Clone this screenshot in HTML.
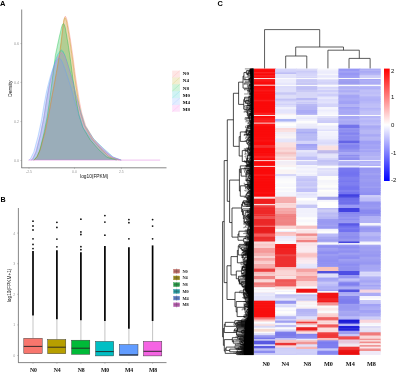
<!DOCTYPE html><html><head><meta charset="utf-8"><style>html,body{margin:0;padding:0;background:#fff;}svg{display:block;filter:blur(0.3px);}</style></head><body><svg width="401" height="382" viewBox="0 0 401 382"><rect x="0" y="0" width="401" height="382" fill="#fff"/>
<text x="-0.1" y="6.0" font-family='"Liberation Sans", sans-serif' font-weight="bold" font-size="7.5" fill="#000">A</text>
<polygon points="28.5,160.10 34.30,160.10 35.55,158.90 36.80,157.70 37.59,156.50 38.08,155.30 38.56,154.10 39.05,152.91 39.54,151.71 40.02,150.51 40.51,149.31 40.93,148.11 41.26,146.91 41.58,145.71 41.91,144.51 42.24,143.31 42.56,142.11 42.89,140.91 43.22,139.71 43.54,138.51 43.87,137.32 44.19,136.12 44.52,134.92 44.85,133.72 45.17,132.52 45.50,131.32 45.74,130.12 45.99,128.92 46.23,127.72 46.47,126.52 46.72,125.32 46.96,124.12 47.21,122.93 47.45,121.73 47.69,120.53 47.94,119.33 48.18,118.13 48.42,116.93 48.67,115.73 48.91,114.53 49.15,113.33 49.38,112.13 49.60,110.93 49.81,109.73 50.02,108.54 50.23,107.34 50.45,106.14 50.66,104.94 50.87,103.74 51.08,102.54 51.29,101.34 51.51,100.14 51.72,98.94 51.93,97.74 52.15,96.54 52.37,95.34 52.60,94.15 52.83,92.95 53.05,91.75 53.28,90.55 53.51,89.35 53.74,88.15 53.96,86.95 54.19,85.75 54.42,84.55 54.65,83.35 54.87,82.15 55.10,80.95 55.32,79.76 55.53,78.56 55.75,77.36 55.97,76.16 56.18,74.96 56.40,73.76 56.62,72.56 56.83,71.36 57.05,70.16 57.27,68.96 57.48,67.76 57.70,66.56 57.89,65.37 58.08,64.17 58.27,62.97 58.47,61.77 58.66,60.57 58.85,59.37 59.04,58.17 59.23,56.97 59.42,55.77 59.62,54.57 59.81,53.37 60.00,52.17 60.16,50.98 60.31,49.78 60.47,48.58 60.62,47.38 60.78,46.18 60.94,44.98 61.09,43.78 61.25,42.58 61.41,41.38 61.55,40.18 61.68,38.98 61.81,37.78 61.95,36.59 62.08,35.39 62.21,34.19 62.34,32.99 62.47,31.79 62.60,30.59 62.75,29.39 62.90,28.19 63.05,26.99 63.20,25.79 63.35,24.59 63.50,23.39 63.69,22.20 63.88,21.00 64.07,19.80 64.26,18.60 64.74,17.40 65.30,16.20 66.13,17.40 66.57,18.60 66.90,19.80 67.23,21.00 67.47,22.20 67.67,23.39 67.88,24.59 68.08,25.79 68.29,26.99 68.50,28.19 68.70,29.39 68.91,30.59 69.12,31.79 69.32,32.99 69.53,34.19 69.74,35.39 69.94,36.59 70.15,37.78 70.33,38.98 70.51,40.18 70.68,41.38 70.86,42.58 71.03,43.78 71.21,44.98 71.38,46.18 71.55,47.38 71.73,48.58 71.90,49.78 72.08,50.98 72.25,52.17 72.43,53.37 72.60,54.57 72.78,55.77 72.95,56.97 73.13,58.17 73.30,59.37 73.45,60.57 73.60,61.77 73.75,62.97 73.90,64.17 74.05,65.37 74.20,66.56 74.35,67.76 74.50,68.96 74.65,70.16 74.80,71.36 74.95,72.56 75.10,73.76 75.28,74.96 75.46,76.16 75.65,77.36 75.83,78.56 76.01,79.76 76.19,80.95 76.37,82.15 76.56,83.35 76.74,84.55 76.92,85.75 77.11,86.95 77.29,88.15 77.48,89.35 77.67,90.55 77.86,91.75 78.05,92.95 78.23,94.15 78.42,95.34 78.61,96.54 78.80,97.74 78.99,98.94 79.19,100.14 79.42,101.34 79.66,102.54 79.89,103.74 80.12,104.94 80.35,106.14 80.58,107.34 80.81,108.54 81.04,109.73 81.28,110.93 81.51,112.13 81.82,113.33 82.19,114.53 82.56,115.73 82.93,116.93 83.30,118.13 83.67,119.33 84.04,120.53 84.41,121.73 84.79,122.93 85.16,124.12 85.53,125.32 86.17,126.52 86.87,127.72 87.58,128.92 88.28,130.12 88.99,131.32 89.70,132.52 90.40,133.72 91.11,134.92 91.82,136.12 92.52,137.32 93.23,138.51 94.20,139.71 95.25,140.91 96.30,142.11 97.35,143.31 98.40,144.51 99.45,145.71 100.50,146.91 101.55,148.11 102.60,149.31 103.92,150.51 105.24,151.71 106.55,152.91 107.87,154.10 109.19,155.30 110.51,156.50 112.97,157.70 117.13,158.90 121.30,160.10 160,160.10" fill="#F8766D" fill-opacity="0.20" stroke="none"/>
<polygon points="28.5,160.10 33.90,160.10 35.15,158.91 36.40,157.72 37.19,156.54 37.68,155.35 38.16,154.16 38.65,152.97 39.14,151.79 39.62,150.60 40.11,149.41 40.53,148.22 40.86,147.04 41.18,145.85 41.51,144.66 41.84,143.47 42.16,142.29 42.49,141.10 42.82,139.91 43.14,138.72 43.47,137.54 43.79,136.35 44.12,135.16 44.45,133.97 44.77,132.79 45.10,131.60 45.34,130.41 45.59,129.22 45.83,128.04 46.07,126.85 46.32,125.66 46.56,124.47 46.81,123.29 47.05,122.10 47.29,120.91 47.54,119.72 47.78,118.54 48.02,117.35 48.27,116.16 48.51,114.97 48.75,113.79 48.98,112.60 49.20,111.41 49.41,110.22 49.62,109.04 49.83,107.85 50.05,106.66 50.26,105.47 50.47,104.29 50.68,103.10 50.89,101.91 51.11,100.72 51.32,99.54 51.53,98.35 51.75,97.16 51.97,95.97 52.20,94.79 52.43,93.60 52.65,92.41 52.88,91.22 53.11,90.04 53.34,88.85 53.56,87.66 53.79,86.48 54.02,85.29 54.25,84.10 54.47,82.91 54.70,81.72 54.92,80.54 55.13,79.35 55.35,78.16 55.57,76.97 55.78,75.79 56.00,74.60 56.22,73.41 56.43,72.22 56.65,71.04 56.87,69.85 57.08,68.66 57.30,67.47 57.49,66.29 57.68,65.10 57.88,63.91 58.07,62.72 58.26,61.54 58.45,60.35 58.64,59.16 58.83,57.97 59.03,56.79 59.22,55.60 59.41,54.41 59.60,53.22 59.76,52.04 59.91,50.85 60.07,49.66 60.23,48.47 60.38,47.29 60.54,46.10 60.69,44.91 60.85,43.72 61.01,42.54 61.15,41.35 61.28,40.16 61.41,38.97 61.55,37.79 61.68,36.60 61.81,35.41 61.94,34.22 62.07,33.04 62.20,31.85 62.35,30.66 62.50,29.47 62.65,28.29 62.80,27.10 62.95,25.91 63.10,24.72 63.29,23.54 63.48,22.35 63.67,21.16 63.86,19.97 64.34,18.79 64.90,17.60 65.71,18.79 66.13,19.97 66.45,21.16 66.78,22.35 67.00,23.54 67.20,24.72 67.40,25.91 67.60,27.10 67.80,28.29 68.00,29.47 68.20,30.66 68.40,31.85 68.60,33.04 68.80,34.22 69.00,35.41 69.20,36.60 69.40,37.79 69.60,38.97 69.78,40.16 69.95,41.35 70.12,42.54 70.29,43.72 70.46,44.91 70.63,46.10 70.80,47.29 70.97,48.47 71.14,49.66 71.31,50.85 71.47,52.04 71.64,53.22 71.81,54.41 71.98,55.60 72.15,56.79 72.32,57.97 72.49,59.16 72.66,60.35 72.81,61.54 72.95,62.72 73.10,63.91 73.24,65.10 73.39,66.29 73.53,67.47 73.68,68.66 73.82,69.85 73.97,71.04 74.12,72.22 74.26,73.41 74.41,74.60 74.58,75.79 74.76,76.97 74.94,78.16 75.11,79.35 75.29,80.54 75.47,81.72 75.64,82.91 75.82,84.10 75.99,85.29 76.17,86.48 76.35,87.66 76.53,88.85 76.72,90.04 76.90,91.22 77.08,92.41 77.26,93.60 77.45,94.79 77.63,95.97 77.81,97.16 77.99,98.35 78.18,99.54 78.38,100.72 78.60,101.91 78.82,103.10 79.05,104.29 79.27,105.47 79.50,106.66 79.72,107.85 79.95,109.04 80.17,110.22 80.40,111.41 80.62,112.60 80.93,113.79 81.29,114.97 81.65,116.16 82.00,117.35 82.36,118.54 82.72,119.72 83.08,120.91 83.44,122.10 83.80,123.29 84.16,124.47 84.52,125.66 85.14,126.85 85.82,128.04 86.51,129.22 87.20,130.41 87.88,131.60 88.57,132.79 89.25,133.97 89.94,135.16 90.62,136.35 91.31,137.54 91.99,138.72 92.93,139.91 93.95,141.10 94.97,142.29 95.99,143.47 97.01,144.66 98.02,145.85 99.04,147.04 100.06,148.22 101.08,149.41 102.36,150.60 103.64,151.79 104.92,152.97 106.20,154.16 107.47,155.35 108.75,156.54 111.14,157.72 115.18,158.91 119.22,160.10 160,160.10" fill="#B79F00" fill-opacity="0.20" stroke="none"/>
<polygon points="28.5,160.10 33.50,160.10 34.75,158.96 36.00,157.82 36.83,156.69 37.39,155.55 37.94,154.41 38.50,153.28 39.06,152.14 39.56,151.00 39.84,149.86 40.12,148.72 40.40,147.59 40.69,146.45 40.97,145.31 41.25,144.17 41.53,143.04 41.81,141.90 42.10,140.76 42.38,139.62 42.66,138.49 42.94,137.35 43.23,136.21 43.51,135.07 43.77,133.94 44.00,132.80 44.23,131.66 44.45,130.53 44.68,129.39 44.91,128.25 45.13,127.11 45.36,125.97 45.59,124.84 45.81,123.70 46.04,122.56 46.27,121.42 46.49,120.29 46.72,119.15 46.95,118.01 47.16,116.88 47.33,115.74 47.51,114.60 47.68,113.46 47.85,112.32 48.03,111.19 48.20,110.05 48.38,108.91 48.55,107.78 48.73,106.64 48.90,105.50 49.08,104.36 49.25,103.22 49.43,102.09 49.60,100.95 49.76,99.81 49.91,98.67 50.05,97.54 50.20,96.40 50.34,95.26 50.48,94.12 50.63,92.99 50.77,91.85 50.92,90.71 51.06,89.58 51.20,88.44 51.35,87.30 51.49,86.16 51.64,85.02 51.78,83.89 51.92,82.75 52.07,81.61 52.21,80.47 52.36,79.34 52.50,78.20 52.64,77.06 52.79,75.92 52.93,74.79 53.08,73.65 53.22,72.51 53.36,71.37 53.51,70.24 53.65,69.10 53.79,67.96 53.94,66.82 54.08,65.69 54.23,64.55 54.37,63.41 54.51,62.27 54.66,61.14 54.80,60.00 54.95,58.86 55.09,57.72 55.23,56.59 55.38,55.45 55.60,54.31 55.84,53.17 56.08,52.04 56.32,50.90 56.56,49.76 56.80,48.62 57.04,47.49 57.28,46.35 57.52,45.21 57.76,44.08 58.00,42.94 58.24,41.80 58.48,40.66 58.72,39.52 58.96,38.39 59.23,37.25 59.50,36.11 59.78,34.97 60.05,33.84 60.32,32.70 60.59,31.56 60.87,30.43 61.12,29.29 61.37,28.15 61.68,27.01 62.06,25.88 62.44,24.74 63.50,23.60 64.29,24.74 64.70,25.88 65.02,27.01 65.34,28.15 65.56,29.29 65.75,30.43 65.95,31.56 66.15,32.70 66.34,33.84 66.54,34.97 66.73,36.11 66.93,37.25 67.13,38.39 67.32,39.52 67.52,40.66 67.72,41.80 67.91,42.94 68.11,44.08 68.28,45.21 68.45,46.35 68.61,47.49 68.78,48.62 68.94,49.76 69.11,50.90 69.28,52.04 69.44,53.17 69.61,54.31 69.77,55.45 69.94,56.59 70.11,57.72 70.27,58.86 70.44,60.00 70.60,61.14 70.77,62.27 70.93,63.41 71.10,64.55 71.24,65.69 71.39,66.82 71.53,67.96 71.67,69.10 71.81,70.24 71.95,71.37 72.10,72.51 72.24,73.65 72.38,74.79 72.53,75.92 72.67,77.06 72.81,78.20 72.98,79.34 73.16,80.47 73.33,81.61 73.50,82.75 73.67,83.89 73.85,85.02 74.02,86.16 74.19,87.30 74.37,88.44 74.54,89.58 74.72,90.71 74.89,91.85 75.07,92.99 75.25,94.12 75.43,95.26 75.61,96.40 75.79,97.54 75.97,98.67 76.15,99.81 76.32,100.95 76.50,102.09 76.70,103.22 76.92,104.36 77.14,105.50 77.36,106.64 77.58,107.78 77.80,108.91 78.02,110.05 78.24,111.19 78.46,112.32 78.68,113.46 78.90,114.60 79.20,115.74 79.55,116.88 79.90,118.01 80.25,119.15 80.60,120.29 80.96,121.42 81.31,122.56 81.66,123.70 82.01,124.84 82.36,125.97 82.71,127.11 83.32,128.25 83.99,129.39 84.66,130.53 85.34,131.66 86.01,132.80 86.68,133.94 87.35,135.07 88.02,136.21 88.69,137.35 89.36,138.49 90.03,139.62 90.95,140.76 91.95,141.90 92.95,143.04 93.95,144.17 94.94,145.31 95.94,146.45 96.94,147.59 97.94,148.72 98.94,149.86 100.19,151.00 101.44,152.14 102.69,153.28 103.94,154.41 105.20,155.55 106.45,156.69 108.78,157.82 112.74,158.96 116.70,160.10 160,160.10" fill="#00BA38" fill-opacity="0.26" stroke="none"/>
<polygon points="28.5,160.10 31.54,160.10 32.47,159.18 33.30,158.26 33.71,157.35 34.12,156.43 34.53,155.51 34.94,154.59 35.35,153.68 35.77,152.76 36.18,151.84 36.49,150.92 36.72,150.01 36.95,149.09 37.18,148.17 37.40,147.25 37.63,146.34 37.86,145.42 38.08,144.50 38.31,143.59 38.54,142.67 38.76,141.75 38.99,140.83 39.22,139.91 39.45,139.00 39.67,138.08 39.90,137.16 40.13,136.25 40.35,135.33 40.58,134.41 40.78,133.49 40.95,132.57 41.13,131.66 41.31,130.74 41.49,129.82 41.67,128.91 41.85,127.99 42.03,127.07 42.21,126.15 42.39,125.23 42.56,124.32 42.74,123.40 42.92,122.48 43.10,121.56 43.28,120.65 43.46,119.73 43.64,118.81 43.82,117.90 43.99,116.98 44.13,116.06 44.27,115.14 44.41,114.22 44.55,113.31 44.69,112.39 44.83,111.47 44.96,110.55 45.10,109.64 45.24,108.72 45.38,107.80 45.52,106.88 45.66,105.97 45.79,105.05 45.93,104.13 46.07,103.22 46.21,102.30 46.35,101.38 46.48,100.46 46.63,99.54 46.79,98.63 46.95,97.71 47.11,96.79 47.28,95.88 47.44,94.96 47.60,94.04 47.77,93.12 47.93,92.20 48.09,91.29 48.25,90.37 48.42,89.45 48.58,88.53 48.74,87.62 48.90,86.70 49.10,85.78 49.30,84.86 49.50,83.95 49.70,83.03 49.89,82.11 50.09,81.19 50.29,80.28 50.49,79.36 50.69,78.44 50.91,77.53 51.13,76.61 51.35,75.69 51.57,74.77 51.80,73.86 52.02,72.94 52.24,72.02 52.46,71.10 52.70,70.19 52.96,69.27 53.21,68.35 53.47,67.43 53.72,66.52 53.97,65.60 54.23,64.68 54.48,63.76 54.74,62.84 55.05,61.93 55.37,61.01 55.69,60.09 56.02,59.17 56.34,58.26 56.66,57.34 56.99,56.42 57.31,55.51 57.68,54.59 58.32,53.67 58.95,52.75 59.58,51.84 60.29,50.92 61.30,50.00 62.55,50.92 63.18,51.84 63.65,52.75 64.12,53.67 64.56,54.59 64.88,55.51 65.20,56.42 65.52,57.34 65.84,58.26 66.16,59.17 66.48,60.09 66.80,61.01 67.08,61.93 67.35,62.84 67.62,63.76 67.90,64.68 68.17,65.60 68.45,66.52 68.72,67.43 69.00,68.35 69.28,69.27 69.55,70.19 69.83,71.10 70.10,72.02 70.37,72.94 70.63,73.86 70.90,74.77 71.17,75.69 71.43,76.61 71.70,77.53 71.97,78.44 72.23,79.36 72.50,80.28 72.77,81.19 73.03,82.11 73.30,83.03 73.51,83.95 73.72,84.86 73.92,85.78 74.13,86.70 74.34,87.62 74.55,88.53 74.76,89.45 74.97,90.37 75.17,91.29 75.38,92.20 75.59,93.12 75.80,94.04 76.05,94.96 76.30,95.88 76.55,96.79 76.80,97.71 77.05,98.63 77.30,99.54 77.55,100.46 77.80,101.38 78.05,102.30 78.30,103.22 78.55,104.13 78.80,105.05 79.06,105.97 79.32,106.88 79.58,107.80 79.84,108.72 80.10,109.64 80.36,110.55 80.62,111.47 80.89,112.39 81.17,113.31 81.44,114.22 81.72,115.14 82.00,116.06 82.28,116.98 82.56,117.90 82.83,118.81 83.11,119.73 83.39,120.65 83.67,121.56 83.94,122.48 84.22,123.40 84.50,124.32 84.78,125.23 85.34,126.15 85.93,127.07 86.52,127.99 87.11,128.91 87.70,129.82 88.29,130.74 88.88,131.66 89.47,132.57 90.07,133.49 90.66,134.41 91.25,135.33 91.84,136.25 92.43,137.16 93.02,138.08 93.79,139.00 94.74,139.91 95.68,140.83 96.63,141.75 97.57,142.67 98.52,143.59 99.46,144.50 100.41,145.42 101.35,146.34 102.30,147.25 103.24,148.17 104.19,149.09 105.22,150.01 106.26,150.92 107.30,151.84 108.34,152.76 109.38,153.68 110.42,154.59 111.47,155.51 112.51,156.43 113.89,157.35 116.36,158.26 118.83,159.18 121.30,160.10 160,160.10" fill="#00BFC4" fill-opacity="0.20" stroke="none"/>
<polygon points="28.5,160.10 28.92,160.10 29.86,159.25 30.70,158.40 31.11,157.55 31.53,156.70 31.94,155.85 32.36,155.00 32.78,154.14 33.19,153.29 33.61,152.44 33.93,151.59 34.16,150.74 34.39,149.89 34.62,149.04 34.85,148.19 35.07,147.34 35.30,146.49 35.53,145.64 35.76,144.78 35.99,143.93 36.22,143.08 36.45,142.23 36.68,141.38 36.91,140.53 37.14,139.68 37.37,138.83 37.60,137.98 37.83,137.13 38.06,136.28 38.25,135.43 38.44,134.57 38.62,133.72 38.80,132.87 38.98,132.02 39.16,131.17 39.34,130.32 39.52,129.47 39.70,128.62 39.88,127.77 40.06,126.92 40.24,126.07 40.42,125.22 40.60,124.37 40.79,123.51 40.97,122.66 41.15,121.81 41.33,120.96 41.51,120.11 41.65,119.26 41.79,118.41 41.93,117.56 42.07,116.71 42.21,115.86 42.35,115.01 42.49,114.16 42.63,113.30 42.77,112.45 42.91,111.60 43.05,110.75 43.19,109.90 43.33,109.05 43.47,108.20 43.61,107.35 43.75,106.50 43.89,105.65 44.03,104.80 44.17,103.94 44.33,103.09 44.50,102.24 44.66,101.39 44.83,100.54 44.99,99.69 45.16,98.84 45.32,97.99 45.48,97.14 45.65,96.29 45.81,95.44 45.98,94.59 46.14,93.73 46.31,92.88 46.47,92.03 46.67,91.18 46.87,90.33 47.07,89.48 47.27,88.63 47.47,87.78 47.67,86.93 47.87,86.08 48.07,85.23 48.28,84.38 48.50,83.53 48.72,82.67 48.95,81.82 49.17,80.97 49.39,80.12 49.62,79.27 49.84,78.42 50.07,77.57 50.31,76.72 50.57,75.87 50.82,75.02 51.08,74.17 51.34,73.31 51.60,72.46 51.85,71.61 52.11,70.76 52.37,69.91 52.68,69.06 53.01,68.21 53.33,67.36 53.66,66.51 53.99,65.66 54.31,64.81 54.64,63.96 54.97,63.11 55.34,62.25 55.98,61.40 56.62,60.55 57.27,59.70 57.98,58.85 59.00,58.00 60.29,58.85 60.93,59.70 61.42,60.55 61.91,61.40 62.36,62.25 62.69,63.11 63.02,63.96 63.35,64.81 63.68,65.66 64.01,66.51 64.34,67.36 64.67,68.21 64.95,69.06 65.23,69.91 65.51,70.76 65.80,71.61 66.08,72.46 66.36,73.31 66.65,74.17 66.93,75.02 67.21,75.87 67.50,76.72 67.78,77.57 68.06,78.42 68.34,79.27 68.61,80.12 68.89,80.97 69.16,81.82 69.44,82.67 69.71,83.53 69.99,84.38 70.26,85.23 70.54,86.08 70.81,86.93 71.09,87.78 71.36,88.63 71.57,89.48 71.79,90.33 72.00,91.18 72.22,92.03 72.43,92.88 72.65,93.73 72.86,94.59 73.08,95.44 73.29,96.29 73.51,97.14 73.72,97.99 73.94,98.84 74.19,99.69 74.45,100.54 74.71,101.39 74.97,102.24 75.22,103.09 75.48,103.94 75.74,104.80 76.00,105.65 76.25,106.50 76.51,107.35 76.77,108.20 77.03,109.05 77.29,109.90 77.56,110.75 77.83,111.60 78.10,112.45 78.37,113.30 78.63,114.16 78.90,115.01 79.18,115.86 79.46,116.71 79.75,117.56 80.03,118.41 80.32,119.26 80.61,120.11 80.89,120.96 81.18,121.81 81.47,122.66 81.75,123.51 82.04,124.37 82.32,125.22 82.61,126.07 82.90,126.92 83.18,127.77 83.76,128.62 84.37,129.47 84.98,130.32 85.59,131.17 86.20,132.02 86.80,132.87 87.41,133.72 88.02,134.57 88.63,135.43 89.24,136.28 89.84,137.13 90.45,137.98 91.06,138.83 91.67,139.68 92.47,140.53 93.44,141.38 94.41,142.23 95.39,143.08 96.36,143.93 97.33,144.78 98.31,145.64 99.28,146.49 100.25,147.34 101.23,148.19 102.20,149.04 103.17,149.89 104.23,150.74 105.31,151.59 106.38,152.44 107.45,153.29 108.53,154.14 109.60,155.00 110.67,155.85 111.74,156.70 113.17,157.55 115.71,158.40 118.26,159.25 120.80,160.10 160,160.10" fill="#619CFF" fill-opacity="0.20" stroke="none"/>
<polygon points="28.5,160.10 30.88,160.10 31.84,159.20 32.69,158.31 33.12,157.41 33.54,156.51 33.97,155.62 34.39,154.72 34.82,153.82 35.24,152.93 35.67,152.03 35.99,151.13 36.23,150.24 36.46,149.34 36.70,148.44 36.93,147.55 37.17,146.65 37.40,145.75 37.63,144.86 37.87,143.96 38.10,143.06 38.34,142.17 38.57,141.27 38.81,140.37 39.04,139.48 39.28,138.58 39.51,137.68 39.74,136.79 39.98,135.89 40.21,134.99 40.41,134.10 40.60,133.20 40.78,132.30 40.97,131.41 41.15,130.51 41.34,129.61 41.52,128.72 41.71,127.82 41.89,126.92 42.08,126.03 42.26,125.13 42.44,124.23 42.63,123.34 42.81,122.44 43.00,121.54 43.18,120.65 43.37,119.75 43.55,118.85 43.74,117.96 43.88,117.06 44.02,116.16 44.17,115.27 44.31,114.37 44.45,113.47 44.59,112.58 44.74,111.68 44.88,110.78 45.02,109.89 45.17,108.99 45.31,108.09 45.45,107.20 45.59,106.30 45.74,105.40 45.88,104.51 46.02,103.61 46.16,102.71 46.31,101.82 46.45,100.92 46.62,100.02 46.79,99.13 46.96,98.23 47.12,97.33 47.29,96.44 47.46,95.54 47.63,94.64 47.80,93.75 47.96,92.85 48.13,91.95 48.30,91.06 48.47,90.16 48.64,89.26 48.81,88.37 49.00,87.47 49.21,86.57 49.42,85.68 49.62,84.78 49.83,83.88 50.03,82.99 50.24,82.09 50.44,81.19 50.65,80.30 50.88,79.40 51.10,78.50 51.33,77.61 51.56,76.71 51.79,75.81 52.02,74.92 52.25,74.02 52.48,73.12 52.72,72.23 52.99,71.33 53.25,70.43 53.51,69.54 53.78,68.64 54.04,67.74 54.30,66.85 54.56,65.95 54.83,65.05 55.15,64.16 55.48,63.26 55.81,62.36 56.15,61.47 56.48,60.57 56.81,59.67 57.15,58.78 57.48,57.88 57.86,56.98 58.52,56.09 59.17,55.19 59.83,54.29 60.56,53.40 61.60,52.50 62.82,53.40 63.44,54.29 63.90,55.19 64.37,56.09 64.80,56.98 65.11,57.88 65.42,58.78 65.74,59.67 66.05,60.57 66.36,61.47 66.68,62.36 66.99,63.26 67.26,64.16 67.53,65.05 67.80,65.95 68.07,66.85 68.34,67.74 68.61,68.64 68.88,69.54 69.15,70.43 69.42,71.33 69.69,72.23 69.95,73.12 70.22,74.02 70.49,74.92 70.75,75.81 71.01,76.71 71.27,77.61 71.53,78.50 71.79,79.40 72.05,80.30 72.31,81.19 72.58,82.09 72.84,82.99 73.10,83.88 73.36,84.78 73.56,85.68 73.77,86.57 73.97,87.47 74.18,88.37 74.38,89.26 74.58,90.16 74.79,91.06 74.99,91.95 75.20,92.85 75.40,93.75 75.61,94.64 75.81,95.54 76.06,96.44 76.30,97.33 76.55,98.23 76.79,99.13 77.03,100.02 77.28,100.92 77.53,101.82 77.77,102.71 78.02,103.61 78.26,104.51 78.50,105.40 78.75,106.30 79.01,107.20 79.26,108.09 79.52,108.99 79.77,109.89 80.03,110.78 80.28,111.68 80.54,112.58 80.80,113.47 81.07,114.37 81.34,115.27 81.61,116.16 81.89,117.06 82.16,117.96 82.43,118.85 82.70,119.75 82.97,120.65 83.25,121.54 83.52,122.44 83.79,123.34 84.06,124.23 84.34,125.13 84.61,126.03 85.16,126.92 85.74,127.82 86.32,128.72 86.90,129.61 87.48,130.51 88.05,131.41 88.63,132.30 89.21,133.20 89.79,134.10 90.37,134.99 90.95,135.89 91.53,136.79 92.10,137.68 92.68,138.58 93.44,139.48 94.37,140.37 95.29,141.27 96.22,142.17 97.15,143.06 98.07,143.96 99.00,144.86 99.92,145.75 100.85,146.65 101.78,147.55 102.70,148.44 103.63,149.34 104.64,150.24 105.66,151.13 106.68,152.03 107.70,152.93 108.72,153.82 109.74,154.72 110.76,155.62 111.78,156.51 113.14,157.41 115.56,158.31 117.98,159.20 120.40,160.10 160,160.10" fill="#F564E3" fill-opacity="0.20" stroke="none"/>
<polyline points="34.30,160.10 35.55,158.90 36.80,157.70 37.59,156.50 38.08,155.30 38.56,154.10 39.05,152.91 39.54,151.71 40.02,150.51 40.51,149.31 40.93,148.11 41.26,146.91 41.58,145.71 41.91,144.51 42.24,143.31 42.56,142.11 42.89,140.91 43.22,139.71 43.54,138.51 43.87,137.32 44.19,136.12 44.52,134.92 44.85,133.72 45.17,132.52 45.50,131.32 45.74,130.12 45.99,128.92 46.23,127.72 46.47,126.52 46.72,125.32 46.96,124.12 47.21,122.93 47.45,121.73 47.69,120.53 47.94,119.33 48.18,118.13 48.42,116.93 48.67,115.73 48.91,114.53 49.15,113.33 49.38,112.13 49.60,110.93 49.81,109.73 50.02,108.54 50.23,107.34 50.45,106.14 50.66,104.94 50.87,103.74 51.08,102.54 51.29,101.34 51.51,100.14 51.72,98.94 51.93,97.74 52.15,96.54 52.37,95.34 52.60,94.15 52.83,92.95 53.05,91.75 53.28,90.55 53.51,89.35 53.74,88.15 53.96,86.95 54.19,85.75 54.42,84.55 54.65,83.35 54.87,82.15 55.10,80.95 55.32,79.76 55.53,78.56 55.75,77.36 55.97,76.16 56.18,74.96 56.40,73.76 56.62,72.56 56.83,71.36 57.05,70.16 57.27,68.96 57.48,67.76 57.70,66.56 57.89,65.37 58.08,64.17 58.27,62.97 58.47,61.77 58.66,60.57 58.85,59.37 59.04,58.17 59.23,56.97 59.42,55.77 59.62,54.57 59.81,53.37 60.00,52.17 60.16,50.98 60.31,49.78 60.47,48.58 60.62,47.38 60.78,46.18 60.94,44.98 61.09,43.78 61.25,42.58 61.41,41.38 61.55,40.18 61.68,38.98 61.81,37.78 61.95,36.59 62.08,35.39 62.21,34.19 62.34,32.99 62.47,31.79 62.60,30.59 62.75,29.39 62.90,28.19 63.05,26.99 63.20,25.79 63.35,24.59 63.50,23.39 63.69,22.20 63.88,21.00 64.07,19.80 64.26,18.60 64.74,17.40 65.30,16.20 66.13,17.40 66.57,18.60 66.90,19.80 67.23,21.00 67.47,22.20 67.67,23.39 67.88,24.59 68.08,25.79 68.29,26.99 68.50,28.19 68.70,29.39 68.91,30.59 69.12,31.79 69.32,32.99 69.53,34.19 69.74,35.39 69.94,36.59 70.15,37.78 70.33,38.98 70.51,40.18 70.68,41.38 70.86,42.58 71.03,43.78 71.21,44.98 71.38,46.18 71.55,47.38 71.73,48.58 71.90,49.78 72.08,50.98 72.25,52.17 72.43,53.37 72.60,54.57 72.78,55.77 72.95,56.97 73.13,58.17 73.30,59.37 73.45,60.57 73.60,61.77 73.75,62.97 73.90,64.17 74.05,65.37 74.20,66.56 74.35,67.76 74.50,68.96 74.65,70.16 74.80,71.36 74.95,72.56 75.10,73.76 75.28,74.96 75.46,76.16 75.65,77.36 75.83,78.56 76.01,79.76 76.19,80.95 76.37,82.15 76.56,83.35 76.74,84.55 76.92,85.75 77.11,86.95 77.29,88.15 77.48,89.35 77.67,90.55 77.86,91.75 78.05,92.95 78.23,94.15 78.42,95.34 78.61,96.54 78.80,97.74 78.99,98.94 79.19,100.14 79.42,101.34 79.66,102.54 79.89,103.74 80.12,104.94 80.35,106.14 80.58,107.34 80.81,108.54 81.04,109.73 81.28,110.93 81.51,112.13 81.82,113.33 82.19,114.53 82.56,115.73 82.93,116.93 83.30,118.13 83.67,119.33 84.04,120.53 84.41,121.73 84.79,122.93 85.16,124.12 85.53,125.32 86.17,126.52 86.87,127.72 87.58,128.92 88.28,130.12 88.99,131.32 89.70,132.52 90.40,133.72 91.11,134.92 91.82,136.12 92.52,137.32 93.23,138.51 94.20,139.71 95.25,140.91 96.30,142.11 97.35,143.31 98.40,144.51 99.45,145.71 100.50,146.91 101.55,148.11 102.60,149.31 103.92,150.51 105.24,151.71 106.55,152.91 107.87,154.10 109.19,155.30 110.51,156.50 112.97,157.70 117.13,158.90 121.30,160.10" fill="none" stroke="#F8766D" stroke-width="0.55" stroke-opacity="0.7"/>
<polyline points="33.90,160.10 35.15,158.91 36.40,157.72 37.19,156.54 37.68,155.35 38.16,154.16 38.65,152.97 39.14,151.79 39.62,150.60 40.11,149.41 40.53,148.22 40.86,147.04 41.18,145.85 41.51,144.66 41.84,143.47 42.16,142.29 42.49,141.10 42.82,139.91 43.14,138.72 43.47,137.54 43.79,136.35 44.12,135.16 44.45,133.97 44.77,132.79 45.10,131.60 45.34,130.41 45.59,129.22 45.83,128.04 46.07,126.85 46.32,125.66 46.56,124.47 46.81,123.29 47.05,122.10 47.29,120.91 47.54,119.72 47.78,118.54 48.02,117.35 48.27,116.16 48.51,114.97 48.75,113.79 48.98,112.60 49.20,111.41 49.41,110.22 49.62,109.04 49.83,107.85 50.05,106.66 50.26,105.47 50.47,104.29 50.68,103.10 50.89,101.91 51.11,100.72 51.32,99.54 51.53,98.35 51.75,97.16 51.97,95.97 52.20,94.79 52.43,93.60 52.65,92.41 52.88,91.22 53.11,90.04 53.34,88.85 53.56,87.66 53.79,86.48 54.02,85.29 54.25,84.10 54.47,82.91 54.70,81.72 54.92,80.54 55.13,79.35 55.35,78.16 55.57,76.97 55.78,75.79 56.00,74.60 56.22,73.41 56.43,72.22 56.65,71.04 56.87,69.85 57.08,68.66 57.30,67.47 57.49,66.29 57.68,65.10 57.88,63.91 58.07,62.72 58.26,61.54 58.45,60.35 58.64,59.16 58.83,57.97 59.03,56.79 59.22,55.60 59.41,54.41 59.60,53.22 59.76,52.04 59.91,50.85 60.07,49.66 60.23,48.47 60.38,47.29 60.54,46.10 60.69,44.91 60.85,43.72 61.01,42.54 61.15,41.35 61.28,40.16 61.41,38.97 61.55,37.79 61.68,36.60 61.81,35.41 61.94,34.22 62.07,33.04 62.20,31.85 62.35,30.66 62.50,29.47 62.65,28.29 62.80,27.10 62.95,25.91 63.10,24.72 63.29,23.54 63.48,22.35 63.67,21.16 63.86,19.97 64.34,18.79 64.90,17.60 65.71,18.79 66.13,19.97 66.45,21.16 66.78,22.35 67.00,23.54 67.20,24.72 67.40,25.91 67.60,27.10 67.80,28.29 68.00,29.47 68.20,30.66 68.40,31.85 68.60,33.04 68.80,34.22 69.00,35.41 69.20,36.60 69.40,37.79 69.60,38.97 69.78,40.16 69.95,41.35 70.12,42.54 70.29,43.72 70.46,44.91 70.63,46.10 70.80,47.29 70.97,48.47 71.14,49.66 71.31,50.85 71.47,52.04 71.64,53.22 71.81,54.41 71.98,55.60 72.15,56.79 72.32,57.97 72.49,59.16 72.66,60.35 72.81,61.54 72.95,62.72 73.10,63.91 73.24,65.10 73.39,66.29 73.53,67.47 73.68,68.66 73.82,69.85 73.97,71.04 74.12,72.22 74.26,73.41 74.41,74.60 74.58,75.79 74.76,76.97 74.94,78.16 75.11,79.35 75.29,80.54 75.47,81.72 75.64,82.91 75.82,84.10 75.99,85.29 76.17,86.48 76.35,87.66 76.53,88.85 76.72,90.04 76.90,91.22 77.08,92.41 77.26,93.60 77.45,94.79 77.63,95.97 77.81,97.16 77.99,98.35 78.18,99.54 78.38,100.72 78.60,101.91 78.82,103.10 79.05,104.29 79.27,105.47 79.50,106.66 79.72,107.85 79.95,109.04 80.17,110.22 80.40,111.41 80.62,112.60 80.93,113.79 81.29,114.97 81.65,116.16 82.00,117.35 82.36,118.54 82.72,119.72 83.08,120.91 83.44,122.10 83.80,123.29 84.16,124.47 84.52,125.66 85.14,126.85 85.82,128.04 86.51,129.22 87.20,130.41 87.88,131.60 88.57,132.79 89.25,133.97 89.94,135.16 90.62,136.35 91.31,137.54 91.99,138.72 92.93,139.91 93.95,141.10 94.97,142.29 95.99,143.47 97.01,144.66 98.02,145.85 99.04,147.04 100.06,148.22 101.08,149.41 102.36,150.60 103.64,151.79 104.92,152.97 106.20,154.16 107.47,155.35 108.75,156.54 111.14,157.72 115.18,158.91 119.22,160.10" fill="none" stroke="#B79F00" stroke-width="0.55" stroke-opacity="0.7"/>
<polyline points="33.50,160.10 34.75,158.96 36.00,157.82 36.83,156.69 37.39,155.55 37.94,154.41 38.50,153.28 39.06,152.14 39.56,151.00 39.84,149.86 40.12,148.72 40.40,147.59 40.69,146.45 40.97,145.31 41.25,144.17 41.53,143.04 41.81,141.90 42.10,140.76 42.38,139.62 42.66,138.49 42.94,137.35 43.23,136.21 43.51,135.07 43.77,133.94 44.00,132.80 44.23,131.66 44.45,130.53 44.68,129.39 44.91,128.25 45.13,127.11 45.36,125.97 45.59,124.84 45.81,123.70 46.04,122.56 46.27,121.42 46.49,120.29 46.72,119.15 46.95,118.01 47.16,116.88 47.33,115.74 47.51,114.60 47.68,113.46 47.85,112.32 48.03,111.19 48.20,110.05 48.38,108.91 48.55,107.78 48.73,106.64 48.90,105.50 49.08,104.36 49.25,103.22 49.43,102.09 49.60,100.95 49.76,99.81 49.91,98.67 50.05,97.54 50.20,96.40 50.34,95.26 50.48,94.12 50.63,92.99 50.77,91.85 50.92,90.71 51.06,89.58 51.20,88.44 51.35,87.30 51.49,86.16 51.64,85.02 51.78,83.89 51.92,82.75 52.07,81.61 52.21,80.47 52.36,79.34 52.50,78.20 52.64,77.06 52.79,75.92 52.93,74.79 53.08,73.65 53.22,72.51 53.36,71.37 53.51,70.24 53.65,69.10 53.79,67.96 53.94,66.82 54.08,65.69 54.23,64.55 54.37,63.41 54.51,62.27 54.66,61.14 54.80,60.00 54.95,58.86 55.09,57.72 55.23,56.59 55.38,55.45 55.60,54.31 55.84,53.17 56.08,52.04 56.32,50.90 56.56,49.76 56.80,48.62 57.04,47.49 57.28,46.35 57.52,45.21 57.76,44.08 58.00,42.94 58.24,41.80 58.48,40.66 58.72,39.52 58.96,38.39 59.23,37.25 59.50,36.11 59.78,34.97 60.05,33.84 60.32,32.70 60.59,31.56 60.87,30.43 61.12,29.29 61.37,28.15 61.68,27.01 62.06,25.88 62.44,24.74 63.50,23.60 64.29,24.74 64.70,25.88 65.02,27.01 65.34,28.15 65.56,29.29 65.75,30.43 65.95,31.56 66.15,32.70 66.34,33.84 66.54,34.97 66.73,36.11 66.93,37.25 67.13,38.39 67.32,39.52 67.52,40.66 67.72,41.80 67.91,42.94 68.11,44.08 68.28,45.21 68.45,46.35 68.61,47.49 68.78,48.62 68.94,49.76 69.11,50.90 69.28,52.04 69.44,53.17 69.61,54.31 69.77,55.45 69.94,56.59 70.11,57.72 70.27,58.86 70.44,60.00 70.60,61.14 70.77,62.27 70.93,63.41 71.10,64.55 71.24,65.69 71.39,66.82 71.53,67.96 71.67,69.10 71.81,70.24 71.95,71.37 72.10,72.51 72.24,73.65 72.38,74.79 72.53,75.92 72.67,77.06 72.81,78.20 72.98,79.34 73.16,80.47 73.33,81.61 73.50,82.75 73.67,83.89 73.85,85.02 74.02,86.16 74.19,87.30 74.37,88.44 74.54,89.58 74.72,90.71 74.89,91.85 75.07,92.99 75.25,94.12 75.43,95.26 75.61,96.40 75.79,97.54 75.97,98.67 76.15,99.81 76.32,100.95 76.50,102.09 76.70,103.22 76.92,104.36 77.14,105.50 77.36,106.64 77.58,107.78 77.80,108.91 78.02,110.05 78.24,111.19 78.46,112.32 78.68,113.46 78.90,114.60 79.20,115.74 79.55,116.88 79.90,118.01 80.25,119.15 80.60,120.29 80.96,121.42 81.31,122.56 81.66,123.70 82.01,124.84 82.36,125.97 82.71,127.11 83.32,128.25 83.99,129.39 84.66,130.53 85.34,131.66 86.01,132.80 86.68,133.94 87.35,135.07 88.02,136.21 88.69,137.35 89.36,138.49 90.03,139.62 90.95,140.76 91.95,141.90 92.95,143.04 93.95,144.17 94.94,145.31 95.94,146.45 96.94,147.59 97.94,148.72 98.94,149.86 100.19,151.00 101.44,152.14 102.69,153.28 103.94,154.41 105.20,155.55 106.45,156.69 108.78,157.82 112.74,158.96 116.70,160.10" fill="none" stroke="#00BA38" stroke-width="0.55" stroke-opacity="0.7"/>
<polyline points="31.54,160.10 32.47,159.18 33.30,158.26 33.71,157.35 34.12,156.43 34.53,155.51 34.94,154.59 35.35,153.68 35.77,152.76 36.18,151.84 36.49,150.92 36.72,150.01 36.95,149.09 37.18,148.17 37.40,147.25 37.63,146.34 37.86,145.42 38.08,144.50 38.31,143.59 38.54,142.67 38.76,141.75 38.99,140.83 39.22,139.91 39.45,139.00 39.67,138.08 39.90,137.16 40.13,136.25 40.35,135.33 40.58,134.41 40.78,133.49 40.95,132.57 41.13,131.66 41.31,130.74 41.49,129.82 41.67,128.91 41.85,127.99 42.03,127.07 42.21,126.15 42.39,125.23 42.56,124.32 42.74,123.40 42.92,122.48 43.10,121.56 43.28,120.65 43.46,119.73 43.64,118.81 43.82,117.90 43.99,116.98 44.13,116.06 44.27,115.14 44.41,114.22 44.55,113.31 44.69,112.39 44.83,111.47 44.96,110.55 45.10,109.64 45.24,108.72 45.38,107.80 45.52,106.88 45.66,105.97 45.79,105.05 45.93,104.13 46.07,103.22 46.21,102.30 46.35,101.38 46.48,100.46 46.63,99.54 46.79,98.63 46.95,97.71 47.11,96.79 47.28,95.88 47.44,94.96 47.60,94.04 47.77,93.12 47.93,92.20 48.09,91.29 48.25,90.37 48.42,89.45 48.58,88.53 48.74,87.62 48.90,86.70 49.10,85.78 49.30,84.86 49.50,83.95 49.70,83.03 49.89,82.11 50.09,81.19 50.29,80.28 50.49,79.36 50.69,78.44 50.91,77.53 51.13,76.61 51.35,75.69 51.57,74.77 51.80,73.86 52.02,72.94 52.24,72.02 52.46,71.10 52.70,70.19 52.96,69.27 53.21,68.35 53.47,67.43 53.72,66.52 53.97,65.60 54.23,64.68 54.48,63.76 54.74,62.84 55.05,61.93 55.37,61.01 55.69,60.09 56.02,59.17 56.34,58.26 56.66,57.34 56.99,56.42 57.31,55.51 57.68,54.59 58.32,53.67 58.95,52.75 59.58,51.84 60.29,50.92 61.30,50.00 62.55,50.92 63.18,51.84 63.65,52.75 64.12,53.67 64.56,54.59 64.88,55.51 65.20,56.42 65.52,57.34 65.84,58.26 66.16,59.17 66.48,60.09 66.80,61.01 67.08,61.93 67.35,62.84 67.62,63.76 67.90,64.68 68.17,65.60 68.45,66.52 68.72,67.43 69.00,68.35 69.28,69.27 69.55,70.19 69.83,71.10 70.10,72.02 70.37,72.94 70.63,73.86 70.90,74.77 71.17,75.69 71.43,76.61 71.70,77.53 71.97,78.44 72.23,79.36 72.50,80.28 72.77,81.19 73.03,82.11 73.30,83.03 73.51,83.95 73.72,84.86 73.92,85.78 74.13,86.70 74.34,87.62 74.55,88.53 74.76,89.45 74.97,90.37 75.17,91.29 75.38,92.20 75.59,93.12 75.80,94.04 76.05,94.96 76.30,95.88 76.55,96.79 76.80,97.71 77.05,98.63 77.30,99.54 77.55,100.46 77.80,101.38 78.05,102.30 78.30,103.22 78.55,104.13 78.80,105.05 79.06,105.97 79.32,106.88 79.58,107.80 79.84,108.72 80.10,109.64 80.36,110.55 80.62,111.47 80.89,112.39 81.17,113.31 81.44,114.22 81.72,115.14 82.00,116.06 82.28,116.98 82.56,117.90 82.83,118.81 83.11,119.73 83.39,120.65 83.67,121.56 83.94,122.48 84.22,123.40 84.50,124.32 84.78,125.23 85.34,126.15 85.93,127.07 86.52,127.99 87.11,128.91 87.70,129.82 88.29,130.74 88.88,131.66 89.47,132.57 90.07,133.49 90.66,134.41 91.25,135.33 91.84,136.25 92.43,137.16 93.02,138.08 93.79,139.00 94.74,139.91 95.68,140.83 96.63,141.75 97.57,142.67 98.52,143.59 99.46,144.50 100.41,145.42 101.35,146.34 102.30,147.25 103.24,148.17 104.19,149.09 105.22,150.01 106.26,150.92 107.30,151.84 108.34,152.76 109.38,153.68 110.42,154.59 111.47,155.51 112.51,156.43 113.89,157.35 116.36,158.26 118.83,159.18 121.30,160.10" fill="none" stroke="#00BFC4" stroke-width="0.55" stroke-opacity="0.7"/>
<polyline points="28.92,160.10 29.86,159.25 30.70,158.40 31.11,157.55 31.53,156.70 31.94,155.85 32.36,155.00 32.78,154.14 33.19,153.29 33.61,152.44 33.93,151.59 34.16,150.74 34.39,149.89 34.62,149.04 34.85,148.19 35.07,147.34 35.30,146.49 35.53,145.64 35.76,144.78 35.99,143.93 36.22,143.08 36.45,142.23 36.68,141.38 36.91,140.53 37.14,139.68 37.37,138.83 37.60,137.98 37.83,137.13 38.06,136.28 38.25,135.43 38.44,134.57 38.62,133.72 38.80,132.87 38.98,132.02 39.16,131.17 39.34,130.32 39.52,129.47 39.70,128.62 39.88,127.77 40.06,126.92 40.24,126.07 40.42,125.22 40.60,124.37 40.79,123.51 40.97,122.66 41.15,121.81 41.33,120.96 41.51,120.11 41.65,119.26 41.79,118.41 41.93,117.56 42.07,116.71 42.21,115.86 42.35,115.01 42.49,114.16 42.63,113.30 42.77,112.45 42.91,111.60 43.05,110.75 43.19,109.90 43.33,109.05 43.47,108.20 43.61,107.35 43.75,106.50 43.89,105.65 44.03,104.80 44.17,103.94 44.33,103.09 44.50,102.24 44.66,101.39 44.83,100.54 44.99,99.69 45.16,98.84 45.32,97.99 45.48,97.14 45.65,96.29 45.81,95.44 45.98,94.59 46.14,93.73 46.31,92.88 46.47,92.03 46.67,91.18 46.87,90.33 47.07,89.48 47.27,88.63 47.47,87.78 47.67,86.93 47.87,86.08 48.07,85.23 48.28,84.38 48.50,83.53 48.72,82.67 48.95,81.82 49.17,80.97 49.39,80.12 49.62,79.27 49.84,78.42 50.07,77.57 50.31,76.72 50.57,75.87 50.82,75.02 51.08,74.17 51.34,73.31 51.60,72.46 51.85,71.61 52.11,70.76 52.37,69.91 52.68,69.06 53.01,68.21 53.33,67.36 53.66,66.51 53.99,65.66 54.31,64.81 54.64,63.96 54.97,63.11 55.34,62.25 55.98,61.40 56.62,60.55 57.27,59.70 57.98,58.85 59.00,58.00 60.29,58.85 60.93,59.70 61.42,60.55 61.91,61.40 62.36,62.25 62.69,63.11 63.02,63.96 63.35,64.81 63.68,65.66 64.01,66.51 64.34,67.36 64.67,68.21 64.95,69.06 65.23,69.91 65.51,70.76 65.80,71.61 66.08,72.46 66.36,73.31 66.65,74.17 66.93,75.02 67.21,75.87 67.50,76.72 67.78,77.57 68.06,78.42 68.34,79.27 68.61,80.12 68.89,80.97 69.16,81.82 69.44,82.67 69.71,83.53 69.99,84.38 70.26,85.23 70.54,86.08 70.81,86.93 71.09,87.78 71.36,88.63 71.57,89.48 71.79,90.33 72.00,91.18 72.22,92.03 72.43,92.88 72.65,93.73 72.86,94.59 73.08,95.44 73.29,96.29 73.51,97.14 73.72,97.99 73.94,98.84 74.19,99.69 74.45,100.54 74.71,101.39 74.97,102.24 75.22,103.09 75.48,103.94 75.74,104.80 76.00,105.65 76.25,106.50 76.51,107.35 76.77,108.20 77.03,109.05 77.29,109.90 77.56,110.75 77.83,111.60 78.10,112.45 78.37,113.30 78.63,114.16 78.90,115.01 79.18,115.86 79.46,116.71 79.75,117.56 80.03,118.41 80.32,119.26 80.61,120.11 80.89,120.96 81.18,121.81 81.47,122.66 81.75,123.51 82.04,124.37 82.32,125.22 82.61,126.07 82.90,126.92 83.18,127.77 83.76,128.62 84.37,129.47 84.98,130.32 85.59,131.17 86.20,132.02 86.80,132.87 87.41,133.72 88.02,134.57 88.63,135.43 89.24,136.28 89.84,137.13 90.45,137.98 91.06,138.83 91.67,139.68 92.47,140.53 93.44,141.38 94.41,142.23 95.39,143.08 96.36,143.93 97.33,144.78 98.31,145.64 99.28,146.49 100.25,147.34 101.23,148.19 102.20,149.04 103.17,149.89 104.23,150.74 105.31,151.59 106.38,152.44 107.45,153.29 108.53,154.14 109.60,155.00 110.67,155.85 111.74,156.70 113.17,157.55 115.71,158.40 118.26,159.25 120.80,160.10" fill="none" stroke="#619CFF" stroke-width="0.55" stroke-opacity="0.7"/>
<polyline points="30.88,160.10 31.84,159.20 32.69,158.31 33.12,157.41 33.54,156.51 33.97,155.62 34.39,154.72 34.82,153.82 35.24,152.93 35.67,152.03 35.99,151.13 36.23,150.24 36.46,149.34 36.70,148.44 36.93,147.55 37.17,146.65 37.40,145.75 37.63,144.86 37.87,143.96 38.10,143.06 38.34,142.17 38.57,141.27 38.81,140.37 39.04,139.48 39.28,138.58 39.51,137.68 39.74,136.79 39.98,135.89 40.21,134.99 40.41,134.10 40.60,133.20 40.78,132.30 40.97,131.41 41.15,130.51 41.34,129.61 41.52,128.72 41.71,127.82 41.89,126.92 42.08,126.03 42.26,125.13 42.44,124.23 42.63,123.34 42.81,122.44 43.00,121.54 43.18,120.65 43.37,119.75 43.55,118.85 43.74,117.96 43.88,117.06 44.02,116.16 44.17,115.27 44.31,114.37 44.45,113.47 44.59,112.58 44.74,111.68 44.88,110.78 45.02,109.89 45.17,108.99 45.31,108.09 45.45,107.20 45.59,106.30 45.74,105.40 45.88,104.51 46.02,103.61 46.16,102.71 46.31,101.82 46.45,100.92 46.62,100.02 46.79,99.13 46.96,98.23 47.12,97.33 47.29,96.44 47.46,95.54 47.63,94.64 47.80,93.75 47.96,92.85 48.13,91.95 48.30,91.06 48.47,90.16 48.64,89.26 48.81,88.37 49.00,87.47 49.21,86.57 49.42,85.68 49.62,84.78 49.83,83.88 50.03,82.99 50.24,82.09 50.44,81.19 50.65,80.30 50.88,79.40 51.10,78.50 51.33,77.61 51.56,76.71 51.79,75.81 52.02,74.92 52.25,74.02 52.48,73.12 52.72,72.23 52.99,71.33 53.25,70.43 53.51,69.54 53.78,68.64 54.04,67.74 54.30,66.85 54.56,65.95 54.83,65.05 55.15,64.16 55.48,63.26 55.81,62.36 56.15,61.47 56.48,60.57 56.81,59.67 57.15,58.78 57.48,57.88 57.86,56.98 58.52,56.09 59.17,55.19 59.83,54.29 60.56,53.40 61.60,52.50 62.82,53.40 63.44,54.29 63.90,55.19 64.37,56.09 64.80,56.98 65.11,57.88 65.42,58.78 65.74,59.67 66.05,60.57 66.36,61.47 66.68,62.36 66.99,63.26 67.26,64.16 67.53,65.05 67.80,65.95 68.07,66.85 68.34,67.74 68.61,68.64 68.88,69.54 69.15,70.43 69.42,71.33 69.69,72.23 69.95,73.12 70.22,74.02 70.49,74.92 70.75,75.81 71.01,76.71 71.27,77.61 71.53,78.50 71.79,79.40 72.05,80.30 72.31,81.19 72.58,82.09 72.84,82.99 73.10,83.88 73.36,84.78 73.56,85.68 73.77,86.57 73.97,87.47 74.18,88.37 74.38,89.26 74.58,90.16 74.79,91.06 74.99,91.95 75.20,92.85 75.40,93.75 75.61,94.64 75.81,95.54 76.06,96.44 76.30,97.33 76.55,98.23 76.79,99.13 77.03,100.02 77.28,100.92 77.53,101.82 77.77,102.71 78.02,103.61 78.26,104.51 78.50,105.40 78.75,106.30 79.01,107.20 79.26,108.09 79.52,108.99 79.77,109.89 80.03,110.78 80.28,111.68 80.54,112.58 80.80,113.47 81.07,114.37 81.34,115.27 81.61,116.16 81.89,117.06 82.16,117.96 82.43,118.85 82.70,119.75 82.97,120.65 83.25,121.54 83.52,122.44 83.79,123.34 84.06,124.23 84.34,125.13 84.61,126.03 85.16,126.92 85.74,127.82 86.32,128.72 86.90,129.61 87.48,130.51 88.05,131.41 88.63,132.30 89.21,133.20 89.79,134.10 90.37,134.99 90.95,135.89 91.53,136.79 92.10,137.68 92.68,138.58 93.44,139.48 94.37,140.37 95.29,141.27 96.22,142.17 97.15,143.06 98.07,143.96 99.00,144.86 99.92,145.75 100.85,146.65 101.78,147.55 102.70,148.44 103.63,149.34 104.64,150.24 105.66,151.13 106.68,152.03 107.70,152.93 108.72,153.82 109.74,154.72 110.76,155.62 111.78,156.51 113.14,157.41 115.56,158.31 117.98,159.20 120.40,160.10" fill="none" stroke="#F564E3" stroke-width="0.55" stroke-opacity="0.7"/>
<line x1="28.3" y1="160.10" x2="160.2" y2="160.10" stroke="#E070E0" stroke-opacity="0.75" stroke-width="0.6"/>
<line x1="21.7" y1="9.5" x2="21.7" y2="167.8" stroke="#555" stroke-width="0.7"/>
<line x1="21.4" y1="167.8" x2="166.5" y2="167.8" stroke="#555" stroke-width="0.7"/>
<line x1="20.4" y1="43.6" x2="21.7" y2="43.6" stroke="#777" stroke-width="0.4"/>
<text x="19.2" y="44.9" font-family='"Liberation Sans", sans-serif' font-size="3.7" fill="#999" text-anchor="end">0.6</text>
<line x1="20.4" y1="82.4" x2="21.7" y2="82.4" stroke="#777" stroke-width="0.4"/>
<text x="19.2" y="83.7" font-family='"Liberation Sans", sans-serif' font-size="3.7" fill="#999" text-anchor="end">0.4</text>
<line x1="20.4" y1="121.6" x2="21.7" y2="121.6" stroke="#777" stroke-width="0.4"/>
<text x="19.2" y="122.9" font-family='"Liberation Sans", sans-serif' font-size="3.7" fill="#999" text-anchor="end">0.2</text>
<line x1="20.4" y1="160.5" x2="21.7" y2="160.5" stroke="#777" stroke-width="0.4"/>
<text x="19.2" y="161.8" font-family='"Liberation Sans", sans-serif' font-size="3.7" fill="#999" text-anchor="end">0.0</text>
<line x1="29.0" y1="167.6" x2="29.0" y2="168.9" stroke="#777" stroke-width="0.4"/>
<text x="29.0" y="173.3" font-family='"Liberation Sans", sans-serif' font-size="3.5" fill="#999" text-anchor="middle">-2.5</text>
<line x1="74.5" y1="167.6" x2="74.5" y2="168.9" stroke="#777" stroke-width="0.4"/>
<text x="74.5" y="173.3" font-family='"Liberation Sans", sans-serif' font-size="3.5" fill="#999" text-anchor="middle">0.0</text>
<line x1="121.4" y1="167.6" x2="121.4" y2="168.9" stroke="#777" stroke-width="0.4"/>
<text x="121.4" y="173.3" font-family='"Liberation Sans", sans-serif' font-size="3.5" fill="#999" text-anchor="middle">2.5</text>
<text x="94.2" y="178.2" font-family='"Liberation Sans", sans-serif' font-size="4.8" fill="#111" text-anchor="middle">log10(FPKM)</text>
<text transform="translate(11.5,88.7) rotate(-90)" font-family='"Liberation Sans", sans-serif' font-size="4.8" fill="#111" text-anchor="middle">Density</text>
<rect x="172.2" y="70.60" width="7.7" height="6.9" fill="#F8766D" fill-opacity="0.18"/>
<line x1="172.2" y1="77.50" x2="179.9" y2="70.60" stroke="#F8766D" stroke-opacity="0.35" stroke-width="0.4"/>
<text x="182.8" y="75.30" font-family='"Liberation Serif", serif' font-weight="bold" font-size="5.0" fill="#000">N0</text>
<rect x="172.2" y="77.45" width="7.7" height="6.9" fill="#B79F00" fill-opacity="0.18"/>
<line x1="172.2" y1="84.35" x2="179.9" y2="77.45" stroke="#B79F00" stroke-opacity="0.35" stroke-width="0.4"/>
<text x="182.8" y="82.46" font-family='"Liberation Serif", serif' font-weight="bold" font-size="5.0" fill="#000">N4</text>
<rect x="172.2" y="84.30" width="7.7" height="6.9" fill="#00BA38" fill-opacity="0.18"/>
<line x1="172.2" y1="91.20" x2="179.9" y2="84.30" stroke="#00BA38" stroke-opacity="0.35" stroke-width="0.4"/>
<text x="182.8" y="89.62" font-family='"Liberation Serif", serif' font-weight="bold" font-size="5.0" fill="#000">N8</text>
<rect x="172.2" y="91.15" width="7.7" height="6.9" fill="#00BFC4" fill-opacity="0.18"/>
<line x1="172.2" y1="98.05" x2="179.9" y2="91.15" stroke="#00BFC4" stroke-opacity="0.35" stroke-width="0.4"/>
<text x="182.8" y="96.78" font-family='"Liberation Serif", serif' font-weight="bold" font-size="5.0" fill="#000">M0</text>
<rect x="172.2" y="98.00" width="7.7" height="6.9" fill="#619CFF" fill-opacity="0.18"/>
<line x1="172.2" y1="104.90" x2="179.9" y2="98.00" stroke="#619CFF" stroke-opacity="0.35" stroke-width="0.4"/>
<text x="182.8" y="103.94" font-family='"Liberation Serif", serif' font-weight="bold" font-size="5.0" fill="#000">M4</text>
<rect x="172.2" y="104.85" width="7.7" height="6.9" fill="#F564E3" fill-opacity="0.18"/>
<line x1="172.2" y1="111.75" x2="179.9" y2="104.85" stroke="#F564E3" stroke-opacity="0.35" stroke-width="0.4"/>
<text x="182.8" y="111.10" font-family='"Liberation Serif", serif' font-weight="bold" font-size="5.0" fill="#000">M8</text>
<text x="0.6" y="202.2" font-family='"Liberation Sans", sans-serif' font-weight="bold" font-size="7.1" fill="#000">B</text>
<line x1="18.4" y1="208" x2="18.4" y2="362.6" stroke="#555" stroke-width="0.7"/>
<line x1="18.1" y1="362.6" x2="166.5" y2="362.6" stroke="#555" stroke-width="0.7"/>
<line x1="17.1" y1="355.5" x2="18.4" y2="355.5" stroke="#777" stroke-width="0.4"/>
<text x="15.2" y="356.9" font-family='"Liberation Sans", sans-serif' font-size="3.5" fill="#999" text-anchor="end">0</text>
<line x1="17.1" y1="324.9" x2="18.4" y2="324.9" stroke="#777" stroke-width="0.4"/>
<text x="15.2" y="326.3" font-family='"Liberation Sans", sans-serif' font-size="3.5" fill="#999" text-anchor="end">1</text>
<line x1="17.1" y1="294.3" x2="18.4" y2="294.3" stroke="#777" stroke-width="0.4"/>
<text x="15.2" y="295.7" font-family='"Liberation Sans", sans-serif' font-size="3.5" fill="#999" text-anchor="end">2</text>
<line x1="17.1" y1="263.7" x2="18.4" y2="263.7" stroke="#777" stroke-width="0.4"/>
<text x="15.2" y="265.1" font-family='"Liberation Sans", sans-serif' font-size="3.5" fill="#999" text-anchor="end">3</text>
<line x1="17.1" y1="233.1" x2="18.4" y2="233.1" stroke="#777" stroke-width="0.4"/>
<text x="15.2" y="234.5" font-family='"Liberation Sans", sans-serif' font-size="3.5" fill="#999" text-anchor="end">4</text>
<text transform="translate(11.1,285.4) rotate(-90)" font-family='"Liberation Sans", sans-serif' font-size="4.8" fill="#111" text-anchor="middle">log10(FPKM+1)</text>
<line x1="33.00" y1="315.60" x2="33.00" y2="338.30" stroke="#888" stroke-width="0.5"/>
<line x1="33.00" y1="251.00" x2="33.00" y2="315.60" stroke="#000" stroke-width="1.7"/>
<circle cx="33.00" cy="221.20" r="0.9" fill="#111"/>
<circle cx="33.00" cy="226.00" r="0.9" fill="#111"/>
<circle cx="33.00" cy="230.00" r="0.9" fill="#111"/>
<circle cx="33.00" cy="238.80" r="0.9" fill="#111"/>
<circle cx="33.00" cy="244.40" r="0.9" fill="#111"/>
<circle cx="33.00" cy="248.60" r="0.9" fill="#111"/>
<rect x="23.80" y="338.30" width="18.40" height="15.40" fill="#F8766D" stroke="#333" stroke-width="0.45"/>
<line x1="23.80" y1="346.40" x2="42.20" y2="346.40" stroke="#222" stroke-width="0.9"/>
<line x1="33.00" y1="362.6" x2="33.00" y2="363.9" stroke="#777" stroke-width="0.4"/>
<line x1="56.90" y1="319.30" x2="56.90" y2="339.50" stroke="#888" stroke-width="0.5"/>
<line x1="56.90" y1="250.30" x2="56.90" y2="319.30" stroke="#000" stroke-width="1.7"/>
<circle cx="56.90" cy="222.30" r="0.9" fill="#111"/>
<circle cx="56.90" cy="227.40" r="0.9" fill="#111"/>
<circle cx="56.90" cy="239.10" r="0.9" fill="#111"/>
<circle cx="56.90" cy="246.80" r="0.9" fill="#111"/>
<rect x="47.70" y="339.50" width="18.10" height="14.20" fill="#B79F00" stroke="#333" stroke-width="0.45"/>
<line x1="47.70" y1="347.20" x2="65.80" y2="347.20" stroke="#222" stroke-width="0.9"/>
<line x1="56.90" y1="362.6" x2="56.90" y2="363.9" stroke="#777" stroke-width="0.4"/>
<line x1="80.90" y1="320.20" x2="80.90" y2="340.20" stroke="#888" stroke-width="0.5"/>
<line x1="80.90" y1="252.30" x2="80.90" y2="320.20" stroke="#000" stroke-width="1.7"/>
<circle cx="80.90" cy="219.20" r="0.9" fill="#111"/>
<circle cx="80.90" cy="231.90" r="0.9" fill="#111"/>
<circle cx="80.90" cy="234.50" r="0.9" fill="#111"/>
<circle cx="80.90" cy="246.70" r="0.9" fill="#111"/>
<circle cx="80.90" cy="249.70" r="0.9" fill="#111"/>
<rect x="71.60" y="340.20" width="18.20" height="14.10" fill="#00BA38" stroke="#333" stroke-width="0.45"/>
<line x1="71.60" y1="348.20" x2="89.80" y2="348.20" stroke="#222" stroke-width="0.9"/>
<line x1="80.90" y1="362.6" x2="80.90" y2="363.9" stroke="#777" stroke-width="0.4"/>
<line x1="104.90" y1="321.00" x2="104.90" y2="341.40" stroke="#888" stroke-width="0.5"/>
<line x1="104.90" y1="246.00" x2="104.90" y2="321.00" stroke="#000" stroke-width="1.7"/>
<circle cx="104.90" cy="215.60" r="0.9" fill="#111"/>
<circle cx="104.90" cy="222.10" r="0.9" fill="#111"/>
<circle cx="104.90" cy="235.20" r="0.9" fill="#111"/>
<rect x="95.60" y="341.40" width="18.10" height="14.50" fill="#00BFC4" stroke="#333" stroke-width="0.45"/>
<line x1="95.60" y1="351.60" x2="113.70" y2="351.60" stroke="#222" stroke-width="0.9"/>
<line x1="104.90" y1="362.6" x2="104.90" y2="363.9" stroke="#777" stroke-width="0.4"/>
<line x1="128.90" y1="328.80" x2="128.90" y2="344.60" stroke="#888" stroke-width="0.5"/>
<line x1="128.90" y1="247.30" x2="128.90" y2="328.80" stroke="#000" stroke-width="1.7"/>
<circle cx="128.90" cy="219.60" r="0.9" fill="#111"/>
<circle cx="128.90" cy="222.70" r="0.9" fill="#111"/>
<circle cx="128.90" cy="238.80" r="0.9" fill="#111"/>
<rect x="119.40" y="344.60" width="18.60" height="10.90" fill="#619CFF" stroke="#333" stroke-width="0.45"/>
<line x1="119.40" y1="354.80" x2="138.00" y2="354.80" stroke="#222" stroke-width="0.9"/>
<line x1="128.90" y1="362.6" x2="128.90" y2="363.9" stroke="#777" stroke-width="0.4"/>
<line x1="152.60" y1="321.00" x2="152.60" y2="341.40" stroke="#888" stroke-width="0.5"/>
<line x1="152.60" y1="245.40" x2="152.60" y2="321.00" stroke="#000" stroke-width="1.7"/>
<circle cx="152.60" cy="219.60" r="0.9" fill="#111"/>
<circle cx="152.60" cy="226.10" r="0.9" fill="#111"/>
<circle cx="152.60" cy="238.80" r="0.9" fill="#111"/>
<rect x="143.50" y="341.40" width="18.30" height="14.50" fill="#F564E3" stroke="#333" stroke-width="0.45"/>
<line x1="143.50" y1="351.30" x2="161.80" y2="351.30" stroke="#222" stroke-width="0.9"/>
<line x1="152.60" y1="362.6" x2="152.60" y2="363.9" stroke="#777" stroke-width="0.4"/>
<text x="33.30" y="372.4" font-family='"Liberation Serif", serif' font-weight="bold" font-size="5.8" fill="#111" text-anchor="middle" letter-spacing="-0.2">N0</text>
<text x="57.05" y="372.4" font-family='"Liberation Serif", serif' font-weight="bold" font-size="5.8" fill="#111" text-anchor="middle" letter-spacing="-0.2">N4</text>
<text x="81.00" y="372.4" font-family='"Liberation Serif", serif' font-weight="bold" font-size="5.8" fill="#111" text-anchor="middle" letter-spacing="-0.2">N8</text>
<text x="104.95" y="372.4" font-family='"Liberation Serif", serif' font-weight="bold" font-size="5.8" fill="#111" text-anchor="middle" letter-spacing="-0.2">M0</text>
<text x="129.00" y="372.4" font-family='"Liberation Serif", serif' font-weight="bold" font-size="5.8" fill="#111" text-anchor="middle" letter-spacing="-0.2">M4</text>
<text x="152.95" y="372.4" font-family='"Liberation Serif", serif' font-weight="bold" font-size="5.8" fill="#111" text-anchor="middle" letter-spacing="-0.2">M8</text>
<rect x="173.6" y="269.30" width="6.0" height="3.8" fill="#C0706A" stroke="#C0706A" stroke-width="0.4"/>
<line x1="173.6" y1="271.20" x2="179.6" y2="271.20" stroke="#333" stroke-width="0.45" stroke-opacity="0.6"/>
<line x1="176.6" y1="268.40" x2="176.6" y2="274.00" stroke="#333" stroke-width="0.4" stroke-opacity="0.6"/>
<text x="182.4" y="272.70" font-family='"Liberation Serif", serif' font-weight="bold" font-size="4.4" fill="#222">N0</text>
<rect x="173.6" y="276.02" width="6.0" height="3.8" fill="#9A8A20" stroke="#9A8A20" stroke-width="0.4"/>
<line x1="173.6" y1="277.92" x2="179.6" y2="277.92" stroke="#333" stroke-width="0.45" stroke-opacity="0.6"/>
<line x1="176.6" y1="275.12" x2="176.6" y2="280.72" stroke="#333" stroke-width="0.4" stroke-opacity="0.6"/>
<text x="182.4" y="279.42" font-family='"Liberation Serif", serif' font-weight="bold" font-size="4.4" fill="#222">N4</text>
<rect x="173.6" y="282.74" width="6.0" height="3.8" fill="#2A9A48" stroke="#2A9A48" stroke-width="0.4"/>
<line x1="173.6" y1="284.64" x2="179.6" y2="284.64" stroke="#333" stroke-width="0.45" stroke-opacity="0.6"/>
<line x1="176.6" y1="281.84" x2="176.6" y2="287.44" stroke="#333" stroke-width="0.4" stroke-opacity="0.6"/>
<text x="182.4" y="286.14" font-family='"Liberation Serif", serif' font-weight="bold" font-size="4.4" fill="#222">N8</text>
<rect x="173.6" y="289.46" width="6.0" height="3.8" fill="#2A9AA0" stroke="#2A9AA0" stroke-width="0.4"/>
<line x1="173.6" y1="291.36" x2="179.6" y2="291.36" stroke="#333" stroke-width="0.45" stroke-opacity="0.6"/>
<line x1="176.6" y1="288.56" x2="176.6" y2="294.16" stroke="#333" stroke-width="0.4" stroke-opacity="0.6"/>
<text x="182.4" y="292.86" font-family='"Liberation Serif", serif' font-weight="bold" font-size="4.4" fill="#222">M0</text>
<rect x="173.6" y="296.18" width="6.0" height="3.8" fill="#6080C8" stroke="#6080C8" stroke-width="0.4"/>
<line x1="173.6" y1="298.08" x2="179.6" y2="298.08" stroke="#333" stroke-width="0.45" stroke-opacity="0.6"/>
<line x1="176.6" y1="295.28" x2="176.6" y2="300.88" stroke="#333" stroke-width="0.4" stroke-opacity="0.6"/>
<text x="182.4" y="299.58" font-family='"Liberation Serif", serif' font-weight="bold" font-size="4.4" fill="#222">M4</text>
<rect x="173.6" y="302.90" width="6.0" height="3.8" fill="#B860B0" stroke="#B860B0" stroke-width="0.4"/>
<line x1="173.6" y1="304.80" x2="179.6" y2="304.80" stroke="#333" stroke-width="0.45" stroke-opacity="0.6"/>
<line x1="176.6" y1="302.00" x2="176.6" y2="307.60" stroke="#333" stroke-width="0.4" stroke-opacity="0.6"/>
<text x="182.4" y="306.30" font-family='"Liberation Serif", serif' font-weight="bold" font-size="4.4" fill="#222">M8</text>
<text x="217.5" y="6.0" font-family='"Liberation Sans", sans-serif' font-weight="bold" font-size="7.4" fill="#000">C</text>
<line x1="264.56" y1="29.60" x2="264.56" y2="68.60" stroke="#333" stroke-width="0.80"/>
<line x1="264.56" y1="29.60" x2="319.70" y2="29.60" stroke="#333" stroke-width="0.80"/>
<line x1="319.70" y1="29.60" x2="319.70" y2="47.00" stroke="#333" stroke-width="0.80"/>
<line x1="295.70" y1="47.00" x2="343.50" y2="47.00" stroke="#333" stroke-width="0.80"/>
<line x1="295.70" y1="47.00" x2="295.70" y2="56.00" stroke="#333" stroke-width="0.80"/>
<line x1="285.68" y1="56.00" x2="306.79" y2="56.00" stroke="#333" stroke-width="0.80"/>
<line x1="285.68" y1="56.00" x2="285.68" y2="68.60" stroke="#333" stroke-width="0.80"/>
<line x1="306.79" y1="56.00" x2="306.79" y2="68.60" stroke="#333" stroke-width="0.80"/>
<line x1="343.50" y1="47.00" x2="343.50" y2="50.20" stroke="#333" stroke-width="0.80"/>
<line x1="327.91" y1="50.20" x2="359.30" y2="50.20" stroke="#333" stroke-width="0.80"/>
<line x1="327.91" y1="50.20" x2="327.91" y2="68.60" stroke="#333" stroke-width="0.80"/>
<line x1="359.30" y1="50.20" x2="359.30" y2="58.40" stroke="#333" stroke-width="0.80"/>
<line x1="349.02" y1="58.40" x2="370.14" y2="58.40" stroke="#333" stroke-width="0.80"/>
<line x1="349.02" y1="58.40" x2="349.02" y2="68.60" stroke="#333" stroke-width="0.80"/>
<line x1="370.14" y1="58.40" x2="370.14" y2="68.60" stroke="#333" stroke-width="0.80"/>
<rect x="254.00" y="68.60" width="21.82" height="2.08" fill="#FA1313"/>
<rect x="254.00" y="69.98" width="21.82" height="2.70" fill="#FA0A0A"/>
<rect x="254.00" y="71.98" width="21.82" height="2.11" fill="#FA2323"/>
<rect x="254.00" y="73.40" width="21.82" height="2.57" fill="#FA0A0A"/>
<rect x="254.00" y="75.26" width="21.82" height="2.07" fill="#FA2121"/>
<rect x="254.00" y="76.63" width="21.82" height="2.07" fill="#FA0A0A"/>
<rect x="254.00" y="78.00" width="21.82" height="1.70" fill="#FADCDC"/>
<rect x="254.00" y="79.00" width="21.82" height="2.18" fill="#FA2020"/>
<rect x="254.00" y="80.48" width="21.82" height="2.65" fill="#FA1414"/>
<rect x="254.00" y="82.43" width="21.82" height="2.97" fill="#FA0A0A"/>
<rect x="254.00" y="84.70" width="21.82" height="1.70" fill="#FADCDC"/>
<rect x="254.00" y="85.70" width="21.82" height="3.11" fill="#FA0A0A"/>
<rect x="254.00" y="88.11" width="21.82" height="2.11" fill="#FA0A0A"/>
<rect x="254.00" y="89.52" width="21.82" height="2.37" fill="#FA1818"/>
<rect x="254.00" y="91.19" width="21.82" height="2.63" fill="#FA0A0A"/>
<rect x="254.00" y="93.13" width="21.82" height="3.07" fill="#FA0A0A"/>
<rect x="254.00" y="95.50" width="21.82" height="2.82" fill="#FA0A0A"/>
<rect x="254.00" y="97.62" width="21.82" height="2.84" fill="#FA0A0A"/>
<rect x="254.00" y="99.76" width="21.82" height="2.16" fill="#FA1F1F"/>
<rect x="254.00" y="101.21" width="21.82" height="1.84" fill="#FA0A0A"/>
<rect x="254.00" y="102.36" width="21.82" height="1.73" fill="#FA0A0A"/>
<rect x="254.00" y="103.39" width="21.82" height="1.77" fill="#FA0A0A"/>
<rect x="254.00" y="104.46" width="21.82" height="2.58" fill="#FA0A0A"/>
<rect x="254.00" y="106.34" width="21.82" height="3.30" fill="#FA0A0A"/>
<rect x="254.00" y="108.94" width="21.82" height="3.22" fill="#FA0A0A"/>
<rect x="254.00" y="111.46" width="21.82" height="1.95" fill="#FA0A0A"/>
<rect x="254.00" y="112.71" width="21.82" height="2.99" fill="#FA2020"/>
<rect x="254.00" y="115.00" width="21.82" height="1.70" fill="#FADCDC"/>
<rect x="254.00" y="116.00" width="21.82" height="2.44" fill="#FA0A0A"/>
<rect x="254.00" y="117.74" width="21.82" height="2.69" fill="#FA1717"/>
<rect x="254.00" y="119.73" width="21.82" height="2.71" fill="#FA2121"/>
<rect x="254.00" y="121.74" width="21.82" height="1.56" fill="#FA0A0A"/>
<rect x="254.00" y="122.60" width="21.82" height="1.70" fill="#FADCDC"/>
<rect x="254.00" y="123.60" width="21.82" height="2.96" fill="#FA1212"/>
<rect x="254.00" y="125.86" width="21.82" height="2.69" fill="#FA0A0A"/>
<rect x="254.00" y="127.85" width="21.82" height="2.45" fill="#FA0A0A"/>
<rect x="254.00" y="129.59" width="21.82" height="2.88" fill="#FA0A0A"/>
<rect x="254.00" y="131.77" width="21.82" height="3.24" fill="#FA0A0A"/>
<rect x="254.00" y="134.31" width="21.82" height="1.98" fill="#FA0A0A"/>
<rect x="254.00" y="135.60" width="21.82" height="2.18" fill="#FA0A0A"/>
<rect x="254.00" y="137.08" width="21.82" height="3.25" fill="#FA0A0A"/>
<rect x="254.00" y="139.63" width="21.82" height="2.75" fill="#FA1212"/>
<rect x="254.00" y="141.68" width="21.82" height="2.74" fill="#FA0A0A"/>
<rect x="254.00" y="143.72" width="21.82" height="1.98" fill="#FA0A0A"/>
<rect x="254.00" y="145.00" width="21.82" height="1.83" fill="#F52D2D"/>
<rect x="254.00" y="146.13" width="21.82" height="2.57" fill="#F52828"/>
<rect x="254.00" y="148.00" width="21.82" height="2.20" fill="#FA0A0A"/>
<rect x="254.00" y="149.50" width="21.82" height="2.24" fill="#FA0A0A"/>
<rect x="254.00" y="151.05" width="21.82" height="2.64" fill="#FA0A0A"/>
<rect x="254.00" y="152.99" width="21.82" height="2.44" fill="#FA1111"/>
<rect x="254.00" y="154.74" width="21.82" height="1.76" fill="#FA0F0F"/>
<rect x="254.00" y="155.79" width="21.82" height="3.21" fill="#FA2323"/>
<rect x="254.00" y="158.30" width="21.82" height="2.50" fill="#FA0A0A"/>
<rect x="254.00" y="160.10" width="21.82" height="1.70" fill="#FADCDC"/>
<rect x="254.00" y="161.10" width="21.82" height="2.89" fill="#FA0A0A"/>
<rect x="254.00" y="163.29" width="21.82" height="3.31" fill="#FA0A0A"/>
<rect x="254.00" y="165.90" width="21.82" height="1.70" fill="#FADCDC"/>
<rect x="254.00" y="166.90" width="21.82" height="1.89" fill="#FA0A0A"/>
<rect x="254.00" y="168.09" width="21.82" height="3.13" fill="#FA0A0A"/>
<rect x="254.00" y="170.53" width="21.82" height="2.47" fill="#FA0A0A"/>
<rect x="254.00" y="172.30" width="21.82" height="2.76" fill="#FA0A0A"/>
<rect x="254.00" y="174.36" width="21.82" height="2.25" fill="#FA2020"/>
<rect x="254.00" y="175.90" width="21.82" height="3.00" fill="#FA0A0A"/>
<rect x="254.00" y="178.20" width="21.82" height="2.56" fill="#FA0A0A"/>
<rect x="254.00" y="180.06" width="21.82" height="3.17" fill="#FA0A0A"/>
<rect x="254.00" y="182.53" width="21.82" height="2.48" fill="#FA0A0A"/>
<rect x="254.00" y="184.31" width="21.82" height="2.10" fill="#FA0A0A"/>
<rect x="254.00" y="185.71" width="21.82" height="2.46" fill="#FA0A0A"/>
<rect x="254.00" y="187.47" width="21.82" height="2.94" fill="#FA0B0B"/>
<rect x="254.00" y="189.71" width="21.82" height="3.26" fill="#FA0C0C"/>
<rect x="254.00" y="192.27" width="21.82" height="2.21" fill="#FA1313"/>
<rect x="254.00" y="193.77" width="21.82" height="2.64" fill="#FA0A0A"/>
<rect x="254.00" y="195.71" width="21.82" height="1.69" fill="#FA0A0A"/>
<rect x="254.00" y="196.70" width="21.82" height="2.70" fill="#FADCDC"/>
<rect x="254.00" y="198.70" width="21.82" height="2.97" fill="#F01F1F"/>
<rect x="254.00" y="200.97" width="21.82" height="2.67" fill="#F01E1E"/>
<rect x="254.00" y="202.94" width="21.82" height="1.76" fill="#F02727"/>
<rect x="254.00" y="204.00" width="21.82" height="1.90" fill="#FADCDC"/>
<rect x="254.00" y="205.20" width="21.82" height="2.92" fill="#EE4040"/>
<rect x="254.00" y="207.42" width="21.82" height="2.44" fill="#EE2828"/>
<rect x="254.00" y="209.15" width="21.82" height="2.99" fill="#EE2828"/>
<rect x="254.00" y="211.44" width="21.82" height="3.20" fill="#EE2828"/>
<rect x="254.00" y="213.94" width="21.82" height="1.89" fill="#EE3F3F"/>
<rect x="254.00" y="215.13" width="21.82" height="1.57" fill="#EE2828"/>
<rect x="254.00" y="216.00" width="21.82" height="3.70" fill="#F05454"/>
<rect x="254.00" y="219.00" width="21.82" height="2.46" fill="#EB2828"/>
<rect x="254.00" y="220.76" width="21.82" height="2.60" fill="#EB2828"/>
<rect x="254.00" y="222.66" width="21.82" height="2.25" fill="#EB2828"/>
<rect x="254.00" y="224.21" width="21.82" height="2.09" fill="#EB2828"/>
<rect x="254.00" y="225.60" width="21.82" height="2.10" fill="#F56464"/>
<rect x="254.00" y="227.00" width="21.82" height="2.98" fill="#E81E1E"/>
<rect x="254.00" y="229.28" width="21.82" height="1.87" fill="#E81E1E"/>
<rect x="254.00" y="230.45" width="21.82" height="2.58" fill="#E81E1E"/>
<rect x="254.00" y="232.33" width="21.82" height="1.87" fill="#E82424"/>
<rect x="254.00" y="233.50" width="21.82" height="2.10" fill="#F55C5C"/>
<rect x="254.00" y="234.90" width="21.82" height="2.50" fill="#F55B5B"/>
<rect x="254.00" y="236.70" width="21.82" height="3.25" fill="#EB2E2E"/>
<rect x="254.00" y="239.25" width="21.82" height="2.95" fill="#EB3232"/>
<rect x="254.00" y="241.50" width="21.82" height="1.95" fill="#FADADA"/>
<rect x="254.00" y="242.75" width="21.82" height="1.95" fill="#FAD5D5"/>
<rect x="254.00" y="244.00" width="21.82" height="2.50" fill="#FAC8C8"/>
<rect x="254.00" y="245.80" width="21.82" height="2.90" fill="#FAD1D1"/>
<rect x="254.00" y="248.00" width="21.82" height="2.64" fill="#F59D9D"/>
<rect x="254.00" y="249.94" width="21.82" height="1.92" fill="#F59B9B"/>
<rect x="254.00" y="251.16" width="21.82" height="2.24" fill="#F59696"/>
<rect x="254.00" y="252.70" width="21.82" height="3.20" fill="#F5B1B1"/>
<rect x="254.00" y="255.20" width="21.82" height="1.50" fill="#F5B0B0"/>
<rect x="254.00" y="256.00" width="21.82" height="2.70" fill="#FAD2D2"/>
<rect x="254.00" y="258.00" width="21.82" height="3.40" fill="#F5A7A7"/>
<rect x="254.00" y="260.70" width="21.82" height="2.65" fill="#FACACA"/>
<rect x="254.00" y="262.65" width="21.82" height="2.05" fill="#FAD0D0"/>
<rect x="254.00" y="264.00" width="21.82" height="2.19" fill="#F6AAAA"/>
<rect x="254.00" y="265.49" width="21.82" height="2.99" fill="#F6A9A9"/>
<rect x="254.00" y="267.78" width="21.82" height="1.52" fill="#F6AAAA"/>
<rect x="254.00" y="268.60" width="21.82" height="2.47" fill="#EB4343"/>
<rect x="254.00" y="270.37" width="21.82" height="2.13" fill="#EB4040"/>
<rect x="254.00" y="271.80" width="21.82" height="2.82" fill="#F8BDBD"/>
<rect x="254.00" y="273.92" width="21.82" height="2.78" fill="#F8CBCB"/>
<rect x="254.00" y="276.00" width="21.82" height="2.74" fill="#F08383"/>
<rect x="254.00" y="278.04" width="21.82" height="1.86" fill="#F08383"/>
<rect x="254.00" y="279.20" width="21.82" height="3.90" fill="#FAD8D8"/>
<rect x="254.00" y="282.40" width="21.82" height="3.11" fill="#F07979"/>
<rect x="254.00" y="284.81" width="21.82" height="3.09" fill="#F08A8A"/>
<rect x="254.00" y="287.20" width="21.82" height="2.74" fill="#FAFBFE"/>
<rect x="254.00" y="289.24" width="21.82" height="1.81" fill="#FAEFF2"/>
<rect x="254.00" y="290.35" width="21.82" height="2.11" fill="#FAFDFF"/>
<rect x="254.00" y="291.75" width="21.82" height="1.65" fill="#FAEEF1"/>
<rect x="254.00" y="292.70" width="21.82" height="2.70" fill="#E5E5FA"/>
<rect x="254.00" y="294.70" width="21.82" height="2.00" fill="#EAEAFA"/>
<rect x="254.00" y="296.00" width="21.82" height="1.97" fill="#E2E2FA"/>
<rect x="254.00" y="297.27" width="21.82" height="1.99" fill="#E3E3FA"/>
<rect x="254.00" y="298.56" width="21.82" height="2.84" fill="#E3E3FA"/>
<rect x="254.00" y="300.70" width="21.82" height="2.12" fill="#F81010"/>
<rect x="254.00" y="302.12" width="21.82" height="2.63" fill="#F80F0F"/>
<rect x="254.00" y="304.05" width="21.82" height="2.23" fill="#F81111"/>
<rect x="254.00" y="305.58" width="21.82" height="2.33" fill="#F80F0F"/>
<rect x="254.00" y="307.21" width="21.82" height="1.82" fill="#F80F0F"/>
<rect x="254.00" y="308.33" width="21.82" height="1.86" fill="#F80F0F"/>
<rect x="254.00" y="309.48" width="21.82" height="2.91" fill="#F80F0F"/>
<rect x="254.00" y="311.70" width="21.82" height="1.87" fill="#F80F0F"/>
<rect x="254.00" y="312.87" width="21.82" height="2.77" fill="#F80F0F"/>
<rect x="254.00" y="314.93" width="21.82" height="3.07" fill="#F80F0F"/>
<rect x="254.00" y="317.30" width="21.82" height="2.90" fill="#F57878"/>
<rect x="254.00" y="319.50" width="21.82" height="2.70" fill="#FAC8C8"/>
<rect x="254.00" y="321.50" width="21.82" height="1.99" fill="#FFFFFC"/>
<rect x="254.00" y="322.79" width="21.82" height="2.11" fill="#F2F2FC"/>
<rect x="254.00" y="324.20" width="21.82" height="2.30" fill="#F8DCDC"/>
<rect x="254.00" y="325.80" width="21.82" height="2.60" fill="#D7D7F5"/>
<rect x="254.00" y="327.70" width="21.82" height="1.90" fill="#FAFAFC"/>
<rect x="254.00" y="328.90" width="21.82" height="3.50" fill="#F5DAD0"/>
<rect x="254.00" y="331.70" width="21.82" height="2.20" fill="#FAFAFC"/>
<rect x="254.00" y="333.20" width="21.82" height="2.70" fill="#DCDCFA"/>
<rect x="254.00" y="335.20" width="21.82" height="3.10" fill="#9696F0"/>
<rect x="254.00" y="337.60" width="21.82" height="2.20" fill="#7878EB"/>
<rect x="254.00" y="339.10" width="21.82" height="2.30" fill="#C8C8F5"/>
<rect x="254.00" y="340.70" width="21.82" height="2.23" fill="#5959E1"/>
<rect x="254.00" y="342.23" width="21.82" height="2.77" fill="#5656E1"/>
<rect x="254.00" y="344.30" width="21.82" height="2.40" fill="#D7D7FA"/>
<rect x="254.00" y="346.00" width="21.82" height="3.00" fill="#5A5AE1"/>
<rect x="254.00" y="348.30" width="21.82" height="3.10" fill="#BEBEF5"/>
<rect x="254.00" y="350.70" width="21.82" height="3.00" fill="#8C8CF0"/>
<rect x="254.00" y="353.00" width="21.82" height="1.90" fill="#C8C8F8"/>
<rect x="275.12" y="68.60" width="21.82" height="2.74" fill="#D6D6FA"/>
<rect x="275.12" y="70.64" width="21.82" height="2.46" fill="#D1D1FA"/>
<rect x="275.12" y="72.40" width="21.82" height="2.30" fill="#BEBEF5"/>
<rect x="275.12" y="74.00" width="21.82" height="1.81" fill="#E5E5FA"/>
<rect x="275.12" y="75.11" width="21.82" height="3.59" fill="#E2E2FA"/>
<rect x="275.12" y="78.00" width="21.82" height="1.70" fill="#FAFAFC"/>
<rect x="275.12" y="79.00" width="21.82" height="2.88" fill="#EDEDFC"/>
<rect x="275.12" y="81.18" width="21.82" height="2.13" fill="#EEEEFC"/>
<rect x="275.12" y="82.61" width="21.82" height="3.09" fill="#E7E7FC"/>
<rect x="275.12" y="85.00" width="21.82" height="1.70" fill="#FAFAFC"/>
<rect x="275.12" y="86.00" width="21.82" height="2.51" fill="#DCDCFA"/>
<rect x="275.12" y="87.81" width="21.82" height="2.93" fill="#DEDEFA"/>
<rect x="275.12" y="90.04" width="21.82" height="2.96" fill="#DFDFFA"/>
<rect x="275.12" y="92.30" width="21.82" height="3.10" fill="#C8C8F5"/>
<rect x="275.12" y="94.70" width="21.82" height="2.57" fill="#DCDCF8"/>
<rect x="275.12" y="96.57" width="21.82" height="2.26" fill="#DEDEF8"/>
<rect x="275.12" y="98.13" width="21.82" height="1.57" fill="#D2D2F8"/>
<rect x="275.12" y="99.00" width="21.82" height="2.00" fill="#C3C3F5"/>
<rect x="275.12" y="100.30" width="21.82" height="1.86" fill="#CFCFFA"/>
<rect x="275.12" y="101.46" width="21.82" height="2.95" fill="#DCDCFA"/>
<rect x="275.12" y="103.71" width="21.82" height="2.00" fill="#D1D1FA"/>
<rect x="275.12" y="105.00" width="21.82" height="2.70" fill="#DCDCFA"/>
<rect x="275.12" y="107.00" width="21.82" height="3.01" fill="#F0F0FC"/>
<rect x="275.12" y="109.31" width="21.82" height="2.65" fill="#E4E4FC"/>
<rect x="275.12" y="111.25" width="21.82" height="3.05" fill="#E5E5FC"/>
<rect x="275.12" y="113.60" width="21.82" height="2.10" fill="#F8F0F5"/>
<rect x="275.12" y="115.00" width="21.82" height="1.70" fill="#FAFAFC"/>
<rect x="275.12" y="116.00" width="21.82" height="2.54" fill="#FBFBFC"/>
<rect x="275.12" y="117.84" width="21.82" height="1.86" fill="#F5F5FC"/>
<rect x="275.12" y="119.00" width="21.82" height="3.20" fill="#ABB5F5"/>
<rect x="275.12" y="121.50" width="21.82" height="1.80" fill="#EBEBFA"/>
<rect x="275.12" y="122.60" width="21.82" height="1.70" fill="#FAFAFC"/>
<rect x="275.12" y="123.60" width="21.82" height="2.99" fill="#FFFFFC"/>
<rect x="275.12" y="125.89" width="21.82" height="2.81" fill="#F6F6FC"/>
<rect x="275.12" y="128.00" width="21.82" height="2.58" fill="#FAD9D9"/>
<rect x="275.12" y="129.88" width="21.82" height="2.82" fill="#FAE1E1"/>
<rect x="275.12" y="132.00" width="21.82" height="2.80" fill="#F1ECF5"/>
<rect x="275.12" y="134.10" width="21.82" height="3.08" fill="#F5F0F5"/>
<rect x="275.12" y="136.47" width="21.82" height="2.53" fill="#FAF5F5"/>
<rect x="275.12" y="138.30" width="21.82" height="1.70" fill="#EBEBFA"/>
<rect x="275.12" y="139.30" width="21.82" height="2.76" fill="#E6E6FA"/>
<rect x="275.12" y="141.36" width="21.82" height="1.64" fill="#E5E5FA"/>
<rect x="275.12" y="142.30" width="21.82" height="2.01" fill="#FAE2E2"/>
<rect x="275.12" y="143.61" width="21.82" height="1.76" fill="#FAE1E1"/>
<rect x="275.12" y="144.67" width="21.82" height="1.53" fill="#FAE0E0"/>
<rect x="275.12" y="145.50" width="21.82" height="2.61" fill="#FAE0E0"/>
<rect x="275.12" y="147.41" width="21.82" height="3.13" fill="#FAD0D0"/>
<rect x="275.12" y="149.83" width="21.82" height="2.67" fill="#FAD9D9"/>
<rect x="275.12" y="151.80" width="21.82" height="1.78" fill="#F5C5C5"/>
<rect x="275.12" y="152.88" width="21.82" height="2.07" fill="#F5C0C0"/>
<rect x="275.12" y="154.25" width="21.82" height="3.05" fill="#F5D1D1"/>
<rect x="275.12" y="156.60" width="21.82" height="2.22" fill="#FAE3E3"/>
<rect x="275.12" y="158.12" width="21.82" height="2.58" fill="#FAD5D5"/>
<rect x="275.12" y="160.00" width="21.82" height="1.70" fill="#FAFAFC"/>
<rect x="275.12" y="161.00" width="21.82" height="3.07" fill="#F2EDF5"/>
<rect x="275.12" y="163.37" width="21.82" height="2.33" fill="#F4EFF5"/>
<rect x="275.12" y="165.00" width="21.82" height="2.88" fill="#FAF2F2"/>
<rect x="275.12" y="167.18" width="21.82" height="2.99" fill="#FAFEFE"/>
<rect x="275.12" y="169.47" width="21.82" height="3.08" fill="#FAF4F4"/>
<rect x="275.12" y="171.85" width="21.82" height="2.85" fill="#FAF5F5"/>
<rect x="275.12" y="174.00" width="21.82" height="2.70" fill="#D7D7F8"/>
<rect x="275.12" y="176.00" width="21.82" height="1.87" fill="#F1F1FC"/>
<rect x="275.12" y="177.17" width="21.82" height="1.82" fill="#F4F4FC"/>
<rect x="275.12" y="178.30" width="21.82" height="1.96" fill="#FAFAFC"/>
<rect x="275.12" y="179.56" width="21.82" height="2.82" fill="#FBFBFC"/>
<rect x="275.12" y="181.68" width="21.82" height="2.38" fill="#FDFDFC"/>
<rect x="275.12" y="183.35" width="21.82" height="2.19" fill="#F9F9FC"/>
<rect x="275.12" y="184.84" width="21.82" height="2.91" fill="#F8F8FC"/>
<rect x="275.12" y="187.05" width="21.82" height="1.99" fill="#FFFFFC"/>
<rect x="275.12" y="188.34" width="21.82" height="2.85" fill="#F7F7FC"/>
<rect x="275.12" y="190.49" width="21.82" height="2.29" fill="#FBFBFC"/>
<rect x="275.12" y="192.08" width="21.82" height="2.65" fill="#F4F4FC"/>
<rect x="275.12" y="194.04" width="21.82" height="1.70" fill="#F4F4FC"/>
<rect x="275.12" y="195.04" width="21.82" height="2.36" fill="#F3F3FC"/>
<rect x="275.12" y="196.70" width="21.82" height="2.44" fill="#F5AEAE"/>
<rect x="275.12" y="198.44" width="21.82" height="2.03" fill="#F5ADAD"/>
<rect x="275.12" y="199.77" width="21.82" height="2.35" fill="#F5ADAD"/>
<rect x="275.12" y="201.42" width="21.82" height="2.28" fill="#F5ACAC"/>
<rect x="275.12" y="203.00" width="21.82" height="1.97" fill="#FADCDC"/>
<rect x="275.12" y="204.27" width="21.82" height="1.80" fill="#FAD2D2"/>
<rect x="275.12" y="205.36" width="21.82" height="2.42" fill="#FADADA"/>
<rect x="275.12" y="207.08" width="21.82" height="1.62" fill="#FAD3D3"/>
<rect x="275.12" y="208.00" width="21.82" height="2.35" fill="#F5A8A8"/>
<rect x="275.12" y="209.65" width="21.82" height="1.74" fill="#F5B3B3"/>
<rect x="275.12" y="210.69" width="21.82" height="2.05" fill="#F5A2A2"/>
<rect x="275.12" y="212.04" width="21.82" height="2.66" fill="#F5A3A3"/>
<rect x="275.12" y="214.00" width="21.82" height="2.70" fill="#F08484"/>
<rect x="275.12" y="216.00" width="21.82" height="1.90" fill="#F07E7E"/>
<rect x="275.12" y="217.19" width="21.82" height="2.86" fill="#F08383"/>
<rect x="275.12" y="219.36" width="21.82" height="2.96" fill="#F08686"/>
<rect x="275.12" y="221.62" width="21.82" height="3.19" fill="#F08383"/>
<rect x="275.12" y="224.11" width="21.82" height="2.19" fill="#F08282"/>
<rect x="275.12" y="225.60" width="21.82" height="3.00" fill="#FAD5D5"/>
<rect x="275.12" y="227.90" width="21.82" height="1.60" fill="#FACACA"/>
<rect x="275.12" y="228.80" width="21.82" height="2.79" fill="#FFFFFA"/>
<rect x="275.12" y="230.89" width="21.82" height="1.81" fill="#F0EEFA"/>
<rect x="275.12" y="232.00" width="21.82" height="1.75" fill="#FAC0C0"/>
<rect x="275.12" y="233.05" width="21.82" height="1.97" fill="#FABFBF"/>
<rect x="275.12" y="234.32" width="21.82" height="2.38" fill="#FACBCB"/>
<rect x="275.12" y="236.00" width="21.82" height="3.14" fill="#EAEAFC"/>
<rect x="275.12" y="238.44" width="21.82" height="3.26" fill="#F0F0FC"/>
<rect x="275.12" y="241.00" width="21.82" height="3.70" fill="#F8F8FC"/>
<rect x="275.12" y="244.00" width="21.82" height="3.20" fill="#F51C1C"/>
<rect x="275.12" y="246.50" width="21.82" height="1.84" fill="#F51414"/>
<rect x="275.12" y="247.64" width="21.82" height="2.56" fill="#F52121"/>
<rect x="275.12" y="249.50" width="21.82" height="1.98" fill="#F02323"/>
<rect x="275.12" y="250.78" width="21.82" height="3.18" fill="#F02323"/>
<rect x="275.12" y="253.26" width="21.82" height="1.74" fill="#F02323"/>
<rect x="275.12" y="254.30" width="21.82" height="2.51" fill="#EE4747"/>
<rect x="275.12" y="256.11" width="21.82" height="3.22" fill="#EE3030"/>
<rect x="275.12" y="258.63" width="21.82" height="3.02" fill="#EE3030"/>
<rect x="275.12" y="260.95" width="21.82" height="2.21" fill="#EE3030"/>
<rect x="275.12" y="262.46" width="21.82" height="3.11" fill="#EE3030"/>
<rect x="275.12" y="264.86" width="21.82" height="2.84" fill="#EE3030"/>
<rect x="275.12" y="267.00" width="21.82" height="2.24" fill="#FABABA"/>
<rect x="275.12" y="268.54" width="21.82" height="2.16" fill="#FAC4C4"/>
<rect x="275.12" y="270.00" width="21.82" height="2.04" fill="#FAD1D1"/>
<rect x="275.12" y="271.34" width="21.82" height="3.26" fill="#FAD6D6"/>
<rect x="275.12" y="273.90" width="21.82" height="1.93" fill="#FAD7D7"/>
<rect x="275.12" y="275.13" width="21.82" height="1.57" fill="#FAC9C9"/>
<rect x="275.12" y="276.00" width="21.82" height="2.03" fill="#FAE3E3"/>
<rect x="275.12" y="277.33" width="21.82" height="2.57" fill="#FADCDC"/>
<rect x="275.12" y="279.20" width="21.82" height="3.15" fill="#F05656"/>
<rect x="275.12" y="281.65" width="21.82" height="3.11" fill="#F06060"/>
<rect x="275.12" y="284.06" width="21.82" height="3.04" fill="#F05C5C"/>
<rect x="275.12" y="286.40" width="21.82" height="1.77" fill="#FADDDD"/>
<rect x="275.12" y="287.47" width="21.82" height="2.73" fill="#FADEDE"/>
<rect x="275.12" y="289.50" width="21.82" height="1.86" fill="#FFFFFC"/>
<rect x="275.12" y="290.66" width="21.82" height="2.11" fill="#F2F2FC"/>
<rect x="275.12" y="292.07" width="21.82" height="2.93" fill="#FFFFFC"/>
<rect x="275.12" y="294.30" width="21.82" height="2.79" fill="#C0C0F5"/>
<rect x="275.12" y="296.39" width="21.82" height="2.61" fill="#CBCBF5"/>
<rect x="275.12" y="298.30" width="21.82" height="3.10" fill="#E6E6FA"/>
<rect x="275.12" y="300.70" width="21.82" height="2.82" fill="#9494F0"/>
<rect x="275.12" y="302.82" width="21.82" height="1.78" fill="#9C9CF0"/>
<rect x="275.12" y="303.90" width="21.82" height="2.17" fill="#E5E5FA"/>
<rect x="275.12" y="305.37" width="21.82" height="2.33" fill="#DADAFA"/>
<rect x="275.12" y="307.00" width="21.82" height="1.89" fill="#F0F0FC"/>
<rect x="275.12" y="308.19" width="21.82" height="2.18" fill="#FDFDFC"/>
<rect x="275.12" y="309.67" width="21.82" height="2.25" fill="#F4F4FC"/>
<rect x="275.12" y="311.21" width="21.82" height="2.91" fill="#FFFFFC"/>
<rect x="275.12" y="313.42" width="21.82" height="2.08" fill="#F7F7FC"/>
<rect x="275.12" y="314.80" width="21.82" height="2.10" fill="#EBEBFA"/>
<rect x="275.12" y="316.20" width="21.82" height="3.50" fill="#B5B5F5"/>
<rect x="275.12" y="319.00" width="21.82" height="2.30" fill="#D2D2F8"/>
<rect x="275.12" y="320.60" width="21.82" height="2.90" fill="#A0A0F0"/>
<rect x="275.12" y="322.80" width="21.82" height="2.90" fill="#F0F0FC"/>
<rect x="275.12" y="325.00" width="21.82" height="2.90" fill="#BEBEF5"/>
<rect x="275.12" y="327.20" width="21.82" height="2.90" fill="#FAFAFC"/>
<rect x="275.12" y="329.40" width="21.82" height="2.90" fill="#D7D7F8"/>
<rect x="275.12" y="331.60" width="21.82" height="2.53" fill="#7D7DEB"/>
<rect x="275.12" y="333.43" width="21.82" height="3.04" fill="#7979EB"/>
<rect x="275.12" y="335.77" width="21.82" height="2.08" fill="#8181EB"/>
<rect x="275.12" y="337.15" width="21.82" height="1.65" fill="#7E7EEB"/>
<rect x="275.12" y="338.10" width="21.82" height="2.40" fill="#C8C8F5"/>
<rect x="275.12" y="339.80" width="21.82" height="2.90" fill="#F5C2C2"/>
<rect x="275.12" y="342.00" width="21.82" height="1.50" fill="#F5D0D0"/>
<rect x="275.12" y="342.80" width="21.82" height="3.20" fill="#EB3535"/>
<rect x="275.12" y="345.30" width="21.82" height="2.90" fill="#FAD7D7"/>
<rect x="275.12" y="347.50" width="21.82" height="2.29" fill="#CCCCF8"/>
<rect x="275.12" y="349.09" width="21.82" height="3.11" fill="#D0D0F8"/>
<rect x="275.12" y="351.50" width="21.82" height="3.13" fill="#D2D2F8"/>
<rect x="275.12" y="353.93" width="21.82" height="0.97" fill="#CACAF8"/>
<rect x="296.23" y="68.60" width="21.82" height="1.76" fill="#DBDBF8"/>
<rect x="296.23" y="69.66" width="21.82" height="1.73" fill="#DADAF8"/>
<rect x="296.23" y="70.68" width="21.82" height="2.42" fill="#CBCBF8"/>
<rect x="296.23" y="72.40" width="21.82" height="2.51" fill="#D3D3FA"/>
<rect x="296.23" y="74.21" width="21.82" height="2.46" fill="#D6D6FA"/>
<rect x="296.23" y="75.96" width="21.82" height="2.24" fill="#DCDCFA"/>
<rect x="296.23" y="77.50" width="21.82" height="1.20" fill="#CDCDF8"/>
<rect x="296.23" y="78.00" width="21.82" height="1.70" fill="#FAFAFC"/>
<rect x="296.23" y="79.00" width="21.82" height="2.20" fill="#CDCDF8"/>
<rect x="296.23" y="80.50" width="21.82" height="1.76" fill="#C7C7F5"/>
<rect x="296.23" y="81.56" width="21.82" height="2.01" fill="#CECEF5"/>
<rect x="296.23" y="82.87" width="21.82" height="1.93" fill="#C7C7F5"/>
<rect x="296.23" y="84.10" width="21.82" height="1.60" fill="#C7C7F5"/>
<rect x="296.23" y="85.00" width="21.82" height="1.70" fill="#FAFAFC"/>
<rect x="296.23" y="86.00" width="21.82" height="2.03" fill="#C3C3F5"/>
<rect x="296.23" y="87.33" width="21.82" height="3.00" fill="#BFBFF5"/>
<rect x="296.23" y="89.62" width="21.82" height="3.08" fill="#C9C9F5"/>
<rect x="296.23" y="92.00" width="21.82" height="2.71" fill="#D6D6F8"/>
<rect x="296.23" y="94.01" width="21.82" height="2.39" fill="#D6D6F8"/>
<rect x="296.23" y="95.70" width="21.82" height="3.00" fill="#D7D7F8"/>
<rect x="296.23" y="98.00" width="21.82" height="3.00" fill="#B9B9F5"/>
<rect x="296.23" y="100.30" width="21.82" height="2.06" fill="#DBDBF8"/>
<rect x="296.23" y="101.66" width="21.82" height="2.16" fill="#C9C9F8"/>
<rect x="296.23" y="103.12" width="21.82" height="1.58" fill="#CFCFF8"/>
<rect x="296.23" y="104.00" width="21.82" height="3.03" fill="#B9B9F5"/>
<rect x="296.23" y="106.33" width="21.82" height="3.19" fill="#B4B4F5"/>
<rect x="296.23" y="108.82" width="21.82" height="1.72" fill="#B7B7F5"/>
<rect x="296.23" y="109.84" width="21.82" height="1.94" fill="#AAAAF5"/>
<rect x="296.23" y="111.08" width="21.82" height="3.22" fill="#AAAAF5"/>
<rect x="296.23" y="113.60" width="21.82" height="2.10" fill="#BABAF5"/>
<rect x="296.23" y="115.00" width="21.82" height="1.70" fill="#FAFAFC"/>
<rect x="296.23" y="116.00" width="21.82" height="2.27" fill="#EFEFFC"/>
<rect x="296.23" y="117.57" width="21.82" height="2.13" fill="#E7E7FC"/>
<rect x="296.23" y="119.00" width="21.82" height="2.48" fill="#F0F0FC"/>
<rect x="296.23" y="120.78" width="21.82" height="2.52" fill="#FDFDFC"/>
<rect x="296.23" y="122.60" width="21.82" height="1.70" fill="#FAFAFC"/>
<rect x="296.23" y="123.60" width="21.82" height="3.04" fill="#EDEDFA"/>
<rect x="296.23" y="125.94" width="21.82" height="3.46" fill="#EAEAFA"/>
<rect x="296.23" y="128.70" width="21.82" height="2.12" fill="#B5B7F5"/>
<rect x="296.23" y="130.12" width="21.82" height="2.50" fill="#B6B8F5"/>
<rect x="296.23" y="131.92" width="21.82" height="2.24" fill="#A9ABF5"/>
<rect x="296.23" y="133.46" width="21.82" height="1.76" fill="#BCBEF5"/>
<rect x="296.23" y="134.52" width="21.82" height="1.96" fill="#B7B9F5"/>
<rect x="296.23" y="135.78" width="21.82" height="2.60" fill="#BBBDF5"/>
<rect x="296.23" y="137.69" width="21.82" height="2.89" fill="#B9BBF5"/>
<rect x="296.23" y="139.88" width="21.82" height="1.52" fill="#B7B9F5"/>
<rect x="296.23" y="140.70" width="21.82" height="2.24" fill="#D5D5FA"/>
<rect x="296.23" y="142.24" width="21.82" height="2.46" fill="#D3D3FA"/>
<rect x="296.23" y="144.00" width="21.82" height="2.48" fill="#A1A1F5"/>
<rect x="296.23" y="145.78" width="21.82" height="3.01" fill="#A9A9F5"/>
<rect x="296.23" y="148.08" width="21.82" height="2.62" fill="#AFAFF5"/>
<rect x="296.23" y="150.00" width="21.82" height="3.08" fill="#E6E6FA"/>
<rect x="296.23" y="152.38" width="21.82" height="2.52" fill="#D9D9FA"/>
<rect x="296.23" y="154.20" width="21.82" height="3.10" fill="#D8D8FA"/>
<rect x="296.23" y="156.60" width="21.82" height="1.82" fill="#C1C1F8"/>
<rect x="296.23" y="157.72" width="21.82" height="3.08" fill="#C0C0F8"/>
<rect x="296.23" y="160.10" width="21.82" height="1.70" fill="#FAFAFC"/>
<rect x="296.23" y="161.10" width="21.82" height="2.94" fill="#D1D1F8"/>
<rect x="296.23" y="163.34" width="21.82" height="2.36" fill="#CDCDF8"/>
<rect x="296.23" y="165.00" width="21.82" height="2.15" fill="#F6F6FC"/>
<rect x="296.23" y="166.45" width="21.82" height="2.62" fill="#EEEEFC"/>
<rect x="296.23" y="168.38" width="21.82" height="1.76" fill="#F5F5FC"/>
<rect x="296.23" y="169.44" width="21.82" height="2.07" fill="#F4F4FC"/>
<rect x="296.23" y="170.81" width="21.82" height="2.64" fill="#F0F0FC"/>
<rect x="296.23" y="172.74" width="21.82" height="2.21" fill="#F7F7FC"/>
<rect x="296.23" y="174.25" width="21.82" height="2.45" fill="#EEEEFC"/>
<rect x="296.23" y="176.00" width="21.82" height="2.96" fill="#CDCDF8"/>
<rect x="296.23" y="178.26" width="21.82" height="2.13" fill="#C7C7F8"/>
<rect x="296.23" y="179.69" width="21.82" height="1.82" fill="#BFBFF8"/>
<rect x="296.23" y="180.81" width="21.82" height="2.48" fill="#CDCDF8"/>
<rect x="296.23" y="182.59" width="21.82" height="3.02" fill="#C7C7F8"/>
<rect x="296.23" y="184.91" width="21.82" height="2.20" fill="#C5C5F8"/>
<rect x="296.23" y="186.41" width="21.82" height="2.75" fill="#D1D1F8"/>
<rect x="296.23" y="188.45" width="21.82" height="2.33" fill="#BFBFF8"/>
<rect x="296.23" y="190.09" width="21.82" height="2.61" fill="#BFBFF8"/>
<rect x="296.23" y="192.00" width="21.82" height="2.21" fill="#EDEDFC"/>
<rect x="296.23" y="193.51" width="21.82" height="2.59" fill="#E2E2FC"/>
<rect x="296.23" y="195.40" width="21.82" height="2.37" fill="#E9E9FC"/>
<rect x="296.23" y="197.06" width="21.82" height="1.64" fill="#EBEBFC"/>
<rect x="296.23" y="198.00" width="21.82" height="3.23" fill="#FFFFFC"/>
<rect x="296.23" y="200.53" width="21.82" height="2.82" fill="#F2F2FC"/>
<rect x="296.23" y="202.65" width="21.82" height="2.65" fill="#F2F2FC"/>
<rect x="296.23" y="204.60" width="21.82" height="3.04" fill="#C6C6F5"/>
<rect x="296.23" y="206.94" width="21.82" height="1.76" fill="#C7C7F5"/>
<rect x="296.23" y="208.00" width="21.82" height="2.81" fill="#F1F1FC"/>
<rect x="296.23" y="210.11" width="21.82" height="3.27" fill="#F1F1FC"/>
<rect x="296.23" y="212.68" width="21.82" height="2.16" fill="#F3F3FC"/>
<rect x="296.23" y="214.14" width="21.82" height="2.56" fill="#F2F2FC"/>
<rect x="296.23" y="216.00" width="21.82" height="1.97" fill="#F3F3FC"/>
<rect x="296.23" y="217.27" width="21.82" height="2.83" fill="#FEFEFC"/>
<rect x="296.23" y="219.40" width="21.82" height="2.45" fill="#F8F8FC"/>
<rect x="296.23" y="221.15" width="21.82" height="1.71" fill="#F8F8FC"/>
<rect x="296.23" y="222.16" width="21.82" height="1.99" fill="#FDFDFC"/>
<rect x="296.23" y="223.45" width="21.82" height="2.85" fill="#FDFDFC"/>
<rect x="296.23" y="225.60" width="21.82" height="1.91" fill="#F8C1C1"/>
<rect x="296.23" y="226.81" width="21.82" height="2.69" fill="#F8C1C1"/>
<rect x="296.23" y="228.80" width="21.82" height="2.04" fill="#FAF1F4"/>
<rect x="296.23" y="230.14" width="21.82" height="2.39" fill="#FAE5E8"/>
<rect x="296.23" y="231.84" width="21.82" height="2.36" fill="#FAE3E6"/>
<rect x="296.23" y="233.50" width="21.82" height="1.88" fill="#F08888"/>
<rect x="296.23" y="234.68" width="21.82" height="2.02" fill="#F09595"/>
<rect x="296.23" y="236.00" width="21.82" height="2.67" fill="#FAD1D1"/>
<rect x="296.23" y="237.97" width="21.82" height="1.71" fill="#FAC5C5"/>
<rect x="296.23" y="238.98" width="21.82" height="1.72" fill="#FAC8C8"/>
<rect x="296.23" y="240.00" width="21.82" height="3.00" fill="#F08282"/>
<rect x="296.23" y="242.30" width="21.82" height="1.80" fill="#FAECF1"/>
<rect x="296.23" y="243.40" width="21.82" height="3.13" fill="#FAE3E8"/>
<rect x="296.23" y="245.83" width="21.82" height="3.05" fill="#FAEAEF"/>
<rect x="296.23" y="248.19" width="21.82" height="2.88" fill="#FAECF1"/>
<rect x="296.23" y="250.37" width="21.82" height="3.03" fill="#FAEAEF"/>
<rect x="296.23" y="252.70" width="21.82" height="2.35" fill="#FAC9C9"/>
<rect x="296.23" y="254.35" width="21.82" height="2.19" fill="#FAC1C1"/>
<rect x="296.23" y="255.84" width="21.82" height="2.36" fill="#FAC6C6"/>
<rect x="296.23" y="257.50" width="21.82" height="2.91" fill="#FAE2E7"/>
<rect x="296.23" y="259.71" width="21.82" height="2.90" fill="#FAEBF0"/>
<rect x="296.23" y="261.91" width="21.82" height="2.59" fill="#FAEDF2"/>
<rect x="296.23" y="263.80" width="21.82" height="3.23" fill="#E7E7FA"/>
<rect x="296.23" y="266.33" width="21.82" height="2.97" fill="#E4E4FA"/>
<rect x="296.23" y="268.60" width="21.82" height="2.67" fill="#F5A1A1"/>
<rect x="296.23" y="270.57" width="21.82" height="2.13" fill="#F5A4A4"/>
<rect x="296.23" y="272.00" width="21.82" height="2.62" fill="#FAC1C1"/>
<rect x="296.23" y="273.92" width="21.82" height="1.90" fill="#FAC6C6"/>
<rect x="296.23" y="275.11" width="21.82" height="1.59" fill="#FAC5C5"/>
<rect x="296.23" y="276.00" width="21.82" height="2.82" fill="#F59C9C"/>
<rect x="296.23" y="278.12" width="21.82" height="2.44" fill="#F5A2A2"/>
<rect x="296.23" y="279.86" width="21.82" height="1.84" fill="#F5A2A2"/>
<rect x="296.23" y="281.00" width="21.82" height="2.05" fill="#FAD1D1"/>
<rect x="296.23" y="282.35" width="21.82" height="2.60" fill="#FAD5D5"/>
<rect x="296.23" y="284.25" width="21.82" height="2.85" fill="#FAD6D6"/>
<rect x="296.23" y="286.40" width="21.82" height="3.00" fill="#FAFAFC"/>
<rect x="296.23" y="288.70" width="21.82" height="2.93" fill="#F01414"/>
<rect x="296.23" y="290.93" width="21.82" height="2.47" fill="#F01414"/>
<rect x="296.23" y="292.70" width="21.82" height="2.30" fill="#FAFAFC"/>
<rect x="296.23" y="294.30" width="21.82" height="2.66" fill="#C2C2F5"/>
<rect x="296.23" y="296.26" width="21.82" height="3.29" fill="#CDCDF5"/>
<rect x="296.23" y="298.86" width="21.82" height="2.54" fill="#C7C7F5"/>
<rect x="296.23" y="300.70" width="21.82" height="2.13" fill="#F8E9EB"/>
<rect x="296.23" y="302.13" width="21.82" height="2.24" fill="#F8F6F8"/>
<rect x="296.23" y="303.66" width="21.82" height="1.98" fill="#F8F2F4"/>
<rect x="296.23" y="304.94" width="21.82" height="2.53" fill="#F8FAFC"/>
<rect x="296.23" y="306.78" width="21.82" height="1.78" fill="#F8EEF0"/>
<rect x="296.23" y="307.86" width="21.82" height="1.54" fill="#F8F2F4"/>
<rect x="296.23" y="308.70" width="21.82" height="2.17" fill="#B4B4F5"/>
<rect x="296.23" y="310.17" width="21.82" height="2.31" fill="#B3B3F5"/>
<rect x="296.23" y="311.78" width="21.82" height="1.82" fill="#B9B9F5"/>
<rect x="296.23" y="312.90" width="21.82" height="1.79" fill="#B9B9F5"/>
<rect x="296.23" y="313.98" width="21.82" height="1.89" fill="#BEBEF5"/>
<rect x="296.23" y="315.17" width="21.82" height="1.73" fill="#BABAF5"/>
<rect x="296.23" y="316.20" width="21.82" height="1.72" fill="#DEDEFA"/>
<rect x="296.23" y="317.22" width="21.82" height="2.98" fill="#E0E0FA"/>
<rect x="296.23" y="319.50" width="21.82" height="2.90" fill="#F5C8C8"/>
<rect x="296.23" y="321.70" width="21.82" height="2.30" fill="#F03C3C"/>
<rect x="296.23" y="323.30" width="21.82" height="2.40" fill="#F5BEBE"/>
<rect x="296.23" y="325.00" width="21.82" height="2.90" fill="#F8E6EB"/>
<rect x="296.23" y="327.20" width="21.82" height="3.15" fill="#EB2121"/>
<rect x="296.23" y="329.65" width="21.82" height="1.55" fill="#EB1E1E"/>
<rect x="296.23" y="330.50" width="21.82" height="2.30" fill="#F5BEBE"/>
<rect x="296.23" y="332.10" width="21.82" height="2.40" fill="#FAE1E1"/>
<rect x="296.23" y="333.80" width="21.82" height="1.92" fill="#8484F0"/>
<rect x="296.23" y="335.02" width="21.82" height="2.21" fill="#8888F0"/>
<rect x="296.23" y="336.54" width="21.82" height="1.75" fill="#8D8DF0"/>
<rect x="296.23" y="337.58" width="21.82" height="1.82" fill="#8D8DF0"/>
<rect x="296.23" y="338.70" width="21.82" height="2.30" fill="#EBEBFA"/>
<rect x="296.23" y="340.30" width="21.82" height="2.40" fill="#F5BEBE"/>
<rect x="296.23" y="342.00" width="21.82" height="3.00" fill="#F09696"/>
<rect x="296.23" y="344.30" width="21.82" height="3.10" fill="#E1E1FA"/>
<rect x="296.23" y="346.70" width="21.82" height="3.00" fill="#F8B4B4"/>
<rect x="296.23" y="349.00" width="21.82" height="2.88" fill="#CFCFF8"/>
<rect x="296.23" y="351.18" width="21.82" height="3.04" fill="#D0D0F8"/>
<rect x="296.23" y="353.52" width="21.82" height="1.38" fill="#CCCCF8"/>
<rect x="317.35" y="68.60" width="21.82" height="1.89" fill="#F8F8FC"/>
<rect x="317.35" y="69.79" width="21.82" height="2.31" fill="#F0F0FC"/>
<rect x="317.35" y="71.40" width="21.82" height="3.12" fill="#ECECFC"/>
<rect x="317.35" y="73.82" width="21.82" height="2.00" fill="#F6F6FC"/>
<rect x="317.35" y="75.13" width="21.82" height="2.66" fill="#E8E8FC"/>
<rect x="317.35" y="77.08" width="21.82" height="1.62" fill="#EDEDFC"/>
<rect x="317.35" y="78.00" width="21.82" height="1.70" fill="#FAFAFC"/>
<rect x="317.35" y="79.00" width="21.82" height="1.71" fill="#E3E3FA"/>
<rect x="317.35" y="80.01" width="21.82" height="2.69" fill="#D7D7FA"/>
<rect x="317.35" y="82.00" width="21.82" height="2.32" fill="#D2D2F8"/>
<rect x="317.35" y="83.62" width="21.82" height="1.78" fill="#D5D5F8"/>
<rect x="317.35" y="84.70" width="21.82" height="2.70" fill="#FAFAFC"/>
<rect x="317.35" y="86.70" width="21.82" height="2.76" fill="#D6D6FA"/>
<rect x="317.35" y="88.76" width="21.82" height="1.86" fill="#E1E1FA"/>
<rect x="317.35" y="89.91" width="21.82" height="2.81" fill="#CFCFFA"/>
<rect x="317.35" y="92.02" width="21.82" height="2.41" fill="#DCDCFA"/>
<rect x="317.35" y="93.72" width="21.82" height="3.28" fill="#CECEFA"/>
<rect x="317.35" y="96.30" width="21.82" height="1.72" fill="#E1E1FC"/>
<rect x="317.35" y="97.32" width="21.82" height="2.38" fill="#E9E9FC"/>
<rect x="317.35" y="98.99" width="21.82" height="3.02" fill="#DEDEFC"/>
<rect x="317.35" y="101.31" width="21.82" height="2.37" fill="#E3E3FC"/>
<rect x="317.35" y="102.98" width="21.82" height="1.72" fill="#DBDBFC"/>
<rect x="317.35" y="104.00" width="21.82" height="2.33" fill="#D4D4FA"/>
<rect x="317.35" y="105.63" width="21.82" height="2.07" fill="#D3D3FA"/>
<rect x="317.35" y="107.00" width="21.82" height="3.20" fill="#F5F5FD"/>
<rect x="317.35" y="109.50" width="21.82" height="2.62" fill="#EDEDFD"/>
<rect x="317.35" y="111.41" width="21.82" height="2.07" fill="#F4F4FD"/>
<rect x="317.35" y="112.79" width="21.82" height="3.07" fill="#F6F6FD"/>
<rect x="317.35" y="115.16" width="21.82" height="1.54" fill="#FFFFFD"/>
<rect x="317.35" y="116.00" width="21.82" height="2.70" fill="#E1E1FA"/>
<rect x="317.35" y="118.00" width="21.82" height="2.76" fill="#D3D3F8"/>
<rect x="317.35" y="120.06" width="21.82" height="2.02" fill="#CECEF8"/>
<rect x="317.35" y="121.38" width="21.82" height="2.32" fill="#CBCBF8"/>
<rect x="317.35" y="123.00" width="21.82" height="3.20" fill="#FCFCFC"/>
<rect x="317.35" y="125.50" width="21.82" height="2.27" fill="#EBEBFC"/>
<rect x="317.35" y="127.07" width="21.82" height="3.16" fill="#EDEDFC"/>
<rect x="317.35" y="129.52" width="21.82" height="2.18" fill="#E0E0FC"/>
<rect x="317.35" y="131.00" width="21.82" height="1.80" fill="#F7F7FD"/>
<rect x="317.35" y="132.10" width="21.82" height="2.20" fill="#F2F2FD"/>
<rect x="317.35" y="133.60" width="21.82" height="3.10" fill="#F2F2FD"/>
<rect x="317.35" y="136.00" width="21.82" height="3.02" fill="#EFEFFC"/>
<rect x="317.35" y="138.32" width="21.82" height="1.89" fill="#EEEEFC"/>
<rect x="317.35" y="139.51" width="21.82" height="2.34" fill="#E0E0FC"/>
<rect x="317.35" y="141.14" width="21.82" height="1.86" fill="#DDDDFC"/>
<rect x="317.35" y="142.30" width="21.82" height="2.50" fill="#DADAFA"/>
<rect x="317.35" y="144.10" width="21.82" height="2.10" fill="#E3E3FA"/>
<rect x="317.35" y="145.50" width="21.82" height="1.79" fill="#FAE4E4"/>
<rect x="317.35" y="146.59" width="21.82" height="2.32" fill="#FAE0E0"/>
<rect x="317.35" y="148.21" width="21.82" height="2.69" fill="#FAE1E1"/>
<rect x="317.35" y="150.20" width="21.82" height="2.81" fill="#C0BBEB"/>
<rect x="317.35" y="152.31" width="21.82" height="1.79" fill="#BDB8EB"/>
<rect x="317.35" y="153.40" width="21.82" height="2.41" fill="#E2E2FA"/>
<rect x="317.35" y="155.11" width="21.82" height="2.09" fill="#E5E5FA"/>
<rect x="317.35" y="156.50" width="21.82" height="2.40" fill="#E4E4FA"/>
<rect x="317.35" y="158.20" width="21.82" height="2.50" fill="#D2D2FA"/>
<rect x="317.35" y="160.00" width="21.82" height="2.67" fill="#C2C2F5"/>
<rect x="317.35" y="161.97" width="21.82" height="2.90" fill="#C6C6F5"/>
<rect x="317.35" y="164.18" width="21.82" height="2.12" fill="#CACAF5"/>
<rect x="317.35" y="165.60" width="21.82" height="3.10" fill="#FAFAFC"/>
<rect x="317.35" y="168.00" width="21.82" height="2.71" fill="#E0E0FA"/>
<rect x="317.35" y="170.01" width="21.82" height="1.79" fill="#E7E7FA"/>
<rect x="317.35" y="171.09" width="21.82" height="3.08" fill="#E1E1FA"/>
<rect x="317.35" y="173.47" width="21.82" height="3.23" fill="#DCDCFA"/>
<rect x="317.35" y="176.00" width="21.82" height="3.14" fill="#FCFCFA"/>
<rect x="317.35" y="178.44" width="21.82" height="2.06" fill="#FEFEFA"/>
<rect x="317.35" y="179.79" width="21.82" height="3.28" fill="#F5F5FA"/>
<rect x="317.35" y="182.37" width="21.82" height="3.29" fill="#F8F8FA"/>
<rect x="317.35" y="184.96" width="21.82" height="1.99" fill="#FCFCFA"/>
<rect x="317.35" y="186.25" width="21.82" height="2.24" fill="#FDFDFA"/>
<rect x="317.35" y="187.79" width="21.82" height="2.63" fill="#F0F0FA"/>
<rect x="317.35" y="189.73" width="21.82" height="2.54" fill="#FFFFFA"/>
<rect x="317.35" y="191.57" width="21.82" height="2.46" fill="#F9F9FA"/>
<rect x="317.35" y="193.33" width="21.82" height="3.08" fill="#F7F7FA"/>
<rect x="317.35" y="195.72" width="21.82" height="1.68" fill="#FAFAFA"/>
<rect x="317.35" y="196.70" width="21.82" height="3.02" fill="#A4A4EB"/>
<rect x="317.35" y="199.02" width="21.82" height="1.68" fill="#AFAFEB"/>
<rect x="317.35" y="200.00" width="21.82" height="2.58" fill="#F6F6FC"/>
<rect x="317.35" y="201.88" width="21.82" height="3.13" fill="#FFFFFC"/>
<rect x="317.35" y="204.31" width="21.82" height="2.57" fill="#FFFFFC"/>
<rect x="317.35" y="206.18" width="21.82" height="2.52" fill="#FFFFFC"/>
<rect x="317.35" y="208.00" width="21.82" height="2.17" fill="#BEBEF5"/>
<rect x="317.35" y="209.47" width="21.82" height="2.79" fill="#CDCDF5"/>
<rect x="317.35" y="211.55" width="21.82" height="1.75" fill="#C8C8F5"/>
<rect x="317.35" y="212.60" width="21.82" height="2.61" fill="#B9B9F5"/>
<rect x="317.35" y="214.51" width="21.82" height="2.82" fill="#BFBFF5"/>
<rect x="317.35" y="216.62" width="21.82" height="3.08" fill="#B6B6F5"/>
<rect x="317.35" y="219.00" width="21.82" height="2.59" fill="#9C9CF2"/>
<rect x="317.35" y="220.89" width="21.82" height="2.86" fill="#9999F2"/>
<rect x="317.35" y="223.05" width="21.82" height="2.33" fill="#9A9AF2"/>
<rect x="317.35" y="224.68" width="21.82" height="2.35" fill="#A2A2F2"/>
<rect x="317.35" y="226.33" width="21.82" height="1.87" fill="#9797F2"/>
<rect x="317.35" y="227.50" width="21.82" height="2.00" fill="#9A9AF2"/>
<rect x="317.35" y="228.80" width="21.82" height="2.51" fill="#F3F3FC"/>
<rect x="317.35" y="230.61" width="21.82" height="1.86" fill="#FBFBFC"/>
<rect x="317.35" y="231.77" width="21.82" height="2.43" fill="#FFFFFC"/>
<rect x="317.35" y="233.50" width="21.82" height="2.52" fill="#BCBCF8"/>
<rect x="317.35" y="235.32" width="21.82" height="2.08" fill="#BABAF8"/>
<rect x="317.35" y="236.70" width="21.82" height="2.20" fill="#A9A9F0"/>
<rect x="317.35" y="238.20" width="21.82" height="1.89" fill="#A9A9F0"/>
<rect x="317.35" y="239.39" width="21.82" height="2.46" fill="#9F9FF0"/>
<rect x="317.35" y="241.15" width="21.82" height="1.85" fill="#A9A9F0"/>
<rect x="317.35" y="242.30" width="21.82" height="3.10" fill="#FAFAFC"/>
<rect x="317.35" y="244.70" width="21.82" height="2.00" fill="#9797F2"/>
<rect x="317.35" y="246.00" width="21.82" height="2.52" fill="#9090F2"/>
<rect x="317.35" y="247.81" width="21.82" height="2.06" fill="#A0A0F2"/>
<rect x="317.35" y="249.17" width="21.82" height="2.97" fill="#9B9BF2"/>
<rect x="317.35" y="251.44" width="21.82" height="3.14" fill="#8E8EF2"/>
<rect x="317.35" y="253.88" width="21.82" height="2.83" fill="#9B9BF2"/>
<rect x="317.35" y="256.01" width="21.82" height="2.06" fill="#9595F2"/>
<rect x="317.35" y="257.37" width="21.82" height="3.26" fill="#9393F2"/>
<rect x="317.35" y="259.93" width="21.82" height="2.92" fill="#8F8FF2"/>
<rect x="317.35" y="262.15" width="21.82" height="2.77" fill="#9191F2"/>
<rect x="317.35" y="264.21" width="21.82" height="2.51" fill="#9393F2"/>
<rect x="317.35" y="266.03" width="21.82" height="1.67" fill="#9B9BF2"/>
<rect x="317.35" y="267.00" width="21.82" height="2.51" fill="#FAC2B8"/>
<rect x="317.35" y="268.81" width="21.82" height="2.89" fill="#FAC4BA"/>
<rect x="317.35" y="271.00" width="21.82" height="3.10" fill="#5050DC"/>
<rect x="317.35" y="273.40" width="21.82" height="2.11" fill="#E2E2FA"/>
<rect x="317.35" y="274.81" width="21.82" height="2.64" fill="#DFDFFA"/>
<rect x="317.35" y="276.75" width="21.82" height="1.55" fill="#DADAFA"/>
<rect x="317.35" y="277.60" width="21.82" height="2.72" fill="#A4A4F5"/>
<rect x="317.35" y="279.62" width="21.82" height="2.68" fill="#AAAAF5"/>
<rect x="317.35" y="281.60" width="21.82" height="3.23" fill="#C5C5F8"/>
<rect x="317.35" y="284.13" width="21.82" height="2.97" fill="#BBBBF8"/>
<rect x="317.35" y="286.40" width="21.82" height="1.77" fill="#ABABF5"/>
<rect x="317.35" y="287.47" width="21.82" height="2.89" fill="#B2B2F5"/>
<rect x="317.35" y="289.66" width="21.82" height="2.04" fill="#A3A3F5"/>
<rect x="317.35" y="291.00" width="21.82" height="2.40" fill="#FAFAFC"/>
<rect x="317.35" y="292.70" width="21.82" height="3.27" fill="#F21414"/>
<rect x="317.35" y="295.27" width="21.82" height="1.94" fill="#F21414"/>
<rect x="317.35" y="296.51" width="21.82" height="2.11" fill="#F21414"/>
<rect x="317.35" y="297.92" width="21.82" height="1.85" fill="#F22424"/>
<rect x="317.35" y="299.07" width="21.82" height="2.83" fill="#F22525"/>
<rect x="317.35" y="301.21" width="21.82" height="1.79" fill="#F21414"/>
<rect x="317.35" y="302.30" width="21.82" height="2.79" fill="#F59494"/>
<rect x="317.35" y="304.39" width="21.82" height="1.81" fill="#F59393"/>
<rect x="317.35" y="305.50" width="21.82" height="2.86" fill="#FAF9F9"/>
<rect x="317.35" y="307.66" width="21.82" height="2.28" fill="#FAE9E9"/>
<rect x="317.35" y="309.24" width="21.82" height="2.04" fill="#FAE8E8"/>
<rect x="317.35" y="310.58" width="21.82" height="3.32" fill="#FAFBFB"/>
<rect x="317.35" y="313.20" width="21.82" height="2.85" fill="#FAD5D5"/>
<rect x="317.35" y="315.35" width="21.82" height="2.55" fill="#FACDCD"/>
<rect x="317.35" y="317.20" width="21.82" height="1.71" fill="#F05E5E"/>
<rect x="317.35" y="318.21" width="21.82" height="1.95" fill="#F06262"/>
<rect x="317.35" y="319.46" width="21.82" height="1.64" fill="#F06E6E"/>
<rect x="317.35" y="320.40" width="21.82" height="1.88" fill="#FADFDF"/>
<rect x="317.35" y="321.58" width="21.82" height="2.09" fill="#FAD4D4"/>
<rect x="317.35" y="322.97" width="21.82" height="2.13" fill="#FADEDE"/>
<rect x="317.35" y="324.40" width="21.82" height="2.06" fill="#F05959"/>
<rect x="317.35" y="325.76" width="21.82" height="2.44" fill="#F05D5D"/>
<rect x="317.35" y="327.50" width="21.82" height="3.28" fill="#FADFDF"/>
<rect x="317.35" y="330.08" width="21.82" height="2.92" fill="#FADBDB"/>
<rect x="317.35" y="332.30" width="21.82" height="2.64" fill="#F03F3F"/>
<rect x="317.35" y="334.24" width="21.82" height="2.98" fill="#F03636"/>
<rect x="317.35" y="336.52" width="21.82" height="2.18" fill="#F03D3D"/>
<rect x="317.35" y="338.00" width="21.82" height="3.00" fill="#F8BEBE"/>
<rect x="317.35" y="340.30" width="21.82" height="2.15" fill="#8B8BF0"/>
<rect x="317.35" y="341.75" width="21.82" height="3.20" fill="#7B7BF0"/>
<rect x="317.35" y="344.26" width="21.82" height="2.53" fill="#7E7EF0"/>
<rect x="317.35" y="346.09" width="21.82" height="2.91" fill="#7D7DF0"/>
<rect x="317.35" y="348.30" width="21.82" height="3.10" fill="#C8C8F8"/>
<rect x="317.35" y="350.70" width="21.82" height="2.54" fill="#8888F0"/>
<rect x="317.35" y="352.54" width="21.82" height="1.82" fill="#8383F0"/>
<rect x="317.35" y="353.66" width="21.82" height="1.24" fill="#9191F0"/>
<rect x="338.47" y="68.60" width="21.82" height="2.93" fill="#9696F5"/>
<rect x="338.47" y="70.83" width="21.82" height="1.74" fill="#A2A2F5"/>
<rect x="338.47" y="71.87" width="21.82" height="1.79" fill="#A0A0F5"/>
<rect x="338.47" y="72.96" width="21.82" height="2.47" fill="#9696F5"/>
<rect x="338.47" y="74.73" width="21.82" height="2.25" fill="#9C9CF5"/>
<rect x="338.47" y="76.28" width="21.82" height="2.42" fill="#A0A0F5"/>
<rect x="338.47" y="78.00" width="21.82" height="1.70" fill="#FAFAFC"/>
<rect x="338.47" y="79.00" width="21.82" height="2.95" fill="#A1A1F0"/>
<rect x="338.47" y="81.25" width="21.82" height="2.19" fill="#9C9CF0"/>
<rect x="338.47" y="82.74" width="21.82" height="2.66" fill="#9E9EF0"/>
<rect x="338.47" y="84.70" width="21.82" height="2.00" fill="#FAFAFC"/>
<rect x="338.47" y="86.00" width="21.82" height="1.88" fill="#B8B8F5"/>
<rect x="338.47" y="87.18" width="21.82" height="2.08" fill="#ADADF5"/>
<rect x="338.47" y="88.56" width="21.82" height="2.33" fill="#B9B9F5"/>
<rect x="338.47" y="90.19" width="21.82" height="2.86" fill="#ADADF5"/>
<rect x="338.47" y="92.34" width="21.82" height="1.96" fill="#BDBDF5"/>
<rect x="338.47" y="93.61" width="21.82" height="1.79" fill="#BBBBF5"/>
<rect x="338.47" y="94.70" width="21.82" height="2.52" fill="#A5A5F5"/>
<rect x="338.47" y="96.52" width="21.82" height="2.28" fill="#A5A5F5"/>
<rect x="338.47" y="98.10" width="21.82" height="1.84" fill="#A8A8F5"/>
<rect x="338.47" y="99.23" width="21.82" height="2.23" fill="#ABABF5"/>
<rect x="338.47" y="100.77" width="21.82" height="2.39" fill="#A2A2F5"/>
<rect x="338.47" y="102.46" width="21.82" height="2.24" fill="#A1A1F5"/>
<rect x="338.47" y="104.00" width="21.82" height="2.47" fill="#B2B2F5"/>
<rect x="338.47" y="105.77" width="21.82" height="1.93" fill="#B4B4F5"/>
<rect x="338.47" y="107.00" width="21.82" height="2.03" fill="#9D9DF5"/>
<rect x="338.47" y="108.33" width="21.82" height="2.12" fill="#A5A5F5"/>
<rect x="338.47" y="109.75" width="21.82" height="2.37" fill="#AAAAF5"/>
<rect x="338.47" y="111.42" width="21.82" height="2.85" fill="#A7A7F5"/>
<rect x="338.47" y="113.57" width="21.82" height="2.13" fill="#AFAFF5"/>
<rect x="338.47" y="115.00" width="21.82" height="1.70" fill="#FAFAFC"/>
<rect x="338.47" y="116.00" width="21.82" height="1.78" fill="#A8A8F5"/>
<rect x="338.47" y="117.08" width="21.82" height="2.32" fill="#A6A6F5"/>
<rect x="338.47" y="118.69" width="21.82" height="2.75" fill="#B2B2F5"/>
<rect x="338.47" y="120.74" width="21.82" height="2.42" fill="#A9A9F5"/>
<rect x="338.47" y="122.46" width="21.82" height="2.94" fill="#ACACF5"/>
<rect x="338.47" y="124.70" width="21.82" height="2.30" fill="#7474EB"/>
<rect x="338.47" y="126.30" width="21.82" height="2.40" fill="#7474EB"/>
<rect x="338.47" y="128.00" width="21.82" height="2.33" fill="#9494F0"/>
<rect x="338.47" y="129.63" width="21.82" height="2.33" fill="#8D8DF0"/>
<rect x="338.47" y="131.26" width="21.82" height="1.92" fill="#9494F0"/>
<rect x="338.47" y="132.48" width="21.82" height="2.93" fill="#8383F0"/>
<rect x="338.47" y="134.70" width="21.82" height="2.36" fill="#9393F0"/>
<rect x="338.47" y="136.36" width="21.82" height="2.67" fill="#8A8AF0"/>
<rect x="338.47" y="138.33" width="21.82" height="3.07" fill="#8C8CF0"/>
<rect x="338.47" y="140.70" width="21.82" height="3.00" fill="#6464E6"/>
<rect x="338.47" y="143.00" width="21.82" height="2.59" fill="#8E8EF0"/>
<rect x="338.47" y="144.89" width="21.82" height="2.46" fill="#8383F0"/>
<rect x="338.47" y="146.65" width="21.82" height="2.60" fill="#8585F0"/>
<rect x="338.47" y="148.55" width="21.82" height="1.74" fill="#8D8DF0"/>
<rect x="338.47" y="149.58" width="21.82" height="3.12" fill="#9595F0"/>
<rect x="338.47" y="152.00" width="21.82" height="1.86" fill="#ABABF5"/>
<rect x="338.47" y="153.16" width="21.82" height="2.54" fill="#A5A5F5"/>
<rect x="338.47" y="155.00" width="21.82" height="1.89" fill="#8E8EF0"/>
<rect x="338.47" y="156.19" width="21.82" height="2.04" fill="#9E9EF0"/>
<rect x="338.47" y="157.53" width="21.82" height="3.17" fill="#8F8FF0"/>
<rect x="338.47" y="160.00" width="21.82" height="1.70" fill="#EBEBFC"/>
<rect x="338.47" y="161.00" width="21.82" height="2.38" fill="#B4B4F5"/>
<rect x="338.47" y="162.68" width="21.82" height="1.95" fill="#AEAEF5"/>
<rect x="338.47" y="163.93" width="21.82" height="2.37" fill="#AAAAF5"/>
<rect x="338.47" y="165.60" width="21.82" height="2.60" fill="#E6E6FC"/>
<rect x="338.47" y="167.50" width="21.82" height="2.70" fill="#7878F0"/>
<rect x="338.47" y="169.50" width="21.82" height="1.75" fill="#7979F0"/>
<rect x="338.47" y="170.55" width="21.82" height="2.65" fill="#7575F0"/>
<rect x="338.47" y="172.49" width="21.82" height="2.58" fill="#7272F0"/>
<rect x="338.47" y="174.38" width="21.82" height="1.89" fill="#7272F0"/>
<rect x="338.47" y="175.57" width="21.82" height="2.03" fill="#7676F0"/>
<rect x="338.47" y="176.90" width="21.82" height="3.07" fill="#7F7FF0"/>
<rect x="338.47" y="179.27" width="21.82" height="2.23" fill="#7D7DF0"/>
<rect x="338.47" y="180.80" width="21.82" height="1.85" fill="#7979F0"/>
<rect x="338.47" y="181.95" width="21.82" height="2.94" fill="#7F7FF0"/>
<rect x="338.47" y="184.19" width="21.82" height="2.03" fill="#7D7DF0"/>
<rect x="338.47" y="185.52" width="21.82" height="1.70" fill="#7B7BF0"/>
<rect x="338.47" y="186.52" width="21.82" height="3.01" fill="#7373F0"/>
<rect x="338.47" y="188.83" width="21.82" height="1.93" fill="#7474F0"/>
<rect x="338.47" y="190.06" width="21.82" height="2.64" fill="#7E7EF0"/>
<rect x="338.47" y="192.00" width="21.82" height="3.00" fill="#7474F0"/>
<rect x="338.47" y="194.30" width="21.82" height="2.25" fill="#4040E1"/>
<rect x="338.47" y="195.85" width="21.82" height="2.35" fill="#4949E1"/>
<rect x="338.47" y="197.50" width="21.82" height="2.95" fill="#6D6DEB"/>
<rect x="338.47" y="199.75" width="21.82" height="2.10" fill="#6F6FEB"/>
<rect x="338.47" y="201.15" width="21.82" height="2.33" fill="#7070EB"/>
<rect x="338.47" y="202.78" width="21.82" height="2.52" fill="#6F6FEB"/>
<rect x="338.47" y="204.60" width="21.82" height="2.42" fill="#9A9AF5"/>
<rect x="338.47" y="206.32" width="21.82" height="2.38" fill="#9898F5"/>
<rect x="338.47" y="208.00" width="21.82" height="2.37" fill="#4141E1"/>
<rect x="338.47" y="209.67" width="21.82" height="3.03" fill="#4242E1"/>
<rect x="338.47" y="212.00" width="21.82" height="2.95" fill="#8787F0"/>
<rect x="338.47" y="214.25" width="21.82" height="2.45" fill="#8E8EF0"/>
<rect x="338.47" y="216.00" width="21.82" height="1.90" fill="#8F8FF2"/>
<rect x="338.47" y="217.20" width="21.82" height="2.21" fill="#9898F2"/>
<rect x="338.47" y="218.71" width="21.82" height="2.06" fill="#8D8DF2"/>
<rect x="338.47" y="220.07" width="21.82" height="2.95" fill="#9898F2"/>
<rect x="338.47" y="222.31" width="21.82" height="1.59" fill="#9E9EF2"/>
<rect x="338.47" y="223.20" width="21.82" height="3.10" fill="#5A5AE6"/>
<rect x="338.47" y="225.60" width="21.82" height="2.59" fill="#6E6EF0"/>
<rect x="338.47" y="227.49" width="21.82" height="2.41" fill="#7C7CF0"/>
<rect x="338.47" y="229.20" width="21.82" height="3.50" fill="#7171F0"/>
<rect x="338.47" y="232.00" width="21.82" height="1.70" fill="#9292F0"/>
<rect x="338.47" y="233.00" width="21.82" height="2.29" fill="#9393F0"/>
<rect x="338.47" y="234.59" width="21.82" height="2.14" fill="#9393F0"/>
<rect x="338.47" y="236.04" width="21.82" height="2.02" fill="#8B8BF0"/>
<rect x="338.47" y="237.35" width="21.82" height="2.46" fill="#9090F0"/>
<rect x="338.47" y="239.11" width="21.82" height="3.09" fill="#9595F0"/>
<rect x="338.47" y="241.50" width="21.82" height="2.20" fill="#4646DC"/>
<rect x="338.47" y="243.00" width="21.82" height="2.40" fill="#EBEBFC"/>
<rect x="338.47" y="244.70" width="21.82" height="2.23" fill="#9797F2"/>
<rect x="338.47" y="246.23" width="21.82" height="2.56" fill="#8C8CF2"/>
<rect x="338.47" y="248.08" width="21.82" height="1.82" fill="#9292F2"/>
<rect x="338.47" y="249.20" width="21.82" height="2.07" fill="#9797F2"/>
<rect x="338.47" y="250.58" width="21.82" height="2.76" fill="#8F8FF2"/>
<rect x="338.47" y="252.63" width="21.82" height="2.88" fill="#9F9FF2"/>
<rect x="338.47" y="254.81" width="21.82" height="2.20" fill="#9393F2"/>
<rect x="338.47" y="256.31" width="21.82" height="1.71" fill="#9090F2"/>
<rect x="338.47" y="257.32" width="21.82" height="2.23" fill="#8C8CF2"/>
<rect x="338.47" y="258.85" width="21.82" height="2.68" fill="#A0A0F2"/>
<rect x="338.47" y="260.83" width="21.82" height="1.96" fill="#9999F2"/>
<rect x="338.47" y="262.10" width="21.82" height="2.50" fill="#9393F2"/>
<rect x="338.47" y="263.90" width="21.82" height="2.48" fill="#8C8CF2"/>
<rect x="338.47" y="265.67" width="21.82" height="2.03" fill="#9595F2"/>
<rect x="338.47" y="267.00" width="21.82" height="2.74" fill="#9191F0"/>
<rect x="338.47" y="269.04" width="21.82" height="2.66" fill="#9191F0"/>
<rect x="338.47" y="271.00" width="21.82" height="2.77" fill="#4F4FE4"/>
<rect x="338.47" y="273.07" width="21.82" height="2.63" fill="#4D4DE4"/>
<rect x="338.47" y="275.00" width="21.82" height="2.23" fill="#9C9CF2"/>
<rect x="338.47" y="276.53" width="21.82" height="2.57" fill="#9595F2"/>
<rect x="338.47" y="278.40" width="21.82" height="1.90" fill="#C6C6F8"/>
<rect x="338.47" y="279.60" width="21.82" height="2.70" fill="#BBBBF8"/>
<rect x="338.47" y="281.60" width="21.82" height="2.41" fill="#8C8CF0"/>
<rect x="338.47" y="283.31" width="21.82" height="2.19" fill="#7E7EF0"/>
<rect x="338.47" y="284.80" width="21.82" height="2.30" fill="#8989F0"/>
<rect x="338.47" y="286.40" width="21.82" height="2.82" fill="#ADADF5"/>
<rect x="338.47" y="288.52" width="21.82" height="1.68" fill="#AFAFF5"/>
<rect x="338.47" y="289.50" width="21.82" height="2.40" fill="#5454E1"/>
<rect x="338.47" y="291.20" width="21.82" height="1.50" fill="#5050E1"/>
<rect x="338.47" y="292.00" width="21.82" height="2.36" fill="#A9A9F5"/>
<rect x="338.47" y="293.66" width="21.82" height="3.04" fill="#B2B2F5"/>
<rect x="338.47" y="296.00" width="21.82" height="2.18" fill="#8585EE"/>
<rect x="338.47" y="297.48" width="21.82" height="1.82" fill="#8787EE"/>
<rect x="338.47" y="298.61" width="21.82" height="2.57" fill="#7F7FEE"/>
<rect x="338.47" y="300.48" width="21.82" height="2.99" fill="#7D7DEE"/>
<rect x="338.47" y="302.77" width="21.82" height="1.93" fill="#8383EE"/>
<rect x="338.47" y="304.00" width="21.82" height="2.17" fill="#9D9DF2"/>
<rect x="338.47" y="305.47" width="21.82" height="2.90" fill="#9999F2"/>
<rect x="338.47" y="307.67" width="21.82" height="2.30" fill="#9A9AF2"/>
<rect x="338.47" y="309.26" width="21.82" height="2.32" fill="#9C9CF2"/>
<rect x="338.47" y="310.88" width="21.82" height="2.43" fill="#A9A9F2"/>
<rect x="338.47" y="312.61" width="21.82" height="2.52" fill="#A6A6F2"/>
<rect x="338.47" y="314.43" width="21.82" height="2.67" fill="#A3A3F2"/>
<rect x="338.47" y="316.40" width="21.82" height="1.71" fill="#C3C3F8"/>
<rect x="338.47" y="317.41" width="21.82" height="2.89" fill="#B5B5F8"/>
<rect x="338.47" y="319.60" width="21.82" height="2.73" fill="#1919D7"/>
<rect x="338.47" y="321.63" width="21.82" height="2.67" fill="#2626D7"/>
<rect x="338.47" y="323.60" width="21.82" height="3.10" fill="#B4B4F8"/>
<rect x="338.47" y="326.00" width="21.82" height="2.94" fill="#1E1EDC"/>
<rect x="338.47" y="328.24" width="21.82" height="1.84" fill="#3232DC"/>
<rect x="338.47" y="329.38" width="21.82" height="2.02" fill="#1E1EDC"/>
<rect x="338.47" y="330.70" width="21.82" height="4.00" fill="#9E9EF0"/>
<rect x="338.47" y="334.00" width="21.82" height="3.00" fill="#C8C8F8"/>
<rect x="338.47" y="336.30" width="21.82" height="2.12" fill="#F05050"/>
<rect x="338.47" y="337.72" width="21.82" height="2.48" fill="#F04949"/>
<rect x="338.47" y="339.50" width="21.82" height="2.08" fill="#E6CCE0"/>
<rect x="338.47" y="340.88" width="21.82" height="1.89" fill="#E6C5D9"/>
<rect x="338.47" y="342.07" width="21.82" height="2.13" fill="#E6C8DC"/>
<rect x="338.47" y="343.50" width="21.82" height="1.86" fill="#EDE3F0"/>
<rect x="338.47" y="344.66" width="21.82" height="2.74" fill="#F2E8F0"/>
<rect x="338.47" y="346.70" width="21.82" height="3.16" fill="#F03535"/>
<rect x="338.47" y="349.16" width="21.82" height="1.54" fill="#F02C2C"/>
<rect x="338.47" y="350.00" width="21.82" height="2.44" fill="#EB1717"/>
<rect x="338.47" y="351.74" width="21.82" height="2.25" fill="#EB0F0F"/>
<rect x="338.47" y="353.28" width="21.82" height="1.62" fill="#EB0F0F"/>
<rect x="359.58" y="68.60" width="21.12" height="1.76" fill="#A8A8F5"/>
<rect x="359.58" y="69.66" width="21.12" height="1.85" fill="#B6B6F5"/>
<rect x="359.58" y="70.81" width="21.12" height="2.63" fill="#AAAAF5"/>
<rect x="359.58" y="72.74" width="21.12" height="2.76" fill="#B2B2F5"/>
<rect x="359.58" y="74.80" width="21.12" height="1.80" fill="#C8C8F8"/>
<rect x="359.58" y="75.90" width="21.12" height="2.80" fill="#CDCDF8"/>
<rect x="359.58" y="78.00" width="21.12" height="1.70" fill="#FAFAFC"/>
<rect x="359.58" y="79.00" width="21.12" height="1.93" fill="#A6A6F5"/>
<rect x="359.58" y="80.23" width="21.12" height="2.10" fill="#B1B1F5"/>
<rect x="359.58" y="81.63" width="21.12" height="3.77" fill="#ACACF5"/>
<rect x="359.58" y="84.70" width="21.12" height="2.00" fill="#FAFAFC"/>
<rect x="359.58" y="86.00" width="21.12" height="1.94" fill="#B8B8F8"/>
<rect x="359.58" y="87.24" width="21.12" height="2.82" fill="#B0B0F8"/>
<rect x="359.58" y="89.36" width="21.12" height="3.17" fill="#C0C0F8"/>
<rect x="359.58" y="91.84" width="21.12" height="3.19" fill="#BDBDF8"/>
<rect x="359.58" y="94.33" width="21.12" height="2.69" fill="#C3C3F8"/>
<rect x="359.58" y="96.31" width="21.12" height="2.13" fill="#B5B5F8"/>
<rect x="359.58" y="97.74" width="21.12" height="1.90" fill="#B3B3F8"/>
<rect x="359.58" y="98.94" width="21.12" height="2.98" fill="#B1B1F8"/>
<rect x="359.58" y="101.22" width="21.12" height="2.89" fill="#B7B7F8"/>
<rect x="359.58" y="103.41" width="21.12" height="3.10" fill="#BEBEF8"/>
<rect x="359.58" y="105.81" width="21.12" height="2.80" fill="#C0C0F8"/>
<rect x="359.58" y="107.91" width="21.12" height="1.77" fill="#B4B4F8"/>
<rect x="359.58" y="108.98" width="21.12" height="2.29" fill="#B8B8F8"/>
<rect x="359.58" y="110.57" width="21.12" height="2.77" fill="#C1C1F8"/>
<rect x="359.58" y="112.64" width="21.12" height="3.06" fill="#C2C2F8"/>
<rect x="359.58" y="115.00" width="21.12" height="1.70" fill="#FAFAFC"/>
<rect x="359.58" y="116.00" width="21.12" height="2.81" fill="#B6B6F8"/>
<rect x="359.58" y="118.11" width="21.12" height="2.51" fill="#BEBEF8"/>
<rect x="359.58" y="119.93" width="21.12" height="3.00" fill="#B6B6F8"/>
<rect x="359.58" y="122.23" width="21.12" height="2.27" fill="#BBBBF8"/>
<rect x="359.58" y="123.80" width="21.12" height="1.90" fill="#C1C1F8"/>
<rect x="359.58" y="125.00" width="21.12" height="1.70" fill="#B2B2F5"/>
<rect x="359.58" y="126.00" width="21.12" height="2.48" fill="#A9A9F5"/>
<rect x="359.58" y="127.78" width="21.12" height="2.61" fill="#AEAEF5"/>
<rect x="359.58" y="129.69" width="21.12" height="3.24" fill="#B7B7F5"/>
<rect x="359.58" y="132.23" width="21.12" height="2.64" fill="#B6B6F5"/>
<rect x="359.58" y="134.17" width="21.12" height="3.11" fill="#A8A8F5"/>
<rect x="359.58" y="136.58" width="21.12" height="3.02" fill="#B6B6F5"/>
<rect x="359.58" y="138.91" width="21.12" height="2.49" fill="#B4B4F5"/>
<rect x="359.58" y="140.70" width="21.12" height="2.33" fill="#9F9FF5"/>
<rect x="359.58" y="142.33" width="21.12" height="2.74" fill="#9F9FF5"/>
<rect x="359.58" y="144.37" width="21.12" height="2.91" fill="#A6A6F5"/>
<rect x="359.58" y="146.58" width="21.12" height="3.02" fill="#A2A2F5"/>
<rect x="359.58" y="148.90" width="21.12" height="2.18" fill="#ADADF5"/>
<rect x="359.58" y="150.39" width="21.12" height="2.31" fill="#A3A3F5"/>
<rect x="359.58" y="152.00" width="21.12" height="2.60" fill="#AEAEF5"/>
<rect x="359.58" y="153.90" width="21.12" height="2.73" fill="#AFAFF5"/>
<rect x="359.58" y="155.93" width="21.12" height="2.16" fill="#B9B9F5"/>
<rect x="359.58" y="157.38" width="21.12" height="3.32" fill="#B4B4F5"/>
<rect x="359.58" y="160.00" width="21.12" height="1.70" fill="#EBEBFC"/>
<rect x="359.58" y="161.00" width="21.12" height="2.15" fill="#AEAEF8"/>
<rect x="359.58" y="162.45" width="21.12" height="2.87" fill="#BABAF8"/>
<rect x="359.58" y="164.61" width="21.12" height="2.09" fill="#AEAEF8"/>
<rect x="359.58" y="166.00" width="21.12" height="2.20" fill="#FAFAFC"/>
<rect x="359.58" y="167.50" width="21.12" height="2.85" fill="#9696F2"/>
<rect x="359.58" y="169.65" width="21.12" height="2.30" fill="#9898F2"/>
<rect x="359.58" y="171.25" width="21.12" height="2.42" fill="#9999F2"/>
<rect x="359.58" y="172.97" width="21.12" height="2.90" fill="#A0A0F2"/>
<rect x="359.58" y="175.17" width="21.12" height="1.88" fill="#9797F2"/>
<rect x="359.58" y="176.35" width="21.12" height="3.21" fill="#9999F2"/>
<rect x="359.58" y="178.86" width="21.12" height="2.63" fill="#9D9DF2"/>
<rect x="359.58" y="180.79" width="21.12" height="1.75" fill="#9C9CF2"/>
<rect x="359.58" y="181.84" width="21.12" height="2.70" fill="#9898F2"/>
<rect x="359.58" y="183.84" width="21.12" height="2.20" fill="#9898F2"/>
<rect x="359.58" y="185.33" width="21.12" height="1.90" fill="#9797F2"/>
<rect x="359.58" y="186.53" width="21.12" height="2.11" fill="#9F9FF2"/>
<rect x="359.58" y="187.95" width="21.12" height="2.99" fill="#9595F2"/>
<rect x="359.58" y="190.23" width="21.12" height="2.91" fill="#9494F2"/>
<rect x="359.58" y="192.44" width="21.12" height="3.26" fill="#8F8FF2"/>
<rect x="359.58" y="195.00" width="21.12" height="3.07" fill="#CDCDF8"/>
<rect x="359.58" y="197.37" width="21.12" height="2.92" fill="#C0C0F8"/>
<rect x="359.58" y="199.59" width="21.12" height="2.61" fill="#BEBEF8"/>
<rect x="359.58" y="201.50" width="21.12" height="2.60" fill="#9696F2"/>
<rect x="359.58" y="203.40" width="21.12" height="1.79" fill="#9494F2"/>
<rect x="359.58" y="204.50" width="21.12" height="3.12" fill="#9898F2"/>
<rect x="359.58" y="206.92" width="21.12" height="1.78" fill="#9C9CF2"/>
<rect x="359.58" y="208.00" width="21.12" height="2.27" fill="#9999F0"/>
<rect x="359.58" y="209.57" width="21.12" height="2.34" fill="#8989F0"/>
<rect x="359.58" y="211.21" width="21.12" height="3.25" fill="#8888F0"/>
<rect x="359.58" y="213.76" width="21.12" height="2.10" fill="#9696F0"/>
<rect x="359.58" y="215.17" width="21.12" height="1.53" fill="#9292F0"/>
<rect x="359.58" y="216.00" width="21.12" height="3.07" fill="#B1B1F5"/>
<rect x="359.58" y="218.37" width="21.12" height="2.26" fill="#B4B4F5"/>
<rect x="359.58" y="219.93" width="21.12" height="3.77" fill="#B1B1F5"/>
<rect x="359.58" y="223.00" width="21.12" height="3.30" fill="#F6F6FC"/>
<rect x="359.58" y="225.60" width="21.12" height="2.35" fill="#AAAAF2"/>
<rect x="359.58" y="227.25" width="21.12" height="3.25" fill="#9696F2"/>
<rect x="359.58" y="229.81" width="21.12" height="2.01" fill="#9B9BF2"/>
<rect x="359.58" y="231.12" width="21.12" height="1.58" fill="#9A9AF2"/>
<rect x="359.58" y="232.00" width="21.12" height="1.97" fill="#B4B4F5"/>
<rect x="359.58" y="233.27" width="21.12" height="1.97" fill="#B9B9F5"/>
<rect x="359.58" y="234.54" width="21.12" height="2.43" fill="#B7B7F5"/>
<rect x="359.58" y="236.27" width="21.12" height="3.01" fill="#A9A9F5"/>
<rect x="359.58" y="238.58" width="21.12" height="3.62" fill="#ADADF5"/>
<rect x="359.58" y="241.50" width="21.12" height="2.06" fill="#F1F1FC"/>
<rect x="359.58" y="242.86" width="21.12" height="2.54" fill="#FBFBFC"/>
<rect x="359.58" y="244.70" width="21.12" height="2.19" fill="#A7A7F2"/>
<rect x="359.58" y="246.19" width="21.12" height="2.02" fill="#9F9FF2"/>
<rect x="359.58" y="247.50" width="21.12" height="1.84" fill="#9D9DF2"/>
<rect x="359.58" y="248.64" width="21.12" height="3.12" fill="#A0A0F2"/>
<rect x="359.58" y="251.06" width="21.12" height="1.95" fill="#9B9BF2"/>
<rect x="359.58" y="252.30" width="21.12" height="2.73" fill="#9C9CF2"/>
<rect x="359.58" y="254.33" width="21.12" height="3.12" fill="#9797F2"/>
<rect x="359.58" y="256.75" width="21.12" height="3.09" fill="#A2A2F2"/>
<rect x="359.58" y="259.14" width="21.12" height="3.02" fill="#9D9DF2"/>
<rect x="359.58" y="261.46" width="21.12" height="1.81" fill="#9999F2"/>
<rect x="359.58" y="262.57" width="21.12" height="2.70" fill="#9797F2"/>
<rect x="359.58" y="264.57" width="21.12" height="1.88" fill="#A6A6F2"/>
<rect x="359.58" y="265.75" width="21.12" height="1.95" fill="#A7A7F2"/>
<rect x="359.58" y="267.00" width="21.12" height="3.04" fill="#A6A6F5"/>
<rect x="359.58" y="269.34" width="21.12" height="2.96" fill="#A9A9F5"/>
<rect x="359.58" y="271.60" width="21.12" height="2.59" fill="#DBDBFA"/>
<rect x="359.58" y="273.49" width="21.12" height="1.74" fill="#D4D4FA"/>
<rect x="359.58" y="274.53" width="21.12" height="2.17" fill="#DBDBFA"/>
<rect x="359.58" y="276.00" width="21.12" height="1.70" fill="#C3C3F8"/>
<rect x="359.58" y="277.00" width="21.12" height="1.89" fill="#B3B3F5"/>
<rect x="359.58" y="278.19" width="21.12" height="2.62" fill="#AFAFF5"/>
<rect x="359.58" y="280.12" width="21.12" height="3.13" fill="#A5A5F5"/>
<rect x="359.58" y="282.54" width="21.12" height="3.12" fill="#B3B3F5"/>
<rect x="359.58" y="284.96" width="21.12" height="2.13" fill="#A3A3F5"/>
<rect x="359.58" y="286.39" width="21.12" height="2.98" fill="#B2B2F5"/>
<rect x="359.58" y="288.67" width="21.12" height="1.53" fill="#A8A8F5"/>
<rect x="359.58" y="289.50" width="21.12" height="2.66" fill="#F5D4DE"/>
<rect x="359.58" y="291.46" width="21.12" height="1.94" fill="#F5DAE4"/>
<rect x="359.58" y="292.70" width="21.12" height="2.89" fill="#ACACF5"/>
<rect x="359.58" y="294.89" width="21.12" height="1.81" fill="#ABABF5"/>
<rect x="359.58" y="296.00" width="21.12" height="3.25" fill="#F5F5FC"/>
<rect x="359.58" y="298.55" width="21.12" height="2.15" fill="#FFFFFC"/>
<rect x="359.58" y="300.00" width="21.12" height="3.23" fill="#C7C7F8"/>
<rect x="359.58" y="302.53" width="21.12" height="2.17" fill="#C4C4F8"/>
<rect x="359.58" y="304.00" width="21.12" height="3.03" fill="#A2A2F5"/>
<rect x="359.58" y="306.33" width="21.12" height="3.11" fill="#ACACF5"/>
<rect x="359.58" y="308.75" width="21.12" height="1.80" fill="#B3B3F5"/>
<rect x="359.58" y="309.85" width="21.12" height="2.21" fill="#A1A1F5"/>
<rect x="359.58" y="311.35" width="21.12" height="2.11" fill="#A1A1F5"/>
<rect x="359.58" y="312.77" width="21.12" height="2.15" fill="#AEAEF5"/>
<rect x="359.58" y="314.22" width="21.12" height="2.88" fill="#ADADF5"/>
<rect x="359.58" y="316.40" width="21.12" height="3.07" fill="#CECEF8"/>
<rect x="359.58" y="318.77" width="21.12" height="1.53" fill="#C6C6F8"/>
<rect x="359.58" y="319.60" width="21.12" height="2.10" fill="#FAD5DA"/>
<rect x="359.58" y="321.00" width="21.12" height="2.50" fill="#FAD6DB"/>
<rect x="359.58" y="322.80" width="21.12" height="2.88" fill="#F6F6FC"/>
<rect x="359.58" y="324.98" width="21.12" height="1.72" fill="#FBFBFC"/>
<rect x="359.58" y="326.00" width="21.12" height="2.70" fill="#DDDAF5"/>
<rect x="359.58" y="328.00" width="21.12" height="2.11" fill="#E8E5F5"/>
<rect x="359.58" y="329.41" width="21.12" height="2.04" fill="#E7E4F5"/>
<rect x="359.58" y="330.76" width="21.12" height="2.24" fill="#E2DFF5"/>
<rect x="359.58" y="332.30" width="21.12" height="3.90" fill="#F07A7A"/>
<rect x="359.58" y="335.50" width="21.12" height="3.90" fill="#FAD8D8"/>
<rect x="359.58" y="338.70" width="21.12" height="2.20" fill="#F09696"/>
<rect x="359.58" y="340.20" width="21.12" height="2.00" fill="#FAE6E6"/>
<rect x="359.58" y="341.50" width="21.12" height="2.40" fill="#F08C8C"/>
<rect x="359.58" y="343.20" width="21.12" height="2.50" fill="#FAE6E6"/>
<rect x="359.58" y="345.00" width="21.12" height="2.40" fill="#F09696"/>
<rect x="359.58" y="346.70" width="21.12" height="2.50" fill="#FAE6EB"/>
<rect x="359.58" y="348.50" width="21.12" height="3.20" fill="#F09090"/>
<rect x="359.58" y="351.00" width="21.12" height="2.01" fill="#F0EBF8"/>
<rect x="359.58" y="352.31" width="21.12" height="2.59" fill="#EFEAF8"/>
<polygon points="249.80,68.60 250.40,80.00 250.60,100.00 250.40,200.00 249.50,238.00 247.50,250.00 245.50,270.00 245.00,290.00 248.50,296.00 248.00,316.00 245.00,322.00 244.00,340.00 243.50,352.00 244.00,354.90 253.60,354.90 253.60,68.60" fill="#000"/>
<path d="M244.87 68.90H250.32M246.61 70.64H250.41M247.99 71.88H250.47M248.21 72.59H250.51M248.21 72.59V75.41M248.80 73.62H250.56M248.80 73.62V70.91M247.75 74.95H250.63M247.75 74.95V72.22M247.23 76.64H250.72M244.85 77.21H250.75M247.98 78.41H250.82M248.79 78.94H250.84M248.79 78.94V81.81M245.16 79.77H250.89M245.16 79.77V77.70M245.00 81.66H250.92M245.00 81.66V83.59M245.43 82.46H250.92M244.26 83.29H250.93M244.26 83.29V84.84M244.40 84.16H250.94M248.88 84.75H250.95M248.88 84.75V85.88M249.67 85.65H250.96M248.54 86.34H250.96M247.44 87.16H250.97M247.44 87.16V84.34M248.74 87.97H250.98M244.61 88.67H250.99M244.61 88.67V89.84M244.00 89.77H251.00M247.08 90.66H251.01M247.59 91.33H251.01M247.59 91.33V89.70M247.99 92.06H251.02M247.99 92.06V93.46M249.83 93.15H251.03M249.83 93.15V95.18M244.15 93.97H251.04M248.98 94.85H251.05M248.33 96.11H251.06M248.43 96.87H251.07M248.43 96.87V99.73M244.23 98.32H251.08M249.09 99.00H251.09M245.95 99.87H251.10M245.42 100.65H251.10M246.35 101.40H251.10M247.45 102.60H251.09M246.31 103.15H251.09M246.31 103.15V101.31M247.60 104.84H251.09M247.60 104.84V102.58M244.67 105.55H251.09M244.67 105.55V107.25M244.30 107.15H251.09M247.01 107.74H251.08M249.31 108.32H251.08M249.31 108.32V110.36M247.79 108.98H251.08M247.79 108.98V107.74M244.72 109.70H251.08M244.72 109.70V108.66M244.22 111.00H251.08M244.22 111.00V112.86M245.63 112.15H251.08M245.63 112.15V110.79M247.21 113.41H251.07M247.21 113.41V115.58M249.25 113.97H251.07M249.25 113.97V115.83M249.85 114.53H251.07M249.85 114.53V117.19M247.22 115.11H251.07M248.05 116.92H251.07M248.05 116.92V118.89M245.19 117.53H251.06M245.19 117.53V118.34M245.94 118.29H251.06M245.94 118.29V120.03M244.34 119.01H251.06M245.74 120.51H251.06M245.38 121.75H251.06M248.19 122.50H251.06M248.19 122.50V124.82M247.50 123.38H251.05M249.67 124.43H251.05M249.64 125.03H251.05M249.64 125.03V123.15M246.17 125.85H251.05M248.29 126.62H251.05M247.56 127.14H251.05M247.56 127.14V124.97M245.57 127.84H251.04M245.57 127.84V125.79M248.15 129.14H251.04M245.86 130.43H251.04M245.86 130.43V132.61M246.31 131.28H251.04M246.31 131.28V133.30M244.19 132.11H251.04M247.70 132.95H251.03M247.70 132.95V133.79M249.49 133.44H251.03M249.49 133.44V131.33M244.25 134.06H251.03M244.25 134.06V136.03M244.32 134.54H251.03M244.19 135.09H251.03M246.28 135.91H251.03M246.28 135.91V137.22M245.69 137.58H251.02M245.69 137.58V139.03M249.80 138.47H251.02M249.64 139.01H251.02M249.64 139.01V137.80M244.68 140.60H251.02M249.42 141.24H251.02M249.42 141.24V142.39M249.35 142.74H251.01M249.81 143.53H251.01M249.88 144.73H251.01M249.88 144.73V142.06M248.26 145.23H251.01M248.80 146.01H251.01M248.80 146.01V144.70M248.90 147.50H251.00M248.90 147.50V148.45M245.97 148.03H251.00M244.15 148.77H251.00M244.15 148.77V149.70M244.99 149.29H251.00M245.18 150.77H251.00M245.18 150.77V148.93M245.31 151.51H251.00M245.31 151.51V154.14M249.77 152.10H251.00M247.58 152.63H250.99M249.35 153.12H250.99M244.85 153.98H250.99M244.85 153.98V154.82M247.73 154.65H250.99M245.03 156.02H250.99M245.03 156.02V157.07M249.19 157.25H250.99M245.19 157.91H250.98M247.03 158.66H250.98M247.03 158.66V161.01M244.34 161.06H250.98M244.34 161.06V160.20M244.25 161.88H250.98M245.10 162.65H250.97M245.10 162.65V161.56M246.99 163.24H250.97M246.99 163.24V162.36M249.19 163.70H250.97M249.19 163.70V161.01M247.80 164.25H250.97M247.80 164.25V163.42M246.79 165.03H250.97M246.79 165.03V167.39M247.39 165.82H250.97M247.39 165.82V164.04M247.32 166.48H250.97M244.15 167.35H250.97M244.09 168.49H250.96M244.09 168.49V170.56M247.18 169.25H250.96M247.18 169.25V171.86M245.45 169.96H250.96M245.45 169.96V168.38M244.51 170.77H250.96M244.51 170.77V172.66M248.94 171.96H250.96M248.94 171.96V169.58M246.75 173.43H250.95M246.75 173.43V172.19M246.23 173.93H250.95M246.29 174.39H250.95M245.81 175.06H250.95M245.81 175.06V172.53M245.87 176.37H250.95M249.42 176.95H250.95M249.42 176.95V179.02M244.91 180.20H250.94M246.84 180.92H250.94M249.92 182.17H250.94M249.92 182.17V180.98M247.61 183.03H250.93M247.61 183.03V185.35M248.17 183.59H250.93M244.23 184.40H250.93M244.23 184.40V182.69M246.53 184.95H250.93M246.75 186.44H250.93M246.29 187.02H250.93M249.23 187.56H250.92M248.78 188.28H250.92M245.55 189.02H250.92M245.55 189.02V187.15M244.87 190.91H250.92M244.87 190.91V189.89M247.90 191.66H250.92M247.90 191.66V194.13M249.52 195.35H250.91M249.52 195.35V196.97M244.26 196.99H250.91M244.26 196.99V197.80M247.62 197.50H250.90M247.62 197.50V199.93M247.03 198.88H250.90M247.03 198.88V201.30M246.91 199.50H250.90M248.12 200.30H250.89M248.12 200.30V202.97M248.45 200.78H250.88M249.29 201.26H250.87M249.29 201.26V204.23M247.14 202.09H250.85M247.14 202.09V201.11M248.33 202.71H250.84M248.33 202.71V201.06M243.98 203.18H250.82M243.98 203.18V201.34M244.77 204.06H250.80M244.77 204.06V203.21M244.36 205.33H250.77M249.61 206.07H250.76M247.11 210.99H250.64M247.11 210.99V212.82M245.01 211.44H250.63M249.40 211.93H250.62M249.40 211.93V210.80M247.69 212.71H250.60M247.69 212.71V210.88M246.99 214.04H250.57M246.99 214.04V216.50M247.79 214.64H250.55M247.83 215.49H250.53M247.83 215.49V217.17M246.03 216.11H250.52M247.93 216.67H250.51M246.60 217.45H250.49M245.80 218.54H250.46M249.22 219.01H250.45M249.22 219.01V217.45M248.82 219.72H250.43M248.82 219.72V222.51M243.79 221.95H250.38M243.79 221.95V220.16M243.82 222.64H250.36M243.82 222.64V224.65M246.39 223.15H250.35M248.98 223.69H250.34M248.98 223.69V222.14M244.43 224.31H250.32M244.43 224.31V223.19M245.52 225.61H250.29M245.52 225.61V226.99M243.85 227.19H250.26M243.85 227.19V228.26M248.51 228.80H250.22M247.87 229.52H250.20M245.08 230.02H250.19M245.08 230.02V230.97M245.93 230.61H250.18M247.51 231.49H250.15M247.51 231.49V232.96M244.59 232.08H250.14M248.19 232.93H250.12M248.19 232.93V231.55M243.14 233.59H250.10M246.72 234.23H250.09M246.72 234.23V231.42M245.63 234.99H250.07M246.10 235.51H250.06M245.06 236.36H250.04M245.06 236.36V238.89M247.47 236.95H250.02M247.47 236.95V239.70M248.28 238.86H249.86M246.55 240.67H249.56M246.58 242.01H249.33M246.58 242.01V245.01M247.17 242.49H249.25M245.51 243.97H249.00M245.51 243.97V244.83M245.94 244.71H248.88M245.94 244.71V245.68M247.21 245.71H248.71M245.97 246.41H248.60M246.20 247.29H248.45M243.50 248.16H248.31M246.77 249.44H248.09M241.48 250.10H247.99M242.46 250.78H247.92M242.46 250.78V248.94M242.70 251.29H247.87M246.23 252.29H247.77M246.23 252.29V250.13M244.90 253.10H247.69M243.36 253.84H247.62M243.10 254.38H247.56M243.10 254.38V257.03M244.76 255.10H247.49M241.79 255.68H247.43M241.79 255.68V254.46M241.23 257.47H247.25M245.99 260.00H247.00M243.00 261.27H246.87M243.00 261.27V260.02M240.82 262.10H246.79M244.35 262.73H246.73M244.35 262.73V261.90M243.75 264.11H246.59M240.98 264.73H246.53M240.98 264.73V262.42M245.43 265.58H246.44M245.43 265.58V263.76M242.61 266.38H246.36M242.61 266.38V268.94M240.69 266.96H246.30M241.52 267.68H246.23M242.43 269.08H246.09M243.80 269.97H246.00M242.61 270.82H245.98M242.61 270.82V269.89M243.96 271.60H245.96M243.64 272.45H245.94M243.64 272.45V274.24M241.77 273.33H245.92M241.77 273.33V275.64M240.91 275.63H245.86M243.70 276.40H245.84M243.70 276.40V275.05M239.79 276.93H245.83M239.79 276.93V277.94M243.08 277.55H245.81M243.08 277.55V278.67M239.80 279.19H245.77M238.80 280.63H245.73M239.39 281.82H245.70M239.39 281.82V284.75M242.05 282.35H245.69M239.78 282.90H245.68M239.78 282.90V280.92M242.78 283.39H245.67M242.78 283.39V281.87M240.56 284.78H245.63M240.56 284.78V282.84M241.67 286.33H245.59M242.03 286.88H245.58M244.09 289.09H245.52M244.09 289.09V287.38M243.36 290.19H245.61M239.82 290.85H245.99M239.82 290.85V293.16M240.87 292.92H247.20M243.54 293.60H247.60M242.60 294.24H247.97M245.33 294.74H248.27M245.33 294.74V297.27M246.64 295.46H248.69M246.64 295.46V293.05M243.80 296.17H249.00M243.80 296.17V299.00M244.04 296.90H248.98M244.04 296.90V295.10M241.98 297.66H248.96M245.17 298.29H248.94M245.17 298.29V299.90M245.30 299.12H248.92M245.30 299.12V301.95M243.38 301.52H248.86M246.81 302.18H248.85M246.81 302.18V305.03M246.90 302.77H248.83M245.54 303.45H248.81M245.54 303.45V304.68M244.31 304.01H248.80M244.09 305.46H248.76M244.09 305.46V302.60M244.90 305.99H248.75M244.90 305.99V308.82M244.99 306.80H248.73M244.99 306.80V305.73M247.00 307.30H248.72M242.15 308.89H248.68M242.15 308.89V310.43M247.27 309.41H248.66M247.27 309.41V311.80M247.30 310.90H248.63M247.01 312.24H248.59M247.01 312.24V309.93M247.09 312.89H248.58M247.09 312.89V314.50M247.55 313.35H248.57M245.94 314.03H248.55M245.94 314.03V316.68M243.98 314.69H248.53M243.98 314.69V317.49M245.22 315.18H248.52M243.43 316.76H248.12M244.12 317.48H247.76M244.12 317.48V316.12M242.19 318.94H247.03M241.54 320.27H246.36M241.54 320.27V322.80M237.77 320.85H246.08M237.84 321.36H245.82M237.84 321.36V320.33M237.62 322.22H245.49M237.62 322.22V324.59M236.37 323.33H245.43M239.65 323.79H245.40M238.02 324.44H245.36M238.02 324.44V325.57M233.91 325.31H245.32M233.91 325.31V323.20M239.13 325.99H245.28M236.83 326.61H245.24M236.02 327.47H245.20M236.70 328.03H245.17M236.70 328.03V325.57M234.83 328.67H245.13M234.83 328.67V331.25M237.05 329.54H245.08M233.90 330.13H245.05M233.90 330.13V332.64M234.63 330.83H245.01M234.63 330.83V328.96M234.83 331.71H244.96M234.83 331.71V329.97M238.74 332.58H244.91M236.27 333.27H244.87M236.03 334.72H244.79M240.90 335.78H244.73M240.90 335.78V338.62M235.83 336.67H244.69M235.83 336.67V337.62M238.51 337.52H244.64M238.51 337.52V335.92M239.21 338.11H244.60M239.21 338.11V339.43M239.01 339.41H244.53M235.66 340.14H244.49M239.81 340.63H244.47M239.48 341.18H244.45M239.48 341.18V343.42M233.02 341.64H244.43M240.85 342.42H244.40M240.85 342.42V340.59M237.34 343.87H244.34M234.91 344.32H244.32M240.20 344.82H244.30M235.65 345.32H244.28M235.37 345.94H244.25M235.37 345.94V344.00M239.76 346.46H244.23M239.76 346.46V347.28M238.20 347.06H244.21M238.20 347.06V348.32M240.00 347.73H244.18M234.94 348.44H244.15M234.94 348.44V345.68M237.21 349.19H244.12M238.71 349.90H244.09M238.71 349.90V347.96M235.94 351.34H244.03M237.60 351.99H244.00M237.60 351.99V350.16M233.26 352.88H244.15M240.22 353.75H244.30M240.22 353.75V354.90M238.15 354.51H244.43M238.15 354.51V353.33" fill="none" stroke="#000" stroke-width="0.45"/>
<path d="M253.60 69.35H252.22V69.85H253.60M253.60 68.85H251.32V69.60H252.22M251.32 69.23H250.42V70.35H253.60M253.60 70.85H252.22V71.35H253.60M252.22 71.10H251.32V71.85H253.60M251.32 71.48H250.42V72.35H253.60M250.42 69.79H249.52V71.92H250.42M253.60 73.86H252.32V74.36H253.60M253.60 73.35H251.42V74.11H252.32M253.60 72.85H250.52V73.73H251.42M253.60 74.86H250.84V75.36H253.60M250.52 73.29H247.55V75.11H250.84M249.52 70.85H246.36V74.20H247.55M253.60 76.36H252.80V76.86H253.60M253.60 75.86H252.80V76.61H252.80M252.80 76.23H252.14V77.36H253.60M253.60 77.86H252.14V78.36H253.60M252.14 76.80H251.24V78.11H252.14M253.60 78.86H251.24V79.36H253.60M251.24 77.45H250.34V79.11H251.24M253.60 80.36H252.14V80.86H253.60M253.60 79.86H251.24V80.61H252.14M253.60 81.36H252.14V81.86H253.60M253.60 82.36H252.80V82.86H253.60M252.80 82.61H252.14V83.37H253.60M252.14 81.61H251.24V82.99H252.14M251.24 80.24H250.34V82.30H251.24M250.34 78.28H249.44V81.27H250.34M246.36 72.53H243.94V79.78H249.44M253.60 84.37H251.61V84.87H253.60M253.60 83.87H250.71V84.62H251.61M253.60 85.37H251.61V85.87H253.60M251.61 85.62H250.71V86.37H253.60M250.71 84.24H249.81V85.99H250.71M253.60 88.37H252.80V88.87H253.60M253.60 87.87H252.80V88.62H252.80M253.60 87.37H252.51V88.25H252.80M253.60 86.87H251.61V87.81H252.51M253.60 89.37H251.61V89.87H253.60M251.61 87.34H250.71V89.62H251.61M253.60 90.37H252.80V90.87H253.60M253.60 91.37H252.80V91.87H253.60M252.80 91.62H252.80V92.37H253.60M252.80 90.62H252.51V92.00H252.80M253.60 92.88H252.80V93.38H253.60M252.80 93.13H252.51V93.88H253.60M252.51 91.31H251.61V93.50H252.51M253.60 94.88H252.80V95.38H253.60M253.60 94.38H252.51V95.13H252.80M252.51 94.75H251.61V95.88H253.60M251.61 92.41H250.71V95.32H251.61M250.71 88.48H249.81V93.86H250.71M249.81 85.12H248.91V91.17H249.81M243.94 76.15H243.04V88.14H248.91M253.60 96.88H252.39V97.38H253.60M252.39 97.13H251.49V97.88H253.60M253.60 98.38H251.49V98.88H253.60M251.49 97.51H250.59V98.63H251.49M253.60 96.38H249.36V98.07H250.59M253.60 99.88H252.21V100.38H253.60M252.21 100.13H251.31V100.88H253.60M253.60 99.38H250.41V100.51H251.31M250.41 99.95H248.30V101.38H253.60M253.60 102.39H252.59V102.89H253.60M252.59 102.64H251.69V103.39H253.60M253.60 101.88H250.79V103.01H251.69M253.60 103.89H250.79V104.39H253.60M250.79 102.45H249.89V104.14H250.79M248.30 100.66H245.54V103.29H249.89M249.36 97.22H244.64V101.98H245.54M253.60 105.89H249.64V106.39H253.60M253.60 105.39H248.74V106.14H249.64M253.60 104.89H247.84V105.76H248.74M253.60 106.89H251.07V107.39H253.60M253.60 108.39H252.80V108.89H253.60M253.60 107.89H252.80V108.64H252.80M252.80 108.27H251.97V109.39H253.60M253.60 109.89H251.97V110.39H253.60M251.97 108.83H251.07V110.14H251.97M251.07 107.14H250.17V109.49H251.07M253.60 111.39H252.09V111.90H253.60M253.60 110.89H251.19V111.65H252.09M250.17 108.31H249.07V111.27H251.19M253.60 112.40H252.34V112.90H253.60M252.34 112.65H251.44V113.40H253.60M251.44 113.02H250.54V113.90H253.60M250.54 113.46H249.64V114.40H253.60M253.60 114.90H250.54V115.40H253.60M253.60 115.90H252.80V116.40H253.60M252.80 116.15H252.80V116.90H253.60M253.60 117.40H252.80V117.90H253.60M252.80 116.53H252.80V117.65H252.80M252.80 117.09H252.80V118.40H253.60M253.60 118.90H252.80V119.40H253.60M252.80 119.15H252.80V119.90H253.60M252.80 117.75H252.34V119.53H252.80M253.60 120.40H252.80V120.90H253.60M253.60 121.41H252.80V121.91H253.60M252.80 121.66H252.80V122.41H253.60M252.80 120.65H252.80V122.03H252.80M252.80 121.34H252.34V122.91H253.60M252.34 118.64H251.44V122.12H252.34M253.60 123.41H251.44V123.91H253.60M251.44 120.38H250.54V123.66H251.44M250.54 115.15H249.64V122.02H250.54M249.64 113.93H248.74V118.58H249.64M249.07 109.79H247.84V116.26H248.74M247.84 105.33H246.94V113.02H247.84M244.64 99.60H243.74V109.17H246.94M243.04 82.15H238.60V104.39H243.74M253.60 124.41H251.40V124.91H253.60M251.40 124.66H249.94V125.41H253.60M253.60 125.91H249.94V126.41H253.60M249.94 125.03H249.04V126.16H249.94M253.60 127.91H252.80V128.41H253.60M253.60 127.41H252.34V128.16H252.80M253.60 126.91H251.44V127.79H252.34M253.60 129.41H252.34V129.91H253.60M253.60 128.91H251.44V129.66H252.34M251.44 127.35H250.54V129.29H251.44M249.04 125.60H248.14V128.32H250.54M253.60 130.41H250.06V130.92H253.60M250.06 130.67H249.05V131.42H253.60M248.14 126.96H247.24V131.04H249.05M253.60 132.92H251.35V133.42H253.60M253.60 132.42H250.45V133.17H251.35M253.60 131.92H249.55V132.79H250.45M253.60 134.42H251.35V134.92H253.60M253.60 133.92H250.45V134.67H251.35M250.45 134.29H249.55V135.42H253.60M249.55 132.35H248.65V134.86H249.55M253.60 135.92H249.52V136.42H253.60M248.65 133.61H247.75V136.17H249.52M247.24 129.00H246.34V134.89H247.75M253.60 138.42H252.19V138.92H253.60M253.60 137.92H251.29V138.67H252.19M253.60 137.42H250.39V138.30H251.29M253.60 136.92H249.49V137.86H250.39M249.49 137.39H248.59V139.42H253.60M253.60 139.92H248.68V140.43H253.60M248.59 138.41H247.69V140.17H248.68M253.60 141.43H251.16V141.93H253.60M253.60 140.93H250.26V141.68H251.16M253.60 142.93H251.93V143.43H253.60M253.60 142.43H251.03V143.18H251.93M251.03 142.80H250.13V143.93H253.60M250.26 141.30H248.59V143.37H250.13M253.60 144.43H250.93V144.93H253.60M248.59 142.33H247.69V144.68H250.93M247.69 139.29H246.79V143.51H247.69M246.34 131.94H240.32V141.40H246.79M253.60 145.43H251.31V145.93H253.60M251.31 145.68H250.41V146.43H253.60M253.60 147.93H252.80V148.43H253.60M253.60 148.93H252.80V149.43H253.60M252.80 148.18H252.80V149.18H252.80M253.60 147.43H252.28V148.68H252.80M253.60 146.93H251.38V148.06H252.28M251.38 147.50H250.48V149.94H253.60M253.60 150.94H252.28V151.44H253.60M252.28 151.19H251.38V151.94H253.60M253.60 150.44H250.48V151.56H251.38M250.48 148.72H249.58V151.00H250.48M250.41 146.06H248.68V149.86H249.58M253.60 152.44H249.58V152.94H253.60M253.60 153.44H249.58V153.94H253.60M249.58 152.69H248.68V153.69H249.58M248.68 147.96H247.78V153.19H248.68M253.60 154.44H249.32V154.94H253.60M253.60 155.44H249.32V155.94H253.60M249.32 154.69H248.42V155.69H249.32M253.60 156.44H252.80V156.94H253.60M253.60 157.44H252.80V157.94H253.60M252.80 156.69H252.02V157.69H252.80M253.60 158.44H252.02V158.94H253.60M252.02 157.19H251.12V158.69H252.02M253.60 159.45H252.80V159.95H253.60M252.80 159.70H252.02V160.45H253.60M252.02 160.07H251.12V160.95H253.60M251.12 157.94H250.22V160.51H251.12M253.60 161.45H250.22V161.95H253.60M250.22 159.23H249.32V161.70H250.22M253.60 162.95H250.63V163.45H253.60M253.60 162.45H249.32V163.20H250.63M249.32 160.46H248.42V162.82H249.32M248.42 155.19H247.52V161.64H248.42M253.60 163.95H249.19V164.45H253.60M249.19 164.20H248.29V164.95H253.60M247.52 158.42H246.62V164.58H248.29M247.78 150.57H242.28V161.50H246.62M240.32 136.67H239.20V156.03H242.28M238.60 93.27H233.40V146.35H239.20M253.60 166.45H249.43V166.95H253.60M253.60 165.95H246.48V166.70H249.43M253.60 165.45H245.58V166.33H246.48M253.60 167.45H250.68V167.95H253.60M250.68 167.70H249.78V168.45H253.60M253.60 169.46H250.68V169.96H253.60M253.60 168.96H249.78V169.71H250.68M249.78 168.08H248.88V169.33H249.78M253.60 170.46H247.96V170.96H253.60M253.60 171.46H249.76V171.96H253.60M249.76 171.71H248.86V172.46H253.60M253.60 172.96H249.22V173.46H253.60M248.86 172.08H247.96V173.21H249.22M247.96 170.71H247.06V172.65H247.96M253.60 173.96H250.66V174.46H253.60M253.60 174.96H252.46V175.46H253.60M252.46 175.21H251.56V175.96H253.60M253.60 176.46H251.56V176.96H253.60M251.56 175.59H250.66V176.71H251.56M250.66 174.21H249.76V176.15H250.66M253.60 177.46H251.56V177.96H253.60M251.56 177.71H250.66V178.47H253.60M253.60 179.47H251.56V179.97H253.60M253.60 178.97H250.66V179.72H251.56M250.66 178.09H249.76V179.34H250.66M249.76 175.18H248.86V178.72H249.76M253.60 180.97H249.76V181.47H253.60M253.60 180.47H248.86V181.22H249.76M248.86 176.95H247.96V180.84H248.86M253.60 182.47H250.88V182.97H253.60M253.60 181.97H249.98V182.72H250.88M247.96 178.90H247.06V182.34H249.98M247.06 171.68H246.16V180.62H247.06M248.88 168.70H241.20V176.15H246.16M245.58 165.89H240.30V172.43H241.20M253.60 183.47H250.91V183.97H253.60M250.91 183.72H249.97V184.47H253.60M249.97 184.10H246.71V184.97H253.60M253.60 185.97H249.34V186.47H253.60M253.60 185.47H248.03V186.22H249.34M253.60 186.97H248.93V187.47H253.60M253.60 188.98H251.63V189.48H253.60M253.60 188.48H250.73V189.23H251.63M253.60 187.98H249.83V188.85H250.73M253.60 189.98H250.73V190.48H253.60M250.73 190.23H249.83V190.98H253.60M249.83 188.41H248.93V190.60H249.83M248.93 187.22H248.03V189.51H248.93M248.03 185.85H247.13V188.37H248.03M246.71 184.53H245.18V187.11H247.13M253.60 191.98H250.45V192.48H253.60M250.45 192.23H249.55V192.98H253.60M253.60 191.48H248.65V192.60H249.55M253.60 193.48H249.53V193.98H253.60M248.65 192.04H247.75V193.73H249.53M253.60 194.98H250.88V195.48H253.60M253.60 194.48H249.98V195.23H250.88M249.98 194.86H249.08V195.98H253.60M249.08 195.42H248.10V196.48H253.60M247.75 192.89H246.85V195.95H248.10M253.60 196.98H250.56V197.49H253.60M253.60 197.99H248.65V198.49H253.60M253.60 199.49H250.89V199.99H253.60M253.60 198.99H249.99V199.74H250.89M248.65 198.24H247.75V199.36H249.99M250.56 197.23H246.85V198.80H247.75M246.85 194.42H245.95V198.02H246.85M245.18 185.82H240.30V196.22H245.95M240.30 169.16H239.40V191.02H240.30M253.60 200.49H248.63V200.99H253.60M253.60 202.49H251.75V202.99H253.60M251.75 202.74H250.85V203.49H253.60M253.60 201.99H249.95V203.12H250.85M253.60 201.49H245.74V202.55H249.95M253.60 204.99H250.57V205.49H253.60M253.60 204.49H249.67V205.24H250.57M253.60 203.99H247.01V204.87H249.67M245.74 202.02H244.32V204.43H247.01M248.63 200.74H243.42V203.23H244.32M253.60 205.99H246.33V206.49H253.60M243.42 201.98H242.52V206.24H246.33M253.60 207.00H252.17V207.50H253.60M253.60 208.00H252.17V208.50H253.60M252.17 207.25H251.27V208.25H252.17M251.27 207.75H250.37V209.00H253.60M250.37 208.37H249.47V209.50H253.60M253.60 210.00H250.16V210.50H253.60M250.16 210.25H246.89V211.00H253.60M253.60 211.50H251.48V212.00H253.60M251.48 211.75H250.58V212.50H253.60M253.60 213.00H249.96V213.50H253.60M250.58 212.13H249.06V213.25H249.96M253.60 214.50H250.61V215.00H253.60M250.61 214.75H249.71V215.50H253.60M253.60 214.00H248.81V215.13H249.71M248.81 214.57H247.91V216.00H253.60M253.60 216.50H248.81V217.01H253.60M253.60 217.51H248.81V218.01H253.60M248.81 216.76H247.91V217.76H248.81M247.91 215.28H247.01V217.26H247.91M253.60 218.51H248.81V219.01H253.60M253.60 219.51H250.69V220.01H253.60M248.81 218.76H247.91V219.76H250.69M253.60 220.51H249.40V221.01H253.60M247.91 219.26H247.01V220.76H249.40M247.01 216.27H246.11V220.01H247.01M249.06 212.69H245.21V218.14H246.11M253.60 222.51H250.40V223.01H253.60M250.40 222.76H249.50V223.51H253.60M249.50 223.14H248.60V224.01H253.60M253.60 222.01H247.70V223.57H248.60M253.60 225.01H248.70V225.51H253.60M253.60 224.51H247.80V225.26H248.70M247.70 222.79H246.80V224.89H247.80M253.60 221.51H245.62V223.84H246.80M245.21 215.41H244.31V222.68H245.62M246.89 210.62H243.41V219.04H244.31M249.47 208.93H242.51V214.83H243.41M242.52 204.11H241.61V211.88H242.51M253.60 227.02H251.04V227.52H253.60M253.60 226.52H250.14V227.27H251.04M253.60 226.01H249.24V226.89H250.14M253.60 228.02H251.94V228.52H253.60M253.60 229.02H251.94V229.52H253.60M251.94 228.27H251.04V229.27H251.94M253.60 230.52H252.80V231.02H253.60M252.80 230.77H251.94V231.52H253.60M253.60 230.02H251.04V231.15H251.94M251.04 228.77H250.14V230.58H251.04M250.14 229.68H249.24V232.02H253.60M249.24 226.45H248.34V230.85H249.24M253.60 232.52H249.24V233.02H253.60M253.60 234.02H251.04V234.52H253.60M253.60 233.52H250.14V234.27H251.04M253.60 235.02H251.04V235.52H253.60M251.04 235.27H250.14V236.03H253.60M250.14 233.90H249.24V235.65H250.14M249.24 232.77H248.34V234.77H249.24M248.34 228.65H247.44V233.77H248.34M253.60 236.53H249.29V237.03H253.60M247.44 231.21H238.94V236.78H249.29M253.60 237.53H247.63V238.03H253.60M253.60 239.53H250.93V240.03H253.60M250.93 239.78H250.03V240.53H253.60M253.60 239.03H249.13V240.15H250.03M253.60 238.53H248.23V239.59H249.13M247.63 237.78H245.65V239.06H248.23M253.60 241.03H249.99V241.53H253.60M249.99 241.28H249.09V242.03H253.60M249.09 241.66H244.59V242.53H253.60M245.65 238.42H243.69V242.09H244.59M238.94 233.99H238.04V240.26H243.69M241.61 208.00H232.00V237.13H238.04M239.40 180.09H229.60V222.56H232.00M233.40 119.81H227.30V201.33H229.60M253.60 243.03H245.79V243.53H253.60M253.60 244.03H245.79V244.53H253.60M245.79 243.28H244.89V244.28H245.79M244.89 243.78H243.99V245.03H253.60M253.60 245.54H245.81V246.04H253.60M253.60 246.54H249.98V247.04H253.60M249.98 246.79H249.08V247.54H253.60M253.60 248.04H246.09V248.54H253.60M253.60 249.04H247.19V249.54H253.60M247.19 249.29H246.29V250.04H253.60M246.09 248.29H244.60V249.66H246.29M253.60 250.54H245.08V251.04H253.60M245.08 250.79H244.01V251.54H253.60M244.60 248.98H243.11V251.17H244.01M249.08 247.16H241.66V250.07H243.11M245.81 245.79H240.09V248.62H241.66M243.99 244.41H239.19V247.20H240.09M253.60 252.04H245.81V252.54H253.60M245.81 252.29H243.00V253.04H253.60M253.60 253.54H245.89V254.04H253.60M245.89 253.79H244.99V254.54H253.60M253.60 255.05H248.70V255.55H253.60M244.99 254.17H243.90V255.30H248.70M253.60 257.05H250.09V257.55H253.60M253.60 256.55H249.19V257.30H250.09M253.60 258.55H250.99V259.05H253.60M250.99 258.80H250.09V259.55H253.60M253.60 258.05H249.19V259.17H250.09M249.19 256.92H248.29V258.61H249.19M253.60 256.05H247.39V257.77H248.29M253.60 260.05H247.48V260.55H253.60M247.39 256.91H245.02V260.30H247.48M245.02 258.60H244.12V261.05H253.60M243.90 254.73H243.00V259.83H244.12M243.00 252.67H242.10V257.28H243.00M239.19 245.81H238.29V254.97H242.10M253.60 261.55H247.68V262.05H253.60M253.60 263.05H250.24V263.55H253.60M250.24 263.30H249.34V264.05H253.60M253.60 262.55H248.44V263.68H249.34M248.44 263.12H244.14V264.56H253.60M247.68 261.80H243.24V263.84H244.14M238.29 250.39H237.39V262.82H243.24M253.60 265.06H246.22V265.56H253.60M246.22 265.31H245.32V266.06H253.60M253.60 266.56H249.32V267.06H253.60M253.60 268.06H249.74V268.56H253.60M249.74 268.31H248.84V269.06H253.60M253.60 267.56H245.18V268.68H248.84M249.32 266.81H244.28V268.12H245.18M245.32 265.68H243.38V267.46H244.28M253.60 269.56H244.81V270.06H253.60M253.60 271.56H250.22V272.06H253.60M253.60 271.06H249.32V271.81H250.22M253.60 270.56H248.42V271.44H249.32M244.81 269.81H243.38V271.00H248.42M243.38 266.57H242.48V270.41H243.38M253.60 273.06H248.23V273.56H253.60M253.60 272.56H247.33V273.31H248.23M253.60 274.07H245.13V274.57H253.60M247.33 272.94H242.48V274.32H245.13M242.48 268.49H241.58V273.63H242.48M253.60 275.07H244.12V275.57H253.60M244.12 275.32H243.22V276.07H253.60M253.60 276.57H247.05V277.07H253.60M243.22 275.69H242.32V276.82H247.05M253.60 277.57H248.32V278.07H253.60M248.32 277.82H245.77V278.57H253.60M253.60 279.07H247.55V279.57H253.60M253.60 280.07H247.33V280.57H253.60M247.55 279.32H246.04V280.32H247.33M245.77 278.19H244.87V279.82H246.04M253.60 281.07H246.37V281.57H253.60M246.37 281.32H245.20V282.07H253.60M253.60 283.07H250.20V283.58H253.60M250.20 283.32H249.30V284.08H253.60M253.60 282.57H247.58V283.70H249.30M253.60 284.58H247.58V285.08H253.60M247.58 283.14H246.68V284.83H247.58M253.60 286.08H246.33V286.58H253.60M253.60 285.58H244.12V286.33H246.33M253.60 287.08H244.72V287.58H253.60M244.12 285.95H243.22V287.33H244.72M246.68 283.98H242.32V286.64H243.22M245.20 281.70H241.42V285.31H242.32M244.87 279.01H239.38V283.50H241.42M242.32 276.26H238.48V281.26H239.38M241.58 271.06H236.30V278.76H238.48M237.39 256.60H231.00V274.91H236.30M253.60 288.08H249.73V288.58H253.60M249.73 288.33H248.83V289.08H253.60M248.83 288.71H244.39V289.58H253.60M253.60 290.08H247.09V290.58H253.60M247.09 290.33H246.19V291.08H253.60M253.60 291.58H248.89V292.08H253.60M248.89 291.83H247.99V292.58H253.60M247.99 292.21H247.09V293.09H253.60M253.60 293.59H250.69V294.09H253.60M250.69 293.84H249.79V294.59H253.60M249.79 294.21H248.89V295.09H253.60M248.89 294.65H247.99V295.59H253.60M247.99 295.12H247.09V296.09H253.60M247.09 292.65H246.19V295.60H247.09M246.19 290.71H245.29V294.13H246.19M253.60 297.09H247.99V297.59H253.60M253.60 296.59H247.09V297.34H247.99M247.09 296.96H246.19V298.09H253.60M253.60 298.59H249.26V299.09H253.60M249.26 298.84H248.36V299.59H253.60M246.19 297.53H245.29V299.22H248.36M245.29 292.42H244.39V298.37H245.29M244.39 289.14H243.49V295.39H244.39M253.60 300.09H249.57V300.59H253.60M249.57 300.34H247.26V301.09H253.60M253.60 302.60H249.24V303.10H253.60M253.60 302.09H248.34V302.85H249.24M248.34 302.47H247.44V303.60H253.60M253.60 301.59H246.54V303.03H247.44M247.26 300.72H245.64V302.31H246.54M253.60 304.60H249.32V305.10H253.60M249.32 304.85H248.42V305.60H253.60M253.60 304.10H247.52V305.22H248.42M253.60 307.10H248.87V307.60H253.60M248.87 307.35H247.97V308.10H253.60M253.60 306.60H247.07V307.73H247.97M253.60 306.10H246.17V307.16H247.07M253.60 309.10H249.65V309.60H253.60M253.60 308.60H248.75V309.35H249.65M248.75 308.98H247.85V310.10H253.60M253.60 311.10H250.55V311.60H253.60M253.60 310.60H249.65V311.35H250.55M253.60 312.61H250.55V313.11H253.60M253.60 312.11H249.65V312.86H250.55M249.65 310.98H248.75V312.48H249.65M253.60 313.61H248.75V314.11H253.60M248.75 311.73H247.85V313.86H248.75M247.85 309.54H246.95V312.79H247.85M253.60 314.61H247.85V315.11H253.60M247.85 314.86H246.95V315.61H253.60M246.95 311.17H246.05V315.23H246.95M246.17 306.63H245.15V313.20H246.05M247.52 304.66H244.25V309.92H245.15M253.60 317.11H249.18V317.61H253.60M253.60 316.61H248.28V317.36H249.18M253.60 316.11H244.01V316.99H248.28M244.25 307.29H237.13V316.55H244.01M245.64 301.52H236.23V311.92H237.13M243.49 292.27H235.00V306.72H236.23M231.00 265.76H227.00V299.49H235.00M227.30 160.57H224.20V282.62H227.00M253.60 319.11H248.38V319.61H253.60M253.60 318.61H247.48V319.36H248.38M253.60 318.11H246.58V318.99H247.48M246.58 318.55H245.68V320.11H253.60M245.68 319.33H244.78V320.61H253.60M253.60 321.11H242.23V321.62H253.60M244.78 319.97H241.16V321.36H242.23M253.60 322.12H238.63V322.62H253.60M253.60 323.12H246.46V323.62H253.60M246.46 323.37H241.33V324.12H253.60M238.63 322.37H236.62V323.74H241.33M253.60 325.12H241.39V325.62H253.60M253.60 324.62H236.62V325.37H241.39M236.62 323.05H235.72V324.99H236.62M241.16 320.67H234.82V324.02H235.72M253.60 326.12H241.59V326.62H253.60M234.82 322.35H225.20V326.37H241.59M253.60 327.12H245.09V327.62H253.60M253.60 328.62H245.99V329.12H253.60M253.60 328.12H245.09V328.87H245.99M245.09 327.37H244.19V328.50H245.09M253.60 329.62H247.35V330.12H253.60M247.35 329.87H243.25V330.62H253.60M243.25 330.25H242.35V331.13H253.60M253.60 331.63H244.51V332.13H253.60M244.51 331.88H243.61V332.63H253.60M253.60 333.13H247.37V333.63H253.60M243.61 332.25H242.35V333.38H247.37M242.35 330.69H241.45V332.81H242.35M244.19 327.93H237.49V331.75H241.45M253.60 334.13H244.91V334.63H253.60M244.91 334.38H244.01V335.13H253.60M244.01 334.75H237.49V335.63H253.60M237.49 329.84H236.59V335.19H237.49M225.20 324.36H224.30V332.52H236.59M253.60 337.13H244.15V337.63H253.60M253.60 336.63H243.25V337.38H244.15M253.60 336.13H242.35V337.01H243.25M253.60 338.13H243.76V338.63H253.60M243.76 338.38H239.47V339.13H253.60M242.35 336.57H237.62V338.76H239.47M253.60 339.63H245.90V340.13H253.60M253.60 340.64H242.97V341.14H253.60M253.60 342.14H246.39V342.64H253.60M253.60 341.64H245.49V342.39H246.39M253.60 343.14H246.09V343.64H253.60M245.49 342.01H242.55V343.39H246.09M242.97 340.89H241.65V342.70H242.55M253.60 345.14H243.45V345.64H253.60M253.60 344.64H242.55V345.39H243.45M253.60 344.14H241.65V345.01H242.55M241.65 341.79H240.75V344.58H241.65M245.90 339.88H233.24V343.18H240.75M237.62 337.66H232.34V341.53H233.24M253.60 346.14H247.31V346.64H253.60M253.60 347.14H242.43V347.64H253.60M242.43 347.39H241.53V348.14H253.60M247.31 346.39H240.32V347.77H241.53M253.60 350.15H243.25V350.65H253.60M253.60 349.64H242.20V350.40H243.25M253.60 349.14H241.30V350.02H242.20M253.60 348.64H236.13V349.58H241.30M253.60 351.15H241.05V351.65H253.60M241.05 351.40H240.15V352.15H253.60M236.13 349.11H229.73V351.77H240.15M240.32 347.08H226.10V350.44H229.73M253.60 353.65H241.87V354.15H253.60M253.60 353.15H239.65V353.90H241.87M239.65 353.52H236.98V354.65H253.60M253.60 352.65H236.08V354.09H236.98M226.10 348.76H225.20V353.37H236.08M232.34 339.60H224.30V351.06H225.20M224.30 328.44H223.40V345.33H224.30M224.20 221.60H222.60V336.88H223.40" fill="none" stroke="#000" stroke-width="0.7"/>
<defs><linearGradient id="cb" x1="0" y1="0" x2="0" y2="1"><stop offset="0" stop-color="#FF0000"/><stop offset="0.5" stop-color="#FFFFFF"/><stop offset="1" stop-color="#0000FF"/></linearGradient></defs>
<rect x="384.0" y="68.6" width="5.7" height="112.4" fill="url(#cb)"/>
<text x="391.0" y="72.7" font-family='"Liberation Sans", sans-serif' font-size="6.0" fill="#111">2</text>
<text x="391.0" y="99.4" font-family='"Liberation Sans", sans-serif' font-size="6.0" fill="#111">1</text>
<text x="391.0" y="127.1" font-family='"Liberation Sans", sans-serif' font-size="6.0" fill="#111">0</text>
<text x="391.0" y="155.1" font-family='"Liberation Sans", sans-serif' font-size="6.0" fill="#111">-1</text>
<text x="391.0" y="181.7" font-family='"Liberation Sans", sans-serif' font-size="6.0" fill="#111">-2</text>
<text x="266.2" y="366.0" font-family='"Liberation Serif", serif' font-weight="bold" font-size="6.2" fill="#111" text-anchor="middle">N0</text>
<text x="285.4" y="366.0" font-family='"Liberation Serif", serif' font-weight="bold" font-size="6.2" fill="#111" text-anchor="middle">N4</text>
<text x="307.3" y="366.0" font-family='"Liberation Serif", serif' font-weight="bold" font-size="6.2" fill="#111" text-anchor="middle">N8</text>
<text x="328.4" y="366.0" font-family='"Liberation Serif", serif' font-weight="bold" font-size="6.2" fill="#111" text-anchor="middle">M0</text>
<text x="350.3" y="366.0" font-family='"Liberation Serif", serif' font-weight="bold" font-size="6.2" fill="#111" text-anchor="middle">M4</text>
<text x="371.4" y="366.0" font-family='"Liberation Serif", serif' font-weight="bold" font-size="6.2" fill="#111" text-anchor="middle">M8</text></svg></body></html>
